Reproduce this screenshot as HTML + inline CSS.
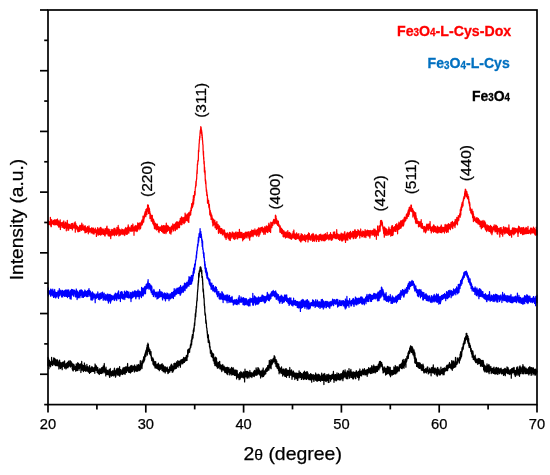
<!DOCTYPE html>
<html><head><meta charset="utf-8"><title>XRD patterns</title>
<style>html,body{margin:0;padding:0;background:#fff;width:550px;height:475px;overflow:hidden}svg{display:block}</style>
</head><body>
<svg width="550" height="475" viewBox="0 0 550 475">
<rect width="550" height="475" fill="#fff"/>
<g><polyline fill="none" stroke="#000000" stroke-width="1.25" stroke-linejoin="round" points="48.0,366.1 48.1,357.3 48.2,362.9 48.3,361.2 48.4,361.5 48.5,361.9 48.6,358.7 48.7,362.1 48.8,361.0 48.9,368.8 49.0,363.0 49.1,361.7 49.2,361.9 49.3,361.1 49.4,360.4 49.5,361.7 49.6,363.5 49.7,362.2 49.8,364.6 49.9,362.5 50.0,363.0 50.1,366.0 50.2,364.3 50.3,362.4 50.4,362.9 50.5,364.3 50.6,366.8 50.7,362.5 50.8,362.8 50.9,365.1 51.0,361.5 51.1,362.6 51.2,364.8 51.3,364.3 51.4,363.3 51.5,364.2 51.6,357.3 51.7,364.6 51.8,361.2 51.9,359.7 52.0,363.5 52.1,364.5 52.2,362.3 52.3,360.9 52.4,363.1 52.5,363.0 52.6,365.5 52.7,364.2 52.8,363.2 52.9,365.0 53.0,362.4 53.1,361.4 53.2,364.2 53.3,364.3 53.4,362.8 53.5,361.5 53.6,363.3 53.7,357.9 53.8,363.8 53.9,363.4 54.0,359.3 54.1,362.5 54.2,360.4 54.3,363.7 54.4,358.5 54.5,360.7 54.6,363.8 54.7,364.8 54.8,358.3 54.9,361.4 55.0,362.8 55.1,360.9 55.2,365.2 55.3,359.7 55.4,363.0 55.5,360.3 55.6,365.4 55.7,362.8 55.8,362.0 55.9,359.6 56.0,365.8 56.1,364.1 56.2,364.2 56.3,365.0 56.4,363.4 56.5,361.5 56.6,361.2 56.7,361.5 56.8,365.4 56.9,360.2 57.0,361.9 57.1,362.3 57.2,363.3 57.3,364.0 57.4,360.7 57.5,359.9 57.6,363.3 57.7,365.8 57.8,365.1 57.9,364.1 58.0,363.2 58.1,364.3 58.2,363.3 58.3,365.2 58.4,362.1 58.5,363.9 58.6,363.6 58.7,365.0 58.8,364.5 58.9,369.0 59.0,367.1 59.1,367.3 59.2,360.7 59.3,364.1 59.4,363.4 59.5,365.7 59.6,360.1 59.7,366.6 59.8,366.4 59.9,361.8 60.0,362.6 60.1,362.9 60.2,364.3 60.3,365.7 60.4,368.6 60.5,364.2 60.6,366.2 60.7,364.9 60.8,368.0 60.9,365.9 61.0,367.2 61.1,362.6 61.2,364.4 61.3,363.4 61.4,367.7 61.5,366.0 61.6,364.2 61.7,364.0 61.8,365.7 61.9,363.6 62.0,363.1 62.1,365.9 62.2,369.7 62.3,364.6 62.4,364.1 62.5,362.9 62.6,362.4 62.7,365.9 62.8,366.4 62.9,364.8 63.0,365.2 63.1,364.9 63.2,364.9 63.3,361.9 63.4,363.9 63.5,365.0 63.6,363.4 63.7,364.0 63.8,363.2 63.9,364.3 64.0,366.4 64.1,364.0 64.2,364.5 64.3,366.4 64.4,365.8 64.5,368.1 64.6,360.9 64.7,366.4 64.8,363.8 64.9,365.2 65.0,366.4 65.1,366.8 65.2,366.6 65.3,364.9 65.4,367.7 65.5,364.2 65.6,364.4 65.7,366.3 65.8,363.8 65.9,368.9 66.0,366.6 66.1,368.8 66.2,364.8 66.3,364.0 66.4,364.9 66.5,365.8 66.6,363.5 66.7,365.2 66.8,364.4 66.9,367.8 67.0,363.5 67.1,366.7 67.2,363.4 67.3,362.6 67.4,363.3 67.5,362.4 67.6,364.9 67.7,366.7 67.8,365.1 67.9,365.8 68.0,367.7 68.1,365.2 68.2,365.0 68.3,363.9 68.4,361.6 68.5,365.8 68.6,361.1 68.7,365.6 68.8,364.3 68.9,366.3 69.0,364.1 69.1,362.8 69.2,365.2 69.3,363.4 69.4,364.2 69.5,364.7 69.6,364.3 69.7,364.1 69.8,362.9 69.9,364.2 70.0,360.6 70.1,364.2 70.2,362.1 70.3,366.6 70.4,367.0 70.5,361.1 70.6,364.9 70.7,364.5 70.8,363.0 70.9,365.8 71.0,364.2 71.1,361.5 71.2,364.3 71.3,364.9 71.4,365.3 71.5,362.7 71.6,366.3 71.7,366.3 71.8,362.8 71.9,363.9 72.0,365.2 72.1,364.4 72.2,368.9 72.3,366.2 72.4,363.6 72.5,364.2 72.6,365.6 72.7,370.3 72.8,365.9 72.9,366.7 73.0,367.5 73.1,366.5 73.2,370.9 73.3,365.5 73.4,367.9 73.5,366.9 73.6,367.8 73.7,364.2 73.8,369.7 73.9,366.3 74.0,366.8 74.1,364.9 74.2,365.3 74.3,368.0 74.4,368.8 74.5,368.5 74.6,369.3 74.7,368.2 74.8,366.8 74.9,368.5 75.0,367.9 75.1,367.0 75.2,368.6 75.3,369.5 75.4,367.5 75.5,366.5 75.6,368.6 75.7,371.2 75.8,367.1 75.9,367.3 76.0,367.2 76.1,369.8 76.2,363.9 76.3,367.9 76.4,369.7 76.5,366.0 76.6,370.5 76.7,368.3 76.8,366.1 76.9,367.4 77.0,364.1 77.1,366.0 77.2,370.6 77.3,365.4 77.4,370.5 77.5,366.8 77.6,368.6 77.7,367.0 77.8,362.7 77.9,365.6 78.0,366.9 78.1,364.5 78.2,364.2 78.3,367.4 78.4,365.6 78.5,363.7 78.6,365.8 78.7,369.0 78.8,366.5 78.9,369.2 79.0,370.3 79.1,367.1 79.2,364.8 79.3,364.5 79.4,366.9 79.5,368.5 79.6,367.4 79.7,367.7 79.8,366.0 79.9,367.4 80.0,365.9 80.1,366.1 80.2,364.3 80.3,363.8 80.4,365.8 80.5,364.5 80.6,364.7 80.7,368.1 80.8,366.8 80.9,372.5 81.0,368.8 81.1,365.7 81.2,368.4 81.3,367.7 81.4,365.9 81.5,369.0 81.6,365.7 81.7,361.4 81.8,368.7 81.9,366.0 82.0,370.0 82.1,366.0 82.2,365.0 82.3,370.1 82.4,364.9 82.5,367.4 82.6,369.9 82.7,367.5 82.8,367.1 82.9,367.5 83.0,368.6 83.1,365.8 83.2,368.5 83.3,368.3 83.4,371.6 83.5,366.7 83.6,365.7 83.7,368.9 83.8,366.7 83.9,368.0 84.0,367.7 84.1,369.6 84.2,366.3 84.3,367.6 84.4,363.0 84.5,366.0 84.6,370.6 84.7,366.4 84.8,366.2 84.9,365.3 85.0,368.5 85.1,367.9 85.2,365.4 85.3,368.8 85.4,368.1 85.5,369.4 85.6,366.8 85.7,371.3 85.8,368.8 85.9,367.8 86.0,367.1 86.1,367.8 86.2,369.8 86.3,367.8 86.4,370.5 86.5,369.5 86.6,370.8 86.7,369.7 86.8,368.0 86.9,364.4 87.0,369.0 87.1,370.0 87.2,369.0 87.3,370.0 87.4,368.2 87.5,368.2 87.6,367.0 87.7,371.3 87.8,369.2 87.9,367.9 88.0,366.6 88.1,368.8 88.2,371.7 88.3,369.8 88.4,367.6 88.5,372.0 88.6,372.0 88.7,371.2 88.8,370.8 88.9,371.6 89.0,370.6 89.1,371.1 89.2,368.2 89.3,372.5 89.4,370.1 89.5,373.4 89.6,365.6 89.7,370.9 89.8,371.5 89.9,369.0 90.0,370.5 90.1,371.1 90.2,370.8 90.3,368.8 90.4,369.6 90.5,371.7 90.6,372.3 90.7,370.1 90.8,370.1 90.9,370.3 91.0,371.8 91.1,367.9 91.2,367.4 91.3,370.2 91.4,367.6 91.5,368.8 91.6,370.2 91.7,371.1 91.8,368.0 91.9,371.5 92.0,366.5 92.1,370.9 92.2,366.8 92.3,367.3 92.4,370.7 92.5,368.7 92.6,367.9 92.7,368.5 92.8,370.3 92.9,369.3 93.0,369.4 93.1,371.4 93.2,368.0 93.3,368.3 93.4,368.1 93.5,371.1 93.6,370.9 93.7,371.5 93.8,369.0 93.9,368.9 94.0,370.8 94.1,368.2 94.2,370.4 94.3,370.1 94.4,367.3 94.5,368.5 94.6,368.3 94.7,371.8 94.8,373.3 94.9,368.4 95.0,368.5 95.1,364.0 95.2,368.7 95.3,368.0 95.4,366.3 95.5,369.7 95.6,365.2 95.7,367.7 95.8,368.5 95.9,365.9 96.0,369.9 96.1,370.5 96.2,366.0 96.3,365.9 96.4,369.9 96.5,368.8 96.6,366.6 96.7,368.4 96.8,368.8 96.9,368.8 97.0,370.7 97.1,370.0 97.2,372.6 97.3,372.0 97.4,370.9 97.5,371.8 97.6,372.0 97.7,371.0 97.8,367.5 97.9,371.3 98.0,369.9 98.1,373.0 98.2,370.2 98.3,371.3 98.4,371.0 98.5,373.6 98.6,370.8 98.7,370.1 98.8,371.5 98.9,369.9 99.0,371.2 99.1,370.8 99.2,371.4 99.3,374.5 99.4,370.1 99.5,371.3 99.6,370.9 99.7,372.5 99.8,368.7 99.9,369.6 100.0,371.0 100.1,372.0 100.2,370.8 100.3,370.0 100.4,369.4 100.5,371.7 100.6,373.4 100.7,371.2 100.8,371.2 100.9,371.6 101.0,368.8 101.1,369.9 101.2,369.9 101.3,371.0 101.4,370.2 101.5,367.9 101.6,372.6 101.7,373.5 101.8,369.8 101.9,371.1 102.0,370.8 102.1,371.7 102.2,367.4 102.3,372.9 102.4,368.8 102.5,372.1 102.6,369.7 102.7,368.7 102.8,369.1 102.9,371.0 103.0,367.5 103.1,368.4 103.2,368.1 103.3,366.0 103.4,371.7 103.5,370.3 103.6,369.1 103.7,371.6 103.8,367.9 103.9,369.6 104.0,372.9 104.1,371.4 104.2,365.4 104.3,363.5 104.4,367.9 104.5,372.1 104.6,369.4 104.7,369.8 104.8,371.3 104.9,368.5 105.0,370.6 105.1,371.7 105.2,371.2 105.3,371.3 105.4,369.4 105.5,371.7 105.6,370.0 105.7,373.5 105.8,375.9 105.9,369.8 106.0,367.1 106.1,370.4 106.2,372.0 106.3,373.4 106.4,373.6 106.5,370.2 106.6,370.5 106.7,374.5 106.8,370.1 106.9,374.1 107.0,371.8 107.1,373.8 107.2,373.7 107.3,373.8 107.4,373.9 107.5,370.4 107.6,372.9 107.7,372.2 107.8,372.8 107.9,374.7 108.0,371.8 108.1,371.2 108.2,371.1 108.3,372.1 108.4,374.0 108.5,371.0 108.6,374.7 108.7,373.2 108.8,372.1 108.9,370.1 109.0,373.3 109.1,374.1 109.2,369.6 109.3,375.2 109.4,376.1 109.5,373.6 109.6,374.1 109.7,377.4 109.8,375.0 109.9,370.9 110.0,372.7 110.1,372.6 110.2,372.6 110.3,368.5 110.4,374.5 110.5,371.8 110.6,373.3 110.7,372.9 110.8,374.8 110.9,372.8 111.0,371.7 111.1,374.3 111.2,376.0 111.3,372.8 111.4,375.8 111.5,373.7 111.6,372.1 111.7,376.0 111.8,371.6 111.9,375.2 112.0,372.4 112.1,374.2 112.2,371.1 112.3,371.8 112.4,375.4 112.5,373.8 112.6,373.5 112.7,372.7 112.8,374.4 112.9,370.7 113.0,371.1 113.1,373.1 113.2,371.8 113.3,371.9 113.4,373.0 113.5,372.9 113.6,372.4 113.7,375.9 113.8,374.7 113.9,375.0 114.0,372.5 114.1,371.5 114.2,369.5 114.3,371.5 114.4,368.2 114.5,371.1 114.6,373.6 114.7,375.1 114.8,374.0 114.9,370.5 115.0,373.0 115.1,370.6 115.2,373.9 115.3,372.1 115.4,373.9 115.5,377.2 115.6,374.2 115.7,376.8 115.8,372.6 115.9,371.5 116.0,374.5 116.1,375.2 116.2,370.6 116.3,371.7 116.4,368.8 116.5,371.1 116.6,373.1 116.7,371.4 116.8,370.4 116.9,368.9 117.0,372.4 117.1,373.1 117.2,372.5 117.3,371.9 117.4,369.1 117.5,374.9 117.6,371.6 117.7,371.9 117.8,373.6 117.9,368.1 118.0,372.1 118.1,372.0 118.2,373.1 118.3,375.1 118.4,373.1 118.5,368.7 118.6,371.3 118.7,372.3 118.8,372.2 118.9,369.6 119.0,369.2 119.1,373.2 119.2,372.6 119.3,372.1 119.4,369.1 119.5,375.7 119.6,366.7 119.7,371.5 119.8,376.3 119.9,372.1 120.0,372.8 120.1,370.2 120.2,375.1 120.3,370.0 120.4,373.1 120.5,372.7 120.6,370.5 120.7,373.9 120.8,369.7 120.9,371.1 121.0,372.2 121.1,371.3 121.2,373.1 121.3,374.1 121.4,371.8 121.5,371.3 121.6,371.2 121.7,371.2 121.8,373.2 121.9,371.2 122.0,372.5 122.1,371.5 122.2,370.1 122.3,373.2 122.4,369.6 122.5,371.6 122.6,374.5 122.7,369.5 122.8,371.2 122.9,368.2 123.0,370.0 123.1,368.2 123.2,370.4 123.3,369.8 123.4,371.0 123.5,373.7 123.6,371.2 123.7,372.1 123.8,370.9 123.9,370.4 124.0,369.3 124.1,367.4 124.2,371.0 124.3,373.8 124.4,371.4 124.5,369.6 124.6,373.5 124.7,369.6 124.8,369.1 124.9,367.9 125.0,368.4 125.1,369.8 125.2,374.2 125.3,369.7 125.4,368.0 125.5,368.6 125.6,369.4 125.7,366.8 125.8,370.5 125.9,371.6 126.0,370.9 126.1,371.3 126.2,367.6 126.3,366.9 126.4,372.5 126.5,372.1 126.6,367.1 126.7,370.6 126.8,370.4 126.9,371.2 127.0,370.7 127.1,369.1 127.2,370.1 127.3,369.9 127.4,369.4 127.5,365.8 127.6,363.5 127.7,367.7 127.8,366.0 127.9,369.5 128.0,370.5 128.1,369.7 128.2,368.7 128.3,369.6 128.4,371.8 128.5,368.1 128.6,371.3 128.7,370.9 128.8,370.1 128.9,372.4 129.0,368.3 129.1,371.3 129.2,367.5 129.3,367.9 129.4,367.3 129.5,370.2 129.6,367.5 129.7,369.2 129.8,366.9 129.9,371.0 130.0,372.4 130.1,369.2 130.2,371.9 130.3,369.8 130.4,373.0 130.5,369.1 130.6,366.0 130.7,371.8 130.8,368.6 130.9,367.1 131.0,367.8 131.1,366.0 131.2,368.9 131.3,367.0 131.4,371.9 131.5,370.4 131.6,366.0 131.7,366.2 131.8,368.0 131.9,365.3 132.0,368.5 132.1,368.6 132.2,367.0 132.3,367.4 132.4,369.3 132.5,371.2 132.6,371.3 132.7,368.5 132.8,370.0 132.9,367.0 133.0,369.2 133.1,366.6 133.2,369.9 133.3,366.3 133.4,367.0 133.5,368.8 133.6,369.9 133.7,366.2 133.8,367.9 133.9,369.2 134.0,369.4 134.1,367.7 134.2,369.5 134.3,368.9 134.4,372.0 134.5,370.3 134.6,366.7 134.7,365.0 134.8,369.3 134.9,371.2 135.0,369.2 135.1,370.6 135.2,367.9 135.3,366.5 135.4,370.5 135.5,369.4 135.6,370.6 135.7,366.6 135.8,369.5 135.9,367.9 136.0,370.7 136.1,367.9 136.2,367.9 136.3,367.8 136.4,371.0 136.5,368.5 136.6,367.1 136.7,366.7 136.8,366.6 136.9,371.3 137.0,364.9 137.1,366.6 137.2,369.4 137.3,370.2 137.4,367.6 137.5,369.5 137.6,369.5 137.7,369.7 137.8,367.7 137.9,371.0 138.0,368.2 138.1,370.4 138.2,365.3 138.3,369.1 138.4,364.8 138.5,364.5 138.6,368.0 138.7,365.4 138.8,367.7 138.9,364.9 139.0,370.1 139.1,367.1 139.2,365.1 139.3,367.6 139.4,369.0 139.5,365.8 139.6,368.0 139.7,370.6 139.8,368.5 139.9,366.8 140.0,365.7 140.1,367.9 140.2,363.7 140.3,360.7 140.4,365.3 140.5,364.3 140.6,369.5 140.7,366.0 140.8,364.0 140.9,363.4 141.0,366.6 141.1,364.1 141.2,364.4 141.3,365.1 141.4,365.4 141.5,365.1 141.6,364.8 141.7,367.1 141.8,367.7 141.9,361.1 142.0,368.6 142.1,364.0 142.2,366.0 142.3,361.7 142.4,363.5 142.5,362.9 142.6,362.6 142.7,363.8 142.8,363.4 142.9,360.0 143.0,361.3 143.1,362.6 143.2,362.1 143.3,359.7 143.4,359.5 143.5,359.3 143.6,357.3 143.7,357.0 143.8,362.0 143.9,357.8 144.0,358.3 144.1,356.6 144.2,360.2 144.3,360.8 144.4,356.8 144.5,357.9 144.6,355.2 144.7,359.8 144.8,357.5 144.9,353.8 145.0,357.4 145.1,355.4 145.2,355.0 145.3,354.8 145.4,352.5 145.5,352.5 145.6,354.4 145.7,352.8 145.8,350.9 145.9,356.3 146.0,351.7 146.1,350.6 146.2,350.0 146.3,352.4 146.4,352.7 146.5,351.3 146.6,352.4 146.7,347.6 146.8,349.5 146.9,349.0 147.0,349.6 147.1,350.2 147.2,345.1 147.3,355.1 147.4,347.2 147.5,349.6 147.6,350.7 147.7,350.3 147.8,349.1 147.9,343.2 148.0,346.8 148.1,350.2 148.2,346.9 148.3,346.7 148.4,344.4 148.5,351.3 148.6,350.1 148.7,347.5 148.8,349.4 148.9,349.5 149.0,347.8 149.1,349.6 149.2,351.0 149.3,351.9 149.4,353.4 149.5,351.1 149.6,350.5 149.7,352.2 149.8,350.5 149.9,349.6 150.0,354.5 150.1,352.0 150.2,353.4 150.3,354.6 150.4,351.6 150.5,355.1 150.6,355.0 150.7,354.4 150.8,355.7 150.9,353.9 151.0,351.5 151.1,355.6 151.2,354.8 151.3,358.3 151.4,357.5 151.5,356.3 151.6,357.5 151.7,360.5 151.8,360.6 151.9,359.4 152.0,359.6 152.1,358.5 152.2,359.2 152.3,360.9 152.4,359.8 152.5,360.9 152.6,358.4 152.7,357.8 152.8,357.9 152.9,360.6 153.0,364.2 153.1,364.2 153.2,360.1 153.3,358.9 153.4,363.6 153.5,363.2 153.6,359.9 153.7,364.8 153.8,363.4 153.9,365.6 154.0,364.2 154.1,365.5 154.2,364.4 154.3,362.3 154.4,363.8 154.5,363.2 154.6,366.0 154.7,362.7 154.8,361.6 154.9,365.9 155.0,367.2 155.1,368.0 155.2,367.5 155.3,362.6 155.4,364.3 155.5,364.6 155.6,365.7 155.7,361.7 155.8,365.6 155.9,366.1 156.0,363.8 156.1,366.1 156.2,368.2 156.3,366.1 156.4,367.9 156.5,367.9 156.6,366.9 156.7,366.8 156.8,365.3 156.9,368.3 157.0,365.2 157.1,364.6 157.2,367.7 157.3,365.1 157.4,367.2 157.5,368.5 157.6,366.9 157.7,367.2 157.8,368.7 157.9,368.4 158.0,363.7 158.1,364.1 158.2,369.4 158.3,367.7 158.4,363.2 158.5,364.6 158.6,367.1 158.7,365.1 158.8,368.2 158.9,367.4 159.0,368.1 159.1,364.9 159.2,368.2 159.3,370.7 159.4,365.2 159.5,369.4 159.6,368.9 159.7,368.2 159.8,366.8 159.9,364.8 160.0,365.3 160.1,368.4 160.2,368.8 160.3,369.3 160.4,368.9 160.5,369.0 160.6,366.5 160.7,365.0 160.8,367.8 160.9,368.4 161.0,367.6 161.1,364.6 161.2,366.4 161.3,364.8 161.4,368.1 161.5,365.8 161.6,367.4 161.7,368.2 161.8,367.8 161.9,370.3 162.0,365.7 162.1,363.7 162.2,369.5 162.3,370.2 162.4,370.3 162.5,368.1 162.6,368.9 162.7,368.4 162.8,365.5 162.9,366.9 163.0,369.0 163.1,367.1 163.2,371.7 163.3,365.2 163.4,367.6 163.5,370.4 163.6,367.2 163.7,366.4 163.8,366.3 163.9,367.4 164.0,371.8 164.1,369.5 164.2,369.8 164.3,368.1 164.4,370.9 164.5,369.1 164.6,367.2 164.7,368.2 164.8,369.5 164.9,371.2 165.0,368.9 165.1,370.1 165.2,373.0 165.3,367.6 165.4,366.8 165.5,370.9 165.6,369.9 165.7,368.9 165.8,370.0 165.9,368.7 166.0,370.5 166.1,369.0 166.2,371.3 166.3,367.8 166.4,368.5 166.5,370.1 166.6,368.9 166.7,371.0 166.8,369.8 166.9,369.0 167.0,370.5 167.1,369.1 167.2,367.1 167.3,368.1 167.4,368.6 167.5,369.3 167.6,370.3 167.7,371.9 167.8,371.2 167.9,373.5 168.0,372.7 168.1,370.1 168.2,373.5 168.3,372.6 168.4,369.3 168.5,370.9 168.6,372.3 168.7,370.5 168.8,372.2 168.9,371.2 169.0,371.8 169.1,369.6 169.2,371.0 169.3,369.4 169.4,371.4 169.5,366.8 169.6,370.7 169.7,372.2 169.8,370.4 169.9,369.3 170.0,370.3 170.1,367.6 170.2,367.4 170.3,368.1 170.4,368.4 170.5,370.6 170.6,366.8 170.7,370.5 170.8,365.4 170.9,366.8 171.0,368.3 171.1,370.3 171.2,367.0 171.3,364.2 171.4,369.1 171.5,368.1 171.6,366.2 171.7,366.2 171.8,366.9 171.9,368.5 172.0,369.4 172.1,365.1 172.2,372.2 172.3,367.8 172.4,367.1 172.5,369.0 172.6,367.8 172.7,372.1 172.8,369.7 172.9,366.7 173.0,366.6 173.1,366.6 173.2,366.9 173.3,368.9 173.4,366.2 173.5,370.8 173.6,367.3 173.7,367.2 173.8,369.4 173.9,363.6 174.0,365.5 174.1,368.2 174.2,367.2 174.3,367.2 174.4,367.8 174.5,365.9 174.6,366.8 174.7,364.3 174.8,363.1 174.9,368.9 175.0,364.4 175.1,364.9 175.2,368.7 175.3,367.7 175.4,364.8 175.5,365.0 175.6,365.5 175.7,363.7 175.8,366.3 175.9,365.3 176.0,365.4 176.1,366.6 176.2,366.7 176.3,368.4 176.4,367.9 176.5,361.8 176.6,366.7 176.7,362.9 176.8,362.2 176.9,366.3 177.0,363.4 177.1,364.0 177.2,366.5 177.3,363.2 177.4,362.4 177.5,364.5 177.6,366.4 177.7,364.9 177.8,360.7 177.9,362.6 178.0,363.5 178.1,367.2 178.2,365.1 178.3,364.9 178.4,365.4 178.5,362.5 178.6,363.9 178.7,364.0 178.8,361.3 178.9,363.3 179.0,364.6 179.1,361.3 179.2,364.9 179.3,364.6 179.4,364.9 179.5,361.2 179.6,362.9 179.7,365.5 179.8,364.4 179.9,361.3 180.0,363.1 180.1,365.2 180.2,362.2 180.3,363.0 180.4,367.2 180.5,362.2 180.6,362.2 180.7,360.3 180.8,360.7 180.9,364.6 181.0,361.6 181.1,359.7 181.2,360.2 181.3,361.8 181.4,363.2 181.5,360.4 181.6,363.1 181.7,360.9 181.8,362.7 181.9,362.8 182.0,362.7 182.1,361.0 182.2,361.4 182.3,362.5 182.4,359.2 182.5,362.2 182.6,362.7 182.7,363.8 182.8,361.5 182.9,361.2 183.0,361.7 183.1,360.1 183.2,361.0 183.3,362.4 183.4,362.1 183.5,359.5 183.6,360.8 183.7,357.3 183.8,362.6 183.9,360.1 184.0,361.5 184.1,359.0 184.2,360.9 184.3,361.7 184.4,362.4 184.5,357.8 184.6,361.8 184.7,359.8 184.8,358.7 184.9,361.0 185.0,359.3 185.1,359.0 185.2,358.0 185.3,359.7 185.4,359.5 185.5,359.1 185.6,357.3 185.7,357.8 185.8,359.1 185.9,360.8 186.0,358.2 186.1,360.6 186.2,357.6 186.3,355.6 186.4,358.7 186.5,355.4 186.6,357.6 186.7,358.5 186.8,355.7 186.9,355.7 187.0,360.4 187.1,356.1 187.2,356.0 187.3,356.9 187.4,355.0 187.5,354.8 187.6,355.5 187.7,349.9 187.8,356.8 187.9,351.9 188.0,351.6 188.1,354.3 188.2,353.1 188.3,350.4 188.4,353.0 188.5,350.2 188.6,350.8 188.7,349.1 188.8,350.0 188.9,352.1 189.0,351.4 189.1,351.5 189.2,352.3 189.3,350.2 189.4,348.7 189.5,348.9 189.6,352.2 189.7,348.9 189.8,349.4 189.9,348.2 190.0,348.6 190.1,348.9 190.2,347.7 190.3,347.0 190.4,345.3 190.5,344.7 190.6,346.9 190.7,347.3 190.8,347.4 190.9,345.3 191.0,343.2 191.1,345.3 191.2,344.8 191.3,340.2 191.4,344.1 191.5,343.3 191.6,345.0 191.7,339.2 191.8,338.6 191.9,342.1 192.0,336.7 192.1,338.2 192.2,337.1 192.3,336.9 192.4,334.6 192.5,337.4 192.6,339.0 192.7,337.5 192.8,337.0 192.9,334.8 193.0,337.7 193.1,335.4 193.2,335.7 193.3,330.3 193.4,333.1 193.5,329.6 193.6,332.0 193.7,331.2 193.8,328.0 193.9,329.7 194.0,331.1 194.1,328.8 194.2,328.3 194.3,324.7 194.4,324.4 194.5,322.8 194.6,324.2 194.7,325.4 194.8,323.0 194.9,321.3 195.0,318.3 195.1,320.3 195.2,318.1 195.3,314.2 195.4,313.5 195.5,315.1 195.6,312.9 195.7,316.8 195.8,312.7 195.9,309.6 196.0,309.6 196.1,312.3 196.2,306.5 196.3,308.5 196.4,306.9 196.5,307.5 196.6,304.6 196.7,301.6 196.8,302.1 196.9,300.3 197.0,300.9 197.1,297.7 197.2,300.4 197.3,295.2 197.4,295.0 197.5,291.8 197.6,291.9 197.7,290.3 197.8,289.2 197.9,289.3 198.0,285.3 198.1,283.5 198.2,285.9 198.3,282.1 198.4,280.3 198.5,282.5 198.6,280.7 198.7,273.1 198.8,276.4 198.9,277.5 199.0,276.6 199.1,273.3 199.2,276.3 199.3,270.9 199.4,271.3 199.5,271.3 199.6,270.7 199.7,271.6 199.8,271.6 199.9,269.2 200.0,271.3 200.1,267.1 200.2,267.7 200.3,271.2 200.4,268.1 200.5,269.7 200.6,266.9 200.7,267.3 200.8,267.9 200.9,268.5 201.0,267.6 201.1,268.6 201.2,270.3 201.3,271.8 201.4,270.4 201.5,272.1 201.6,273.5 201.7,270.5 201.8,270.4 201.9,277.2 202.0,277.5 202.1,276.1 202.2,277.6 202.3,276.3 202.4,276.6 202.5,280.9 202.6,278.8 202.7,284.4 202.8,282.5 202.9,285.8 203.0,290.2 203.1,291.4 203.2,288.6 203.3,292.2 203.4,289.5 203.5,291.6 203.6,294.3 203.7,297.6 203.8,294.9 203.9,298.2 204.0,298.9 204.1,297.9 204.2,301.2 204.3,305.5 204.4,303.6 204.5,306.3 204.6,308.1 204.7,306.4 204.8,311.1 204.9,312.8 205.0,314.4 205.1,315.1 205.2,312.9 205.3,313.7 205.4,314.2 205.5,315.0 205.6,316.2 205.7,320.8 205.8,322.7 205.9,319.7 206.0,323.4 206.1,320.6 206.2,323.6 206.3,323.3 206.4,322.8 206.5,326.7 206.6,327.6 206.7,327.6 206.8,328.5 206.9,328.2 207.0,330.7 207.1,330.5 207.2,332.9 207.3,331.1 207.4,334.4 207.5,335.7 207.6,337.8 207.7,337.9 207.8,337.0 207.9,336.1 208.0,334.3 208.1,338.1 208.2,341.4 208.3,342.4 208.4,335.2 208.5,339.0 208.6,340.5 208.7,339.4 208.8,342.3 208.9,342.5 209.0,341.6 209.1,342.9 209.2,340.5 209.3,342.0 209.4,342.9 209.5,346.8 209.6,342.4 209.7,345.5 209.8,348.0 209.9,347.0 210.0,349.0 210.1,346.5 210.2,348.9 210.3,350.1 210.4,353.2 210.5,350.8 210.6,352.2 210.7,349.8 210.8,350.2 210.9,353.4 211.0,351.7 211.1,353.7 211.2,352.7 211.3,355.8 211.4,356.6 211.5,350.8 211.6,356.3 211.7,353.9 211.8,354.5 211.9,353.6 212.0,355.6 212.1,352.6 212.2,353.8 212.3,353.9 212.4,356.0 212.5,357.5 212.6,357.2 212.7,357.0 212.8,355.6 212.9,353.6 213.0,358.3 213.1,358.2 213.2,358.6 213.3,360.8 213.4,357.8 213.5,357.8 213.6,354.0 213.7,359.8 213.8,358.9 213.9,357.8 214.0,360.2 214.1,357.7 214.2,358.7 214.3,363.5 214.4,361.3 214.5,362.1 214.6,362.4 214.7,362.2 214.8,361.5 214.9,365.6 215.0,361.1 215.1,362.6 215.2,361.0 215.3,360.9 215.4,357.1 215.5,358.4 215.6,365.0 215.7,365.1 215.8,361.6 215.9,362.6 216.0,363.9 216.1,360.6 216.2,365.9 216.3,360.8 216.4,361.7 216.5,357.9 216.6,366.2 216.7,363.4 216.8,366.4 216.9,361.4 217.0,363.8 217.1,363.3 217.2,363.8 217.3,367.5 217.4,368.1 217.5,366.5 217.6,363.4 217.7,366.0 217.8,366.8 217.9,365.2 218.0,365.3 218.1,365.1 218.2,362.7 218.3,365.1 218.4,367.8 218.5,362.9 218.6,364.9 218.7,366.7 218.8,362.6 218.9,364.9 219.0,362.2 219.1,364.4 219.2,362.8 219.3,363.8 219.4,364.7 219.5,365.0 219.6,365.3 219.7,361.3 219.8,368.8 219.9,365.2 220.0,364.0 220.1,365.0 220.2,367.0 220.3,364.6 220.4,365.7 220.5,365.8 220.6,367.8 220.7,365.5 220.8,367.9 220.9,368.0 221.0,367.2 221.1,369.8 221.2,367.4 221.3,365.1 221.4,367.8 221.5,367.5 221.6,367.1 221.7,367.5 221.8,371.6 221.9,367.6 222.0,368.1 222.1,367.0 222.2,370.1 222.3,367.5 222.4,366.2 222.5,365.2 222.6,368.5 222.7,368.9 222.8,364.5 222.9,366.6 223.0,369.1 223.1,369.9 223.2,365.8 223.3,367.6 223.4,370.0 223.5,367.4 223.6,367.7 223.7,367.6 223.8,366.3 223.9,369.0 224.0,369.4 224.1,366.1 224.2,369.0 224.3,370.9 224.4,369.3 224.5,370.8 224.6,368.0 224.7,371.7 224.8,367.5 224.9,372.5 225.0,367.9 225.1,367.6 225.2,367.5 225.3,368.8 225.4,368.9 225.5,368.6 225.6,369.5 225.7,371.4 225.8,371.8 225.9,369.6 226.0,372.7 226.1,368.6 226.2,368.2 226.3,368.1 226.4,371.5 226.5,367.5 226.6,368.0 226.7,372.9 226.8,373.8 226.9,372.9 227.0,367.7 227.1,370.6 227.2,372.0 227.3,370.8 227.4,367.3 227.5,370.0 227.6,367.4 227.7,368.2 227.8,374.7 227.9,371.9 228.0,367.9 228.1,368.0 228.2,371.7 228.3,369.9 228.4,372.3 228.5,369.9 228.6,370.9 228.7,371.7 228.8,369.3 228.9,367.7 229.0,369.2 229.1,370.2 229.2,371.2 229.3,371.4 229.4,371.2 229.5,372.4 229.6,369.4 229.7,373.8 229.8,374.9 229.9,371.8 230.0,371.5 230.1,373.5 230.2,372.4 230.3,371.5 230.4,370.9 230.5,369.7 230.6,368.9 230.7,372.5 230.8,373.6 230.9,369.3 231.0,371.2 231.1,371.7 231.2,370.4 231.3,369.8 231.4,370.7 231.5,367.4 231.6,371.2 231.7,370.7 231.8,375.1 231.9,372.8 232.0,370.5 232.1,371.3 232.2,374.6 232.3,374.3 232.4,371.7 232.5,371.0 232.6,368.4 232.7,370.6 232.8,370.7 232.9,369.7 233.0,374.4 233.1,367.6 233.2,371.1 233.3,372.2 233.4,372.3 233.5,374.7 233.6,368.9 233.7,370.3 233.8,372.2 233.9,372.4 234.0,371.3 234.1,370.6 234.2,374.1 234.3,370.0 234.4,370.9 234.5,374.9 234.6,375.4 234.7,373.9 234.8,370.8 234.9,371.0 235.0,371.0 235.1,370.5 235.2,372.0 235.3,375.1 235.4,373.4 235.5,371.7 235.6,371.6 235.7,371.0 235.8,375.6 235.9,369.8 236.0,374.1 236.1,370.8 236.2,371.4 236.3,370.7 236.4,375.2 236.5,373.4 236.6,378.9 236.7,371.9 236.8,372.1 236.9,375.5 237.0,375.4 237.1,373.9 237.2,370.5 237.3,377.2 237.4,375.6 237.5,375.3 237.6,373.6 237.7,376.0 237.8,373.8 237.9,374.8 238.0,374.4 238.1,377.4 238.2,374.4 238.3,374.6 238.4,377.5 238.5,376.0 238.6,375.8 238.7,375.2 238.8,377.4 238.9,374.5 239.0,376.6 239.1,379.7 239.2,376.5 239.3,374.3 239.4,373.5 239.5,375.9 239.6,373.3 239.7,372.7 239.8,374.4 239.9,373.6 240.0,377.6 240.1,373.1 240.2,378.9 240.3,374.3 240.4,375.9 240.5,376.9 240.6,376.0 240.7,377.0 240.8,373.7 240.9,371.5 241.0,375.3 241.1,372.6 241.2,374.6 241.3,377.3 241.4,375.1 241.5,374.3 241.6,373.3 241.7,375.0 241.8,375.1 241.9,372.6 242.0,376.1 242.1,373.2 242.2,375.5 242.3,374.3 242.4,377.0 242.5,376.5 242.6,374.8 242.7,374.7 242.8,375.8 242.9,377.4 243.0,376.6 243.1,375.1 243.2,375.5 243.3,377.9 243.4,371.9 243.5,375.9 243.6,373.1 243.7,377.2 243.8,373.6 243.9,374.2 244.0,372.2 244.1,374.3 244.2,376.0 244.3,377.5 244.4,371.9 244.5,373.5 244.6,381.9 244.7,376.2 244.8,374.4 244.9,375.2 245.0,369.2 245.1,377.2 245.2,374.5 245.3,371.5 245.4,376.4 245.5,373.0 245.6,372.2 245.7,374.9 245.8,374.9 245.9,373.1 246.0,373.8 246.1,371.5 246.2,371.3 246.3,375.9 246.4,376.7 246.5,375.3 246.6,375.2 246.7,373.8 246.8,374.2 246.9,372.6 247.0,378.1 247.1,373.4 247.2,375.0 247.3,374.2 247.4,371.3 247.5,378.1 247.6,373.7 247.7,372.9 247.8,374.6 247.9,372.8 248.0,374.5 248.1,372.6 248.2,375.4 248.3,374.6 248.4,372.0 248.5,376.7 248.6,375.2 248.7,372.5 248.8,375.0 248.9,375.2 249.0,377.9 249.1,372.8 249.2,376.1 249.3,374.4 249.4,375.8 249.5,374.1 249.6,374.5 249.7,375.5 249.8,372.1 249.9,370.5 250.0,374.6 250.1,373.9 250.2,374.9 250.3,375.9 250.4,374.2 250.5,376.6 250.6,374.1 250.7,374.3 250.8,375.6 250.9,375.1 251.0,373.6 251.1,374.1 251.2,372.5 251.3,372.7 251.4,374.1 251.5,375.4 251.6,373.0 251.7,375.3 251.8,377.3 251.9,377.6 252.0,373.6 252.1,375.6 252.2,374.9 252.3,375.1 252.4,375.2 252.5,374.5 252.6,375.0 252.7,373.7 252.8,372.9 252.9,373.9 253.0,374.5 253.1,375.9 253.2,374.3 253.3,375.0 253.4,376.2 253.5,371.8 253.6,373.0 253.7,374.6 253.8,373.5 253.9,371.5 254.0,375.1 254.1,372.9 254.2,371.1 254.3,376.6 254.4,370.4 254.5,372.7 254.6,371.6 254.7,372.9 254.8,373.8 254.9,371.3 255.0,372.5 255.1,372.4 255.2,370.8 255.3,375.0 255.4,373.1 255.5,372.2 255.6,371.4 255.7,372.3 255.8,373.1 255.9,371.8 256.0,375.3 256.1,367.9 256.2,368.6 256.3,372.4 256.4,369.5 256.5,372.7 256.6,371.5 256.7,373.8 256.8,373.4 256.9,375.2 257.0,374.1 257.1,374.7 257.2,373.2 257.3,374.4 257.4,373.1 257.5,371.0 257.6,369.7 257.7,369.8 257.8,373.1 257.9,367.7 258.0,372.5 258.1,370.9 258.2,373.9 258.3,372.8 258.4,371.0 258.5,372.5 258.6,368.2 258.7,373.1 258.8,373.2 258.9,368.8 259.0,374.1 259.1,372.2 259.2,372.8 259.3,369.8 259.4,373.7 259.5,373.7 259.6,372.7 259.7,370.5 259.8,374.1 259.9,375.1 260.0,373.5 260.1,374.6 260.2,371.5 260.3,372.8 260.4,373.1 260.5,372.8 260.6,378.0 260.7,373.6 260.8,371.8 260.9,374.6 261.0,371.1 261.1,373.8 261.2,374.7 261.3,372.1 261.4,372.6 261.5,371.5 261.6,373.4 261.7,371.8 261.8,376.1 261.9,374.1 262.0,372.6 262.1,370.2 262.2,376.8 262.3,375.4 262.4,373.8 262.5,373.2 262.6,373.1 262.7,371.9 262.8,376.7 262.9,373.6 263.0,370.4 263.1,371.8 263.2,368.0 263.3,374.0 263.4,374.0 263.5,375.7 263.6,376.3 263.7,371.2 263.8,373.3 263.9,374.3 264.0,373.8 264.1,371.4 264.2,373.9 264.3,373.4 264.4,375.0 264.5,372.3 264.6,371.8 264.7,371.2 264.8,371.4 264.9,370.5 265.0,371.2 265.1,372.8 265.2,372.7 265.3,374.2 265.4,373.6 265.5,372.5 265.6,369.2 265.7,372.3 265.8,373.7 265.9,368.9 266.0,369.0 266.1,369.0 266.2,368.8 266.3,370.1 266.4,368.8 266.5,371.2 266.6,368.1 266.7,370.1 266.8,369.0 266.9,367.6 267.0,371.4 267.1,369.4 267.2,370.3 267.3,368.8 267.4,370.9 267.5,370.6 267.6,369.0 267.7,365.7 267.8,370.5 267.9,369.9 268.0,368.8 268.1,368.6 268.2,368.2 268.3,368.0 268.4,365.3 268.5,366.9 268.6,367.5 268.7,365.7 268.8,364.8 268.9,370.1 269.0,367.3 269.1,365.3 269.2,364.7 269.3,360.4 269.4,362.4 269.5,364.4 269.6,367.2 269.7,361.0 269.8,363.2 269.9,367.9 270.0,365.4 270.1,364.8 270.2,366.0 270.3,363.4 270.4,363.2 270.5,364.8 270.6,364.9 270.7,361.1 270.8,365.9 270.9,359.7 271.0,361.6 271.1,368.7 271.2,361.8 271.3,363.7 271.4,360.1 271.5,361.1 271.6,360.2 271.7,360.5 271.8,362.6 271.9,364.6 272.0,362.8 272.1,364.0 272.2,359.9 272.3,363.5 272.4,361.9 272.5,363.3 272.6,359.7 272.7,359.8 272.8,362.6 272.9,361.0 273.0,360.1 273.1,358.7 273.2,359.8 273.3,361.0 273.4,361.4 273.5,359.0 273.6,359.3 273.7,360.6 273.8,357.9 273.9,361.8 274.0,360.3 274.1,360.1 274.2,355.7 274.3,357.3 274.4,358.3 274.5,359.1 274.6,358.1 274.7,360.9 274.8,360.8 274.9,360.1 275.0,356.8 275.1,363.7 275.2,360.4 275.3,362.4 275.4,360.2 275.5,361.6 275.6,363.1 275.7,362.6 275.8,364.0 275.9,362.0 276.0,366.4 276.1,359.5 276.2,362.3 276.3,365.4 276.4,363.3 276.5,363.2 276.6,360.9 276.7,366.9 276.8,361.2 276.9,366.2 277.0,365.7 277.1,367.2 277.2,368.2 277.3,364.3 277.4,364.5 277.5,365.8 277.6,363.6 277.7,368.6 277.8,366.3 277.9,367.3 278.0,365.2 278.1,367.7 278.2,366.7 278.3,368.0 278.4,366.3 278.5,370.6 278.6,367.6 278.7,364.0 278.8,370.0 278.9,368.4 279.0,367.4 279.1,373.8 279.2,369.0 279.3,366.7 279.4,368.4 279.5,370.4 279.6,369.3 279.7,372.3 279.8,372.0 279.9,368.8 280.0,370.4 280.1,371.5 280.2,369.4 280.3,369.6 280.4,372.2 280.5,371.4 280.6,368.1 280.7,369.7 280.8,370.1 280.9,370.6 281.0,369.7 281.1,373.6 281.2,369.5 281.3,369.5 281.4,371.7 281.5,366.9 281.6,368.9 281.7,372.2 281.8,368.6 281.9,369.8 282.0,373.2 282.1,371.9 282.2,371.4 282.3,371.7 282.4,369.9 282.5,371.7 282.6,370.9 282.7,376.1 282.8,372.8 282.9,371.1 283.0,371.5 283.1,371.8 283.2,369.1 283.3,370.2 283.4,374.7 283.5,369.2 283.6,370.9 283.7,373.7 283.8,374.7 283.9,369.7 284.0,374.5 284.1,371.1 284.2,375.1 284.3,372.9 284.4,371.4 284.5,373.6 284.6,373.1 284.7,370.7 284.8,376.3 284.9,371.5 285.0,374.5 285.1,371.3 285.2,368.9 285.3,370.3 285.4,372.4 285.5,374.0 285.6,376.3 285.7,373.1 285.8,372.5 285.9,370.5 286.0,372.8 286.1,373.6 286.2,368.7 286.3,375.5 286.4,375.1 286.5,377.3 286.6,371.1 286.7,373.0 286.8,372.9 286.9,370.3 287.0,371.2 287.1,371.0 287.2,373.8 287.3,373.6 287.4,375.3 287.5,372.0 287.6,370.2 287.7,373.8 287.8,373.7 287.9,374.3 288.0,375.3 288.1,371.8 288.2,374.5 288.3,371.2 288.4,373.4 288.5,374.3 288.6,372.8 288.7,373.4 288.8,370.4 288.9,371.6 289.0,373.0 289.1,370.5 289.2,371.2 289.3,377.5 289.4,373.5 289.5,371.3 289.6,370.7 289.7,375.4 289.8,367.5 289.9,372.1 290.0,373.9 290.1,371.6 290.2,373.7 290.3,370.7 290.4,372.9 290.5,373.1 290.6,373.0 290.7,373.3 290.8,372.8 290.9,375.1 291.0,372.6 291.1,372.0 291.2,372.9 291.3,372.8 291.4,370.4 291.5,369.8 291.6,370.8 291.7,374.0 291.8,372.1 291.9,372.7 292.0,379.3 292.1,376.1 292.2,373.3 292.3,372.4 292.4,376.3 292.5,372.2 292.6,376.1 292.7,375.0 292.8,376.7 292.9,373.0 293.0,376.4 293.1,371.2 293.2,374.1 293.3,376.6 293.4,375.6 293.5,371.1 293.6,376.3 293.7,375.7 293.8,374.5 293.9,373.4 294.0,374.1 294.1,373.5 294.2,376.5 294.3,375.9 294.4,377.0 294.5,376.1 294.6,372.8 294.7,375.5 294.8,379.5 294.9,373.2 295.0,376.1 295.1,374.0 295.2,373.9 295.3,376.3 295.4,377.9 295.5,377.7 295.6,377.0 295.7,378.0 295.8,373.2 295.9,377.7 296.0,376.7 296.1,375.5 296.2,375.9 296.3,374.5 296.4,378.3 296.5,374.4 296.6,373.2 296.7,376.0 296.8,374.9 296.9,375.7 297.0,378.6 297.1,375.5 297.2,376.1 297.3,380.1 297.4,373.3 297.5,376.5 297.6,378.0 297.7,378.8 297.8,380.4 297.9,374.9 298.0,377.5 298.1,376.4 298.2,375.7 298.3,375.1 298.4,373.7 298.5,377.2 298.6,377.7 298.7,374.2 298.8,377.6 298.9,375.1 299.0,374.0 299.1,370.8 299.2,377.9 299.3,377.0 299.4,374.8 299.5,374.6 299.6,372.9 299.7,376.3 299.8,375.3 299.9,376.6 300.0,375.8 300.1,372.9 300.2,372.6 300.3,376.3 300.4,372.4 300.5,376.2 300.6,377.4 300.7,373.1 300.8,376.9 300.9,375.8 301.0,376.8 301.1,374.6 301.2,375.9 301.3,376.8 301.4,379.4 301.5,377.4 301.6,376.9 301.7,373.6 301.8,376.6 301.9,374.5 302.0,375.8 302.1,376.3 302.2,377.4 302.3,376.5 302.4,375.6 302.5,375.1 302.6,378.1 302.7,373.8 302.8,375.6 302.9,378.3 303.0,375.3 303.1,377.2 303.2,377.4 303.3,379.5 303.4,377.8 303.5,372.5 303.6,375.5 303.7,376.1 303.8,377.0 303.9,376.1 304.0,379.1 304.1,377.5 304.2,373.4 304.3,374.3 304.4,371.2 304.5,378.6 304.6,374.9 304.7,375.1 304.8,372.2 304.9,374.4 305.0,376.0 305.1,374.4 305.2,374.4 305.3,373.8 305.4,378.9 305.5,374.1 305.6,372.3 305.7,373.9 305.8,374.3 305.9,375.0 306.0,374.6 306.1,373.0 306.2,375.0 306.3,376.2 306.4,372.8 306.5,379.4 306.6,378.6 306.7,371.8 306.8,374.7 306.9,377.3 307.0,377.9 307.1,378.8 307.2,371.6 307.3,373.1 307.4,374.4 307.5,376.4 307.6,373.5 307.7,376.5 307.8,376.3 307.9,376.9 308.0,373.1 308.1,376.1 308.2,375.7 308.3,375.1 308.4,378.8 308.5,375.9 308.6,379.2 308.7,375.1 308.8,379.6 308.9,379.5 309.0,374.8 309.1,377.1 309.2,377.1 309.3,374.6 309.4,378.0 309.5,377.6 309.6,374.9 309.7,376.8 309.8,378.3 309.9,376.3 310.0,375.3 310.1,379.9 310.2,374.9 310.3,377.4 310.4,378.9 310.5,378.3 310.6,373.6 310.7,376.7 310.8,377.0 310.9,376.9 311.0,378.8 311.1,378.9 311.2,378.2 311.3,378.5 311.4,379.9 311.5,380.5 311.6,374.3 311.7,382.2 311.8,376.9 311.9,379.4 312.0,374.7 312.1,376.6 312.2,375.1 312.3,379.5 312.4,379.0 312.5,377.4 312.6,377.0 312.7,378.0 312.8,375.4 312.9,376.1 313.0,375.6 313.1,378.5 313.2,377.0 313.3,374.6 313.4,377.9 313.5,378.2 313.6,379.9 313.7,376.3 313.8,378.2 313.9,381.4 314.0,376.7 314.1,376.5 314.2,378.0 314.3,376.2 314.4,377.3 314.5,376.4 314.6,375.5 314.7,378.8 314.8,376.3 314.9,375.1 315.0,376.2 315.1,376.6 315.2,377.3 315.3,378.4 315.4,380.2 315.5,374.2 315.6,376.0 315.7,373.0 315.8,377.1 315.9,377.7 316.0,375.7 316.1,375.5 316.2,375.5 316.3,374.6 316.4,378.7 316.5,380.9 316.6,375.4 316.7,380.9 316.8,377.4 316.9,375.1 317.0,379.1 317.1,379.7 317.2,378.8 317.3,377.7 317.4,381.2 317.5,377.6 317.6,379.3 317.7,379.3 317.8,376.2 317.9,374.4 318.0,374.6 318.1,377.1 318.2,378.6 318.3,374.4 318.4,376.4 318.5,380.6 318.6,374.3 318.7,378.6 318.8,378.5 318.9,379.3 319.0,374.9 319.1,378.5 319.2,375.3 319.3,380.4 319.4,376.0 319.5,378.6 319.6,376.2 319.7,378.0 319.8,374.9 319.9,378.4 320.0,378.9 320.1,377.7 320.2,380.8 320.3,378.3 320.4,379.3 320.5,378.8 320.6,381.3 320.7,376.3 320.8,377.2 320.9,377.1 321.0,378.6 321.1,377.9 321.2,378.9 321.3,377.8 321.4,376.3 321.5,377.2 321.6,378.3 321.7,373.1 321.8,380.3 321.9,376.4 322.0,376.8 322.1,378.1 322.2,377.2 322.3,375.1 322.4,377.3 322.5,380.3 322.6,379.7 322.7,380.1 322.8,376.6 322.9,377.1 323.0,379.7 323.1,380.4 323.2,377.6 323.3,375.8 323.4,374.1 323.5,380.5 323.6,375.1 323.7,378.9 323.8,379.9 323.9,384.5 324.0,378.2 324.1,377.6 324.2,378.6 324.3,378.8 324.4,380.0 324.5,378.8 324.6,376.1 324.7,373.5 324.8,378.1 324.9,376.2 325.0,380.3 325.1,375.1 325.2,378.3 325.3,376.5 325.4,376.1 325.5,381.1 325.6,378.0 325.7,377.3 325.8,379.0 325.9,376.2 326.0,376.9 326.1,376.5 326.2,381.6 326.3,378.2 326.4,378.8 326.5,380.0 326.6,377.5 326.7,377.5 326.8,374.7 326.9,378.9 327.0,378.5 327.1,377.2 327.2,380.3 327.3,374.6 327.4,378.8 327.5,375.3 327.6,375.6 327.7,377.4 327.8,380.3 327.9,375.4 328.0,376.0 328.1,375.6 328.2,382.3 328.3,379.2 328.4,379.2 328.5,382.5 328.6,378.8 328.7,374.2 328.8,377.4 328.9,375.9 329.0,382.4 329.1,375.6 329.2,378.8 329.3,377.2 329.4,377.3 329.5,378.1 329.6,377.8 329.7,376.8 329.8,375.5 329.9,376.4 330.0,375.7 330.1,375.9 330.2,377.8 330.3,377.3 330.4,378.6 330.5,377.0 330.6,381.2 330.7,376.0 330.8,375.4 330.9,379.5 331.0,375.9 331.1,377.4 331.2,379.3 331.3,377.0 331.4,376.6 331.5,379.3 331.6,378.1 331.7,376.4 331.8,375.2 331.9,376.8 332.0,374.4 332.1,375.8 332.2,375.1 332.3,377.8 332.4,378.6 332.5,375.7 332.6,376.3 332.7,374.9 332.8,374.2 332.9,376.3 333.0,378.0 333.1,377.7 333.2,378.0 333.3,376.2 333.4,371.4 333.5,378.7 333.6,379.5 333.7,378.4 333.8,378.6 333.9,379.1 334.0,382.3 334.1,377.6 334.2,380.2 334.3,378.6 334.4,378.4 334.5,376.8 334.6,376.4 334.7,374.8 334.8,378.0 334.9,376.2 335.0,374.5 335.1,375.5 335.2,374.7 335.3,380.2 335.4,376.4 335.5,377.2 335.6,374.6 335.7,374.9 335.8,378.8 335.9,376.3 336.0,377.0 336.1,380.3 336.2,380.8 336.3,378.0 336.4,377.8 336.5,377.2 336.6,375.9 336.7,380.5 336.8,374.2 336.9,376.5 337.0,372.9 337.1,374.2 337.2,377.3 337.3,377.3 337.4,376.9 337.5,375.5 337.6,374.8 337.7,375.3 337.8,375.5 337.9,378.7 338.0,379.3 338.1,377.4 338.2,375.3 338.3,374.6 338.4,377.2 338.5,376.4 338.6,373.3 338.7,379.7 338.8,376.9 338.9,376.2 339.0,375.1 339.1,375.1 339.2,378.3 339.3,374.7 339.4,376.8 339.5,377.7 339.6,380.0 339.7,377.7 339.8,376.4 339.9,375.6 340.0,378.2 340.1,378.5 340.2,375.8 340.3,378.0 340.4,376.5 340.5,373.8 340.6,375.2 340.7,378.9 340.8,379.9 340.9,378.5 341.0,376.7 341.1,375.4 341.2,378.0 341.3,377.6 341.4,373.7 341.5,378.3 341.6,375.7 341.7,378.3 341.8,377.8 341.9,378.0 342.0,378.6 342.1,377.8 342.2,374.4 342.3,374.4 342.4,378.5 342.5,377.2 342.6,373.0 342.7,372.0 342.8,377.9 342.9,380.7 343.0,377.7 343.1,375.5 343.2,376.6 343.3,370.4 343.4,373.6 343.5,377.7 343.6,377.2 343.7,371.2 343.8,377.8 343.9,376.5 344.0,377.2 344.1,374.8 344.2,375.1 344.3,372.8 344.4,375.6 344.5,376.3 344.6,372.7 344.7,375.2 344.8,373.5 344.9,376.5 345.0,376.3 345.1,369.8 345.2,375.2 345.3,376.5 345.4,373.5 345.5,374.1 345.6,374.1 345.7,372.2 345.8,374.6 345.9,378.0 346.0,376.0 346.1,377.9 346.2,376.8 346.3,377.0 346.4,374.9 346.5,376.1 346.6,378.6 346.7,377.5 346.8,375.2 346.9,373.2 347.0,372.7 347.1,375.1 347.2,375.4 347.3,370.9 347.4,375.1 347.5,375.3 347.6,375.2 347.7,373.3 347.8,378.8 347.9,375.9 348.0,371.5 348.1,372.8 348.2,375.7 348.3,375.0 348.4,374.3 348.5,374.2 348.6,373.9 348.7,373.2 348.8,372.1 348.9,375.2 349.0,368.7 349.1,372.7 349.2,376.6 349.3,372.6 349.4,371.9 349.5,378.2 349.6,376.5 349.7,374.2 349.8,373.2 349.9,373.8 350.0,373.6 350.1,373.9 350.2,372.9 350.3,375.7 350.4,373.3 350.5,370.7 350.6,371.7 350.7,374.3 350.8,372.3 350.9,369.4 351.0,377.4 351.1,375.4 351.2,373.7 351.3,373.8 351.4,375.8 351.5,377.5 351.6,373.7 351.7,375.9 351.8,374.1 351.9,376.0 352.0,373.2 352.1,372.0 352.2,375.9 352.3,375.6 352.4,377.1 352.5,374.3 352.6,378.3 352.7,376.0 352.8,378.8 352.9,375.1 353.0,378.8 353.1,375.6 353.2,376.0 353.3,377.4 353.4,372.0 353.5,373.2 353.6,378.8 353.7,372.1 353.8,373.9 353.9,375.9 354.0,377.6 354.1,373.7 354.2,375.0 354.3,372.3 354.4,373.8 354.5,376.7 354.6,375.3 354.7,374.7 354.8,375.7 354.9,375.2 355.0,375.1 355.1,373.9 355.2,372.5 355.3,375.7 355.4,372.3 355.5,376.4 355.6,378.6 355.7,377.2 355.8,378.5 355.9,372.0 356.0,374.6 356.1,372.4 356.2,372.5 356.3,370.7 356.4,371.6 356.5,375.7 356.6,375.3 356.7,376.2 356.8,376.1 356.9,375.3 357.0,372.0 357.1,373.5 357.2,375.1 357.3,376.2 357.4,373.1 357.5,372.9 357.6,373.1 357.7,377.4 357.8,375.6 357.9,374.0 358.0,373.2 358.1,375.6 358.2,371.4 358.3,374.2 358.4,373.5 358.5,373.5 358.6,374.9 358.7,375.1 358.8,380.1 358.9,374.2 359.0,375.4 359.1,372.7 359.2,371.2 359.3,376.4 359.4,377.8 359.5,372.0 359.6,373.8 359.7,376.0 359.8,373.9 359.9,369.0 360.0,375.6 360.1,373.2 360.2,374.7 360.3,371.5 360.4,375.2 360.5,375.4 360.6,372.0 360.7,374.4 360.8,372.0 360.9,372.2 361.0,371.5 361.1,372.4 361.2,371.8 361.3,375.5 361.4,372.7 361.5,371.1 361.6,375.9 361.7,373.9 361.8,374.6 361.9,372.4 362.0,373.9 362.1,372.3 362.2,370.6 362.3,372.7 362.4,372.9 362.5,372.6 362.6,374.1 362.7,369.2 362.8,373.1 362.9,370.9 363.0,371.8 363.1,373.2 363.2,372.3 363.3,371.2 363.4,373.9 363.5,372.2 363.6,374.1 363.7,374.7 363.8,371.5 363.9,369.9 364.0,372.2 364.1,373.6 364.2,372.8 364.3,369.8 364.4,368.6 364.5,369.9 364.6,369.7 364.7,372.5 364.8,371.5 364.9,373.3 365.0,371.4 365.1,374.9 365.2,371.8 365.3,372.9 365.4,371.0 365.5,372.5 365.6,373.6 365.7,373.1 365.8,374.0 365.9,370.2 366.0,372.2 366.1,374.7 366.2,371.8 366.3,371.0 366.4,370.9 366.5,370.4 366.6,371.7 366.7,374.1 366.8,372.3 366.9,371.5 367.0,370.1 367.1,369.4 367.2,376.3 367.3,370.5 367.4,371.5 367.5,370.2 367.6,371.5 367.7,370.1 367.8,371.4 367.9,373.9 368.0,369.4 368.1,372.0 368.2,370.6 368.3,372.0 368.4,369.1 368.5,371.4 368.6,368.9 368.7,367.6 368.8,368.3 368.9,368.8 369.0,368.6 369.1,370.1 369.2,372.9 369.3,368.7 369.4,371.7 369.5,370.9 369.6,369.4 369.7,368.9 369.8,371.8 369.9,372.0 370.0,370.6 370.1,370.6 370.2,370.7 370.3,368.1 370.4,370.7 370.5,370.9 370.6,373.6 370.7,367.9 370.8,368.6 370.9,370.4 371.0,369.0 371.1,369.2 371.2,369.9 371.3,369.3 371.4,370.0 371.5,370.8 371.6,366.7 371.7,371.1 371.8,365.7 371.9,373.4 372.0,371.8 372.1,368.7 372.2,372.0 372.3,369.8 372.4,371.1 372.5,371.8 372.6,370.9 372.7,370.2 372.8,371.5 372.9,370.1 373.0,369.5 373.1,368.3 373.2,366.5 373.3,372.7 373.4,371.1 373.5,367.0 373.6,370.1 373.7,369.7 373.8,365.0 373.9,367.5 374.0,368.6 374.1,372.2 374.2,371.3 374.3,371.6 374.4,370.1 374.5,371.2 374.6,367.1 374.7,370.5 374.8,370.7 374.9,366.7 375.0,369.7 375.1,372.1 375.2,372.9 375.3,372.1 375.4,367.9 375.5,369.3 375.6,368.6 375.7,372.0 375.8,367.9 375.9,367.4 376.0,366.4 376.1,369.8 376.2,370.3 376.3,368.2 376.4,367.7 376.5,368.7 376.6,371.6 376.7,366.3 376.8,368.8 376.9,369.1 377.0,369.4 377.1,371.1 377.2,370.2 377.3,369.1 377.4,371.3 377.5,370.5 377.6,369.1 377.7,368.9 377.8,366.0 377.9,368.5 378.0,366.7 378.1,365.8 378.2,367.3 378.3,364.4 378.4,365.8 378.5,366.5 378.6,367.8 378.7,366.2 378.8,367.4 378.9,369.9 379.0,368.2 379.1,364.1 379.2,362.8 379.3,364.1 379.4,363.8 379.5,361.5 379.6,361.9 379.7,361.9 379.8,363.8 379.9,367.5 380.0,367.9 380.1,362.7 380.2,363.6 380.3,361.7 380.4,361.3 380.5,364.2 380.6,364.1 380.7,362.8 380.8,365.3 380.9,363.5 381.0,366.1 381.1,363.1 381.2,365.8 381.3,363.9 381.4,364.9 381.5,366.0 381.6,362.4 381.7,363.8 381.8,365.4 381.9,365.2 382.0,366.5 382.1,364.9 382.2,364.2 382.3,366.8 382.4,367.7 382.5,365.9 382.6,369.9 382.7,369.3 382.8,369.8 382.9,369.8 383.0,366.8 383.1,372.9 383.2,367.6 383.3,370.1 383.4,370.9 383.5,370.2 383.6,370.0 383.7,368.2 383.8,369.1 383.9,370.1 384.0,372.4 384.1,368.5 384.2,371.2 384.3,370.8 384.4,370.1 384.5,368.9 384.6,369.9 384.7,367.0 384.8,370.5 384.9,371.1 385.0,369.5 385.1,371.6 385.2,371.1 385.3,369.1 385.4,372.1 385.5,369.5 385.6,375.1 385.7,368.5 385.8,368.8 385.9,369.1 386.0,370.8 386.1,372.7 386.2,370.6 386.3,369.8 386.4,374.3 386.5,372.8 386.6,370.5 386.7,370.7 386.8,367.9 386.9,370.8 387.0,373.9 387.1,368.5 387.2,368.2 387.3,370.9 387.4,366.3 387.5,373.5 387.6,368.1 387.7,369.5 387.8,370.6 387.9,373.2 388.0,371.8 388.1,367.5 388.2,367.9 388.3,371.5 388.4,367.1 388.5,370.7 388.6,369.7 388.7,372.8 388.8,373.6 388.9,366.9 389.0,372.7 389.1,372.9 389.2,370.3 389.3,370.7 389.4,369.6 389.5,371.4 389.6,373.0 389.7,374.8 389.8,375.2 389.9,372.0 390.0,371.1 390.1,374.5 390.2,367.3 390.3,369.8 390.4,373.6 390.5,376.7 390.6,370.7 390.7,372.5 390.8,370.4 390.9,372.6 391.0,372.7 391.1,371.1 391.2,373.3 391.3,372.3 391.4,373.6 391.5,372.2 391.6,370.3 391.7,372.9 391.8,374.4 391.9,371.2 392.0,375.3 392.1,373.4 392.2,371.7 392.3,372.3 392.4,371.3 392.5,370.3 392.6,373.7 392.7,373.6 392.8,370.9 392.9,371.2 393.0,371.2 393.1,372.9 393.2,374.4 393.3,370.3 393.4,371.9 393.5,371.3 393.6,372.5 393.7,374.1 393.8,369.4 393.9,367.0 394.0,370.4 394.1,367.6 394.2,373.8 394.3,369.2 394.4,370.0 394.5,370.8 394.6,370.8 394.7,369.6 394.8,370.1 394.9,371.7 395.0,369.5 395.1,373.7 395.2,370.7 395.3,365.5 395.4,371.5 395.5,366.4 395.6,370.3 395.7,373.9 395.8,371.5 395.9,367.5 396.0,368.2 396.1,369.9 396.2,372.5 396.3,368.5 396.4,372.0 396.5,370.5 396.6,369.6 396.7,369.3 396.8,372.9 396.9,366.6 397.0,367.2 397.1,371.0 397.2,371.2 397.3,366.8 397.4,367.5 397.5,366.9 397.6,369.9 397.7,367.4 397.8,371.6 397.9,370.5 398.0,369.5 398.1,369.3 398.2,369.9 398.3,370.3 398.4,368.6 398.5,369.1 398.6,370.0 398.7,368.2 398.8,370.2 398.9,367.9 399.0,366.6 399.1,368.4 399.2,371.1 399.3,370.8 399.4,364.9 399.5,368.5 399.6,366.8 399.7,367.0 399.8,366.7 399.9,366.5 400.0,365.8 400.1,366.3 400.2,367.3 400.3,364.5 400.4,364.4 400.5,364.7 400.6,364.5 400.7,367.7 400.8,364.3 400.9,366.4 401.0,366.5 401.1,367.6 401.2,366.3 401.3,368.3 401.4,366.2 401.5,366.6 401.6,367.5 401.7,363.2 401.8,366.3 401.9,368.2 402.0,365.3 402.1,364.8 402.2,368.7 402.3,365.4 402.4,367.5 402.5,360.7 402.6,365.4 402.7,364.3 402.8,365.9 402.9,367.5 403.0,364.8 403.1,364.4 403.2,359.3 403.3,366.2 403.4,367.2 403.5,364.8 403.6,363.5 403.7,365.1 403.8,366.5 403.9,365.8 404.0,368.3 404.1,363.1 404.2,361.3 404.3,364.7 404.4,366.0 404.5,362.5 404.6,363.5 404.7,362.4 404.8,361.1 404.9,362.0 405.0,359.3 405.1,363.6 405.2,363.6 405.3,364.1 405.4,360.7 405.5,360.9 405.6,358.8 405.7,359.3 405.8,363.7 405.9,367.2 406.0,359.6 406.1,360.2 406.2,362.6 406.3,359.2 406.4,361.4 406.5,359.3 406.6,359.2 406.7,361.2 406.8,358.9 406.9,356.4 407.0,359.9 407.1,358.3 407.2,357.0 407.3,356.1 407.4,358.3 407.5,355.7 407.6,356.9 407.7,358.1 407.8,355.9 407.9,357.9 408.0,353.0 408.1,356.4 408.2,356.2 408.3,358.4 408.4,354.7 408.5,356.1 408.6,353.6 408.7,351.4 408.8,351.2 408.9,351.0 409.0,353.8 409.1,350.9 409.2,351.9 409.3,353.2 409.4,353.6 409.5,352.9 409.6,353.5 409.7,348.1 409.8,349.2 409.9,350.6 410.0,351.9 410.1,350.8 410.2,348.2 410.3,349.3 410.4,346.3 410.5,350.9 410.6,345.8 410.7,349.4 410.8,350.9 410.9,350.8 411.0,346.0 411.1,349.5 411.2,348.6 411.3,348.8 411.4,352.5 411.5,349.9 411.6,346.9 411.7,347.6 411.8,351.0 411.9,350.4 412.0,347.6 412.1,346.7 412.2,348.8 412.3,349.1 412.4,351.6 412.5,348.9 412.6,351.7 412.7,353.2 412.8,348.2 412.9,350.4 413.0,354.8 413.1,351.1 413.2,352.3 413.3,354.6 413.4,351.5 413.5,352.5 413.6,350.5 413.7,355.2 413.8,353.4 413.9,353.8 414.0,349.8 414.1,357.0 414.2,356.9 414.3,354.2 414.4,358.5 414.5,351.8 414.6,356.6 414.7,354.0 414.8,362.8 414.9,352.9 415.0,355.9 415.1,357.0 415.2,360.1 415.3,360.3 415.4,359.6 415.5,358.6 415.6,363.3 415.7,358.1 415.8,360.4 415.9,363.3 416.0,358.0 416.1,359.2 416.2,363.1 416.3,362.4 416.4,359.4 416.5,362.5 416.6,366.4 416.7,362.4 416.8,364.6 416.9,363.5 417.0,362.0 417.1,366.3 417.2,365.4 417.3,366.0 417.4,363.7 417.5,364.2 417.6,364.5 417.7,364.9 417.8,363.7 417.9,363.5 418.0,367.3 418.1,362.7 418.2,364.2 418.3,364.4 418.4,364.3 418.5,362.9 418.6,363.7 418.7,366.5 418.8,364.2 418.9,363.6 419.0,368.3 419.1,362.7 419.2,367.3 419.3,366.0 419.4,362.9 419.5,364.9 419.6,365.0 419.7,368.4 419.8,367.8 419.9,365.5 420.0,364.0 420.1,363.1 420.2,366.2 420.3,363.6 420.4,366.0 420.5,366.0 420.6,367.0 420.7,368.1 420.8,366.4 420.9,367.1 421.0,366.0 421.1,368.6 421.2,368.3 421.3,370.0 421.4,369.7 421.5,365.7 421.6,364.7 421.7,368.6 421.8,369.7 421.9,366.4 422.0,370.6 422.1,368.0 422.2,367.7 422.3,368.7 422.4,365.5 422.5,365.2 422.6,367.9 422.7,366.6 422.8,368.9 422.9,368.9 423.0,364.1 423.1,367.7 423.2,370.4 423.3,365.3 423.4,369.3 423.5,367.5 423.6,366.3 423.7,372.2 423.8,372.1 423.9,369.4 424.0,369.2 424.1,373.0 424.2,372.9 424.3,370.5 424.4,371.9 424.5,370.5 424.6,369.7 424.7,371.5 424.8,369.6 424.9,371.8 425.0,370.1 425.1,369.8 425.2,369.5 425.3,371.4 425.4,372.1 425.5,371.2 425.6,368.7 425.7,372.0 425.8,368.9 425.9,368.5 426.0,370.3 426.1,372.2 426.2,371.8 426.3,371.5 426.4,372.9 426.5,371.9 426.6,369.7 426.7,371.8 426.8,370.0 426.9,371.3 427.0,371.5 427.1,370.0 427.2,367.2 427.3,369.8 427.4,369.3 427.5,369.8 427.6,369.2 427.7,367.9 427.8,367.0 427.9,371.2 428.0,371.8 428.1,370.8 428.2,370.0 428.3,373.9 428.4,371.7 428.5,370.6 428.6,372.0 428.7,370.5 428.8,371.9 428.9,371.1 429.0,371.6 429.1,370.4 429.2,369.6 429.3,371.4 429.4,372.8 429.5,368.8 429.6,369.5 429.7,368.2 429.8,372.2 429.9,370.1 430.0,372.4 430.1,369.3 430.2,372.3 430.3,369.7 430.4,370.0 430.5,372.0 430.6,370.2 430.7,369.7 430.8,372.4 430.9,370.7 431.0,373.3 431.1,375.8 431.2,370.0 431.3,370.1 431.4,367.9 431.5,368.5 431.6,371.9 431.7,371.2 431.8,371.1 431.9,371.6 432.0,369.0 432.1,367.4 432.2,372.4 432.3,370.9 432.4,372.4 432.5,370.0 432.6,371.6 432.7,369.1 432.8,370.2 432.9,369.9 433.0,371.0 433.1,373.1 433.2,371.5 433.3,364.8 433.4,369.9 433.5,370.3 433.6,372.0 433.7,370.6 433.8,368.9 433.9,368.8 434.0,369.5 434.1,368.7 434.2,372.7 434.3,371.4 434.4,370.4 434.5,372.0 434.6,374.2 434.7,369.8 434.8,370.1 434.9,369.7 435.0,367.9 435.1,368.9 435.2,368.4 435.3,371.4 435.4,371.4 435.5,372.3 435.6,369.2 435.7,372.7 435.8,369.0 435.9,370.5 436.0,373.3 436.1,373.2 436.2,372.9 436.3,374.9 436.4,373.0 436.5,370.5 436.6,370.5 436.7,369.5 436.8,371.5 436.9,369.7 437.0,370.0 437.1,369.2 437.2,368.1 437.3,376.2 437.4,373.2 437.5,367.7 437.6,372.2 437.7,370.5 437.8,367.5 437.9,371.0 438.0,371.9 438.1,372.7 438.2,373.8 438.3,369.9 438.4,371.4 438.5,372.9 438.6,372.7 438.7,372.5 438.8,372.0 438.9,374.1 439.0,369.6 439.1,369.2 439.2,375.1 439.3,372.5 439.4,373.9 439.5,372.3 439.6,371.2 439.7,371.1 439.8,372.2 439.9,371.0 440.0,371.7 440.1,371.6 440.2,373.5 440.3,373.2 440.4,374.8 440.5,370.6 440.6,372.0 440.7,373.8 440.8,372.3 440.9,367.1 441.0,372.2 441.1,371.7 441.2,370.7 441.3,370.7 441.4,370.2 441.5,373.5 441.6,372.6 441.7,371.9 441.8,373.5 441.9,373.3 442.0,369.9 442.1,369.3 442.2,369.3 442.3,372.6 442.4,371.2 442.5,373.4 442.6,371.9 442.7,370.6 442.8,368.5 442.9,370.3 443.0,374.8 443.1,369.3 443.2,369.2 443.3,370.3 443.4,373.0 443.5,370.2 443.6,368.3 443.7,368.9 443.8,369.6 443.9,370.0 444.0,371.7 444.1,374.7 444.2,372.5 444.3,371.3 444.4,369.6 444.5,367.9 444.6,370.4 444.7,371.7 444.8,370.9 444.9,369.0 445.0,370.6 445.1,368.9 445.2,369.0 445.3,368.6 445.4,369.0 445.5,368.9 445.6,370.9 445.7,368.6 445.8,368.2 445.9,370.2 446.0,369.5 446.1,370.3 446.2,366.7 446.3,370.6 446.4,367.9 446.5,366.0 446.6,367.7 446.7,365.6 446.8,365.9 446.9,367.1 447.0,369.6 447.1,365.2 447.2,368.2 447.3,367.2 447.4,370.7 447.5,368.1 447.6,368.8 447.7,370.3 447.8,365.8 447.9,367.3 448.0,365.1 448.1,365.9 448.2,367.8 448.3,366.8 448.4,368.1 448.5,366.8 448.6,366.1 448.7,367.0 448.8,365.6 448.9,365.1 449.0,364.0 449.1,366.5 449.2,367.6 449.3,364.7 449.4,366.0 449.5,362.5 449.6,364.4 449.7,366.9 449.8,364.4 449.9,367.4 450.0,365.9 450.1,367.4 450.2,365.6 450.3,364.0 450.4,366.3 450.5,367.7 450.6,365.5 450.7,367.3 450.8,365.2 450.9,365.7 451.0,368.7 451.1,366.6 451.2,364.8 451.3,367.4 451.4,366.5 451.5,365.2 451.6,367.6 451.7,360.7 451.8,367.0 451.9,369.3 452.0,366.3 452.1,362.1 452.2,368.2 452.3,370.3 452.4,366.5 452.5,363.5 452.6,364.0 452.7,365.0 452.8,365.8 452.9,367.4 453.0,366.3 453.1,361.0 453.2,364.3 453.3,364.6 453.4,368.1 453.5,363.6 453.6,362.0 453.7,363.8 453.8,365.0 453.9,361.2 454.0,366.4 454.1,364.1 454.2,365.9 454.3,365.6 454.4,365.5 454.5,367.1 454.6,367.4 454.7,363.4 454.8,364.0 454.9,366.0 455.0,364.4 455.1,362.7 455.2,364.0 455.3,362.4 455.4,362.7 455.5,357.3 455.6,363.6 455.7,366.8 455.8,364.8 455.9,364.7 456.0,363.7 456.1,362.1 456.2,364.2 456.3,363.1 456.4,362.7 456.5,363.2 456.6,361.8 456.7,362.9 456.8,363.7 456.9,364.5 457.0,362.7 457.1,363.8 457.2,362.5 457.3,357.8 457.4,358.4 457.5,361.5 457.6,359.9 457.7,362.9 457.8,359.2 457.9,360.5 458.0,360.1 458.1,359.4 458.2,359.6 458.3,360.3 458.4,360.4 458.5,359.1 458.6,360.2 458.7,360.8 458.8,359.4 458.9,358.3 459.0,357.9 459.1,358.1 459.2,357.7 459.3,358.4 459.4,363.1 459.5,359.9 459.6,357.6 459.7,358.4 459.8,358.1 459.9,358.9 460.0,358.9 460.1,354.1 460.2,360.1 460.3,354.2 460.4,355.8 460.5,354.0 460.6,351.9 460.7,351.7 460.8,358.3 460.9,357.0 461.0,352.3 461.1,351.8 461.2,356.4 461.3,351.6 461.4,354.2 461.5,356.7 461.6,354.0 461.7,355.2 461.8,352.5 461.9,348.8 462.0,350.0 462.1,347.7 462.2,351.2 462.3,348.0 462.4,350.2 462.5,348.7 462.6,347.9 462.7,349.7 462.8,347.3 462.9,346.3 463.0,349.4 463.1,347.0 463.2,343.9 463.3,348.5 463.4,343.3 463.5,345.9 463.6,346.1 463.7,344.1 463.8,342.7 463.9,343.4 464.0,343.1 464.1,341.1 464.2,344.1 464.3,340.9 464.4,340.4 464.5,343.9 464.6,339.8 464.7,338.0 464.8,340.2 464.9,340.0 465.0,339.6 465.1,343.2 465.2,337.9 465.3,341.0 465.4,339.5 465.5,340.5 465.6,337.2 465.7,336.4 465.8,336.6 465.9,337.5 466.0,338.5 466.1,339.7 466.2,333.3 466.3,338.5 466.4,337.2 466.5,336.6 466.6,334.6 466.7,337.2 466.8,333.3 466.9,339.2 467.0,335.2 467.1,336.8 467.2,337.0 467.3,338.6 467.4,335.3 467.5,339.6 467.6,339.2 467.7,341.9 467.8,339.9 467.9,339.2 468.0,336.0 468.1,339.3 468.2,343.4 468.3,340.1 468.4,340.4 468.5,341.2 468.6,343.2 468.7,338.7 468.8,345.8 468.9,343.9 469.0,344.4 469.1,343.3 469.2,347.4 469.3,343.4 469.4,346.3 469.5,345.2 469.6,343.2 469.7,345.6 469.8,347.5 469.9,345.9 470.0,346.1 470.1,347.1 470.2,345.6 470.3,345.5 470.4,348.1 470.5,346.6 470.6,349.6 470.7,350.2 470.8,351.5 470.9,351.1 471.0,349.3 471.1,351.1 471.2,348.6 471.3,351.6 471.4,350.1 471.5,353.9 471.6,350.3 471.7,352.1 471.8,350.5 471.9,353.6 472.0,353.9 472.1,351.2 472.2,357.2 472.3,354.6 472.4,351.2 472.5,352.4 472.6,351.0 472.7,350.9 472.8,354.7 472.9,351.3 473.0,356.2 473.1,352.8 473.2,355.4 473.3,359.6 473.4,356.0 473.5,356.7 473.6,359.2 473.7,356.6 473.8,358.3 473.9,356.0 474.0,357.0 474.1,358.3 474.2,358.3 474.3,357.0 474.4,359.1 474.5,359.8 474.6,360.1 474.7,359.2 474.8,357.6 474.9,360.7 475.0,361.1 475.1,357.6 475.2,355.2 475.3,359.5 475.4,361.7 475.5,361.6 475.6,357.8 475.7,362.6 475.8,358.4 475.9,361.8 476.0,359.4 476.1,362.0 476.2,361.3 476.3,360.0 476.4,361.8 476.5,359.6 476.6,360.3 476.7,360.3 476.8,359.3 476.9,362.7 477.0,362.9 477.1,361.2 477.2,359.7 477.3,362.5 477.4,362.1 477.5,363.0 477.6,361.7 477.7,361.2 477.8,364.4 477.9,360.7 478.0,361.5 478.1,358.5 478.2,361.3 478.3,361.3 478.4,361.6 478.5,363.4 478.6,361.2 478.7,363.0 478.8,361.7 478.9,361.4 479.0,358.5 479.1,362.9 479.2,363.3 479.3,360.2 479.4,361.1 479.5,358.8 479.6,361.3 479.7,360.2 479.8,363.1 479.9,362.3 480.0,363.7 480.1,361.0 480.2,359.4 480.3,362.6 480.4,361.7 480.5,366.2 480.6,363.4 480.7,365.7 480.8,364.0 480.9,362.5 481.0,360.3 481.1,362.9 481.2,364.6 481.3,363.5 481.4,364.0 481.5,364.0 481.6,360.9 481.7,364.1 481.8,362.3 481.9,363.7 482.0,366.5 482.1,360.4 482.2,363.9 482.3,364.9 482.4,366.4 482.5,364.6 482.6,363.2 482.7,366.2 482.8,365.9 482.9,361.7 483.0,365.5 483.1,362.3 483.2,360.5 483.3,363.7 483.4,364.0 483.5,361.9 483.6,369.6 483.7,363.7 483.8,367.0 483.9,367.8 484.0,370.8 484.1,366.2 484.2,370.1 484.3,364.8 484.4,367.1 484.5,366.5 484.6,365.5 484.7,368.2 484.8,371.2 484.9,371.8 485.0,369.2 485.1,365.8 485.2,366.1 485.3,368.9 485.4,368.9 485.5,368.9 485.6,367.6 485.7,366.6 485.8,369.1 485.9,368.3 486.0,371.1 486.1,367.1 486.2,370.0 486.3,371.1 486.4,372.1 486.5,371.9 486.6,366.1 486.7,366.0 486.8,368.6 486.9,366.7 487.0,363.9 487.1,371.2 487.2,369.6 487.3,370.5 487.4,368.9 487.5,370.8 487.6,369.0 487.7,368.8 487.8,372.0 487.9,366.2 488.0,369.3 488.1,365.3 488.2,371.1 488.3,368.0 488.4,366.1 488.5,364.9 488.6,368.0 488.7,372.2 488.8,369.5 488.9,365.6 489.0,364.5 489.1,373.7 489.2,367.3 489.3,365.6 489.4,368.7 489.5,369.7 489.6,371.6 489.7,368.2 489.8,367.2 489.9,370.1 490.0,367.3 490.1,369.4 490.2,369.1 490.3,370.3 490.4,367.2 490.5,367.4 490.6,369.5 490.7,370.0 490.8,366.3 490.9,367.6 491.0,369.5 491.1,368.6 491.2,373.6 491.3,370.6 491.4,371.7 491.5,369.2 491.6,369.6 491.7,369.8 491.8,371.8 491.9,368.9 492.0,372.6 492.1,368.3 492.2,371.7 492.3,370.3 492.4,369.2 492.5,372.8 492.6,371.8 492.7,369.3 492.8,368.3 492.9,371.4 493.0,368.4 493.1,371.0 493.2,368.2 493.3,370.2 493.4,368.3 493.5,369.8 493.6,373.4 493.7,373.4 493.8,369.2 493.9,369.6 494.0,367.1 494.1,370.9 494.2,372.4 494.3,368.9 494.4,368.9 494.5,371.6 494.6,369.8 494.7,371.2 494.8,373.7 494.9,371.6 495.0,372.0 495.1,374.1 495.2,371.1 495.3,372.1 495.4,370.9 495.5,369.3 495.6,373.8 495.7,368.0 495.8,370.7 495.9,368.6 496.0,369.3 496.1,368.4 496.2,370.5 496.3,371.8 496.4,373.4 496.5,367.3 496.6,371.0 496.7,369.9 496.8,369.5 496.9,370.3 497.0,370.8 497.1,370.1 497.2,370.6 497.3,374.5 497.4,370.5 497.5,370.8 497.6,368.1 497.7,372.5 497.8,369.4 497.9,370.2 498.0,368.7 498.1,370.3 498.2,368.8 498.3,368.2 498.4,367.9 498.5,369.8 498.6,370.4 498.7,371.8 498.8,373.6 498.9,374.0 499.0,369.3 499.1,369.3 499.2,372.1 499.3,369.1 499.4,372.8 499.5,372.6 499.6,368.8 499.7,372.1 499.8,373.4 499.9,371.5 500.0,370.0 500.1,370.2 500.2,371.5 500.3,369.0 500.4,371.0 500.5,370.1 500.6,369.3 500.7,368.9 500.8,372.0 500.9,369.5 501.0,371.7 501.1,368.1 501.2,371.1 501.3,372.1 501.4,372.7 501.5,373.8 501.6,373.1 501.7,373.3 501.8,371.7 501.9,370.1 502.0,369.9 502.1,370.3 502.2,372.2 502.3,373.6 502.4,372.4 502.5,372.0 502.6,373.1 502.7,371.0 502.8,372.1 502.9,371.5 503.0,372.1 503.1,371.3 503.2,369.3 503.3,371.0 503.4,370.2 503.5,375.3 503.6,374.7 503.7,370.7 503.8,370.4 503.9,372.1 504.0,369.3 504.1,374.4 504.2,371.8 504.3,371.3 504.4,374.3 504.5,374.7 504.6,372.4 504.7,373.9 504.8,368.5 504.9,370.2 505.0,370.0 505.1,368.4 505.2,373.0 505.3,375.7 505.4,368.8 505.5,370.1 505.6,373.2 505.7,370.5 505.8,371.0 505.9,369.6 506.0,371.7 506.1,369.5 506.2,372.7 506.3,372.0 506.4,371.6 506.5,369.4 506.6,370.6 506.7,372.3 506.8,369.4 506.9,369.4 507.0,366.9 507.1,370.3 507.2,371.1 507.3,373.1 507.4,369.2 507.5,368.6 507.6,373.6 507.7,373.4 507.8,369.0 507.9,370.2 508.0,367.7 508.1,371.0 508.2,373.6 508.3,372.5 508.4,368.9 508.5,371.5 508.6,369.6 508.7,371.7 508.8,370.2 508.9,372.6 509.0,373.9 509.1,372.4 509.2,372.6 509.3,372.6 509.4,373.6 509.5,371.3 509.6,371.6 509.7,371.6 509.8,374.5 509.9,372.5 510.0,373.5 510.1,371.7 510.2,369.7 510.3,371.8 510.4,373.3 510.5,371.7 510.6,371.1 510.7,371.2 510.8,373.0 510.9,372.6 511.0,371.8 511.1,369.7 511.2,370.0 511.3,378.2 511.4,371.0 511.5,372.3 511.6,371.6 511.7,368.6 511.8,373.6 511.9,371.3 512.0,369.4 512.1,372.5 512.2,370.0 512.3,371.7 512.4,368.7 512.5,370.9 512.6,372.7 512.7,370.6 512.8,368.9 512.9,369.7 513.0,372.5 513.1,368.0 513.2,368.2 513.3,372.5 513.4,371.2 513.5,371.0 513.6,370.3 513.7,371.9 513.8,372.4 513.9,371.5 514.0,367.3 514.1,371.6 514.2,367.8 514.3,374.2 514.4,370.4 514.5,372.6 514.6,372.1 514.7,370.4 514.8,373.8 514.9,371.9 515.0,375.5 515.1,372.9 515.2,372.4 515.3,376.5 515.4,374.4 515.5,371.9 515.6,370.4 515.7,375.6 515.8,374.3 515.9,374.3 516.0,371.4 516.1,370.8 516.2,370.4 516.3,374.2 516.4,371.9 516.5,373.4 516.6,368.0 516.7,374.1 516.8,370.8 516.9,367.3 517.0,369.9 517.1,373.1 517.2,375.1 517.3,366.8 517.4,369.3 517.5,372.1 517.6,369.0 517.7,371.1 517.8,370.2 517.9,372.3 518.0,369.3 518.1,371.5 518.2,370.2 518.3,372.0 518.4,371.7 518.5,373.6 518.6,372.2 518.7,375.1 518.8,369.0 518.9,371.7 519.0,373.4 519.1,372.3 519.2,367.0 519.3,372.4 519.4,370.7 519.5,376.3 519.6,371.4 519.7,372.7 519.8,369.5 519.9,372.4 520.0,365.8 520.1,369.1 520.2,370.0 520.3,367.8 520.4,372.5 520.5,370.5 520.6,373.6 520.7,367.4 520.8,368.5 520.9,371.3 521.0,368.9 521.1,371.5 521.2,371.4 521.3,368.7 521.4,370.4 521.5,371.0 521.6,370.3 521.7,369.5 521.8,369.0 521.9,369.5 522.0,371.7 522.1,373.6 522.2,367.0 522.3,367.7 522.4,369.4 522.5,372.4 522.6,367.8 522.7,373.7 522.8,373.5 522.9,364.6 523.0,370.6 523.1,370.3 523.2,368.5 523.3,365.9 523.4,370.1 523.5,369.0 523.6,371.9 523.7,370.8 523.8,368.2 523.9,373.9 524.0,373.6 524.1,373.2 524.2,370.6 524.3,372.3 524.4,370.7 524.5,369.6 524.6,367.1 524.7,371.3 524.8,366.9 524.9,371.8 525.0,368.2 525.1,371.4 525.2,370.3 525.3,368.7 525.4,368.9 525.5,369.7 525.6,373.7 525.7,371.4 525.8,370.3 525.9,372.4 526.0,368.6 526.1,368.1 526.2,369.3 526.3,373.3 526.4,370.6 526.5,371.6 526.6,371.5 526.7,370.5 526.8,373.6 526.9,372.8 527.0,369.8 527.1,369.5 527.2,371.2 527.3,369.2 527.4,371.0 527.5,372.3 527.6,371.2 527.7,371.5 527.8,370.2 527.9,369.6 528.0,369.2 528.1,373.7 528.2,369.5 528.3,371.0 528.4,371.1 528.5,371.7 528.6,370.1 528.7,367.7 528.8,374.9 528.9,368.8 529.0,371.6 529.1,368.3 529.2,371.5 529.3,368.2 529.4,373.6 529.5,371.4 529.6,367.4 529.7,373.7 529.8,366.6 529.9,369.7 530.0,372.5 530.1,369.7 530.2,372.9 530.3,370.2 530.4,369.2 530.5,372.6 530.6,370.3 530.7,369.4 530.8,372.2 530.9,369.8 531.0,367.6 531.1,368.9 531.2,375.4 531.3,375.1 531.4,367.7 531.5,372.4 531.6,373.3 531.7,370.3 531.8,372.0 531.9,368.6 532.0,370.0 532.1,372.4 532.2,370.3 532.3,370.5 532.4,370.3 532.5,368.2 532.6,368.8 532.7,369.8 532.8,370.5 532.9,369.3 533.0,374.8 533.1,367.6 533.2,369.2 533.3,370.2 533.4,372.4 533.5,368.4 533.6,371.8 533.7,369.8 533.8,370.2 533.9,372.4 534.0,373.1 534.1,373.5 534.2,369.3 534.3,373.8 534.4,373.6 534.5,372.3 534.6,372.7 534.7,371.9 534.8,371.4 534.9,373.6 535.0,375.2 535.1,371.3 535.2,372.5 535.3,373.7 535.4,369.1 535.5,374.9 535.6,372.3 535.7,374.5 535.8,371.2 535.9,370.1 536.0,371.6 536.1,372.7 536.2,370.3 536.3,373.7 536.4,372.4 536.5,369.8 536.6,372.9 536.7,371.7 536.8,372.1 536.9,371.2 537.0,370.6"/><polyline fill="none" stroke="#0000ff" stroke-width="1.25" stroke-linejoin="round" points="48.0,292.8 48.1,291.3 48.2,291.6 48.3,287.8 48.4,295.9 48.5,294.7 48.6,291.9 48.7,293.9 48.8,292.9 48.9,291.3 49.0,294.2 49.1,291.7 49.2,291.7 49.3,291.0 49.4,293.4 49.5,292.2 49.6,293.3 49.7,291.1 49.8,292.6 49.9,290.6 50.0,293.9 50.1,292.4 50.2,292.7 50.3,292.8 50.4,290.2 50.5,293.6 50.6,296.1 50.7,289.0 50.8,289.0 50.9,289.3 51.0,293.6 51.1,292.6 51.2,294.4 51.3,293.8 51.4,293.0 51.5,292.9 51.6,291.8 51.7,293.7 51.8,290.1 51.9,291.6 52.0,292.9 52.1,295.9 52.2,291.0 52.3,290.5 52.4,291.4 52.5,294.3 52.6,292.2 52.7,295.2 52.8,289.2 52.9,294.9 53.0,294.6 53.1,290.2 53.2,293.1 53.3,294.9 53.4,292.7 53.5,294.6 53.6,297.4 53.7,293.5 53.8,292.6 53.9,291.9 54.0,294.6 54.1,293.2 54.2,293.4 54.3,293.5 54.4,295.1 54.5,291.8 54.6,291.0 54.7,289.5 54.8,296.4 54.9,294.3 55.0,297.2 55.1,294.0 55.2,293.0 55.3,295.4 55.4,294.2 55.5,292.1 55.6,292.8 55.7,297.9 55.8,295.2 55.9,295.1 56.0,293.6 56.1,292.9 56.2,296.0 56.3,293.9 56.4,292.7 56.5,294.0 56.6,292.5 56.7,294.4 56.8,296.1 56.9,292.6 57.0,296.9 57.1,292.8 57.2,294.4 57.3,292.6 57.4,293.9 57.5,294.4 57.6,293.4 57.7,292.8 57.8,292.7 57.9,292.3 58.0,290.8 58.1,293.2 58.2,294.5 58.3,295.4 58.4,294.8 58.5,298.3 58.6,293.9 58.7,292.3 58.8,296.6 58.9,290.9 59.0,294.6 59.1,290.9 59.2,293.3 59.3,288.7 59.4,294.2 59.5,292.1 59.6,290.7 59.7,295.6 59.8,293.7 59.9,292.5 60.0,291.2 60.1,292.4 60.2,292.0 60.3,293.8 60.4,293.9 60.5,291.2 60.6,291.3 60.7,291.5 60.8,290.1 60.9,291.3 61.0,292.4 61.1,294.1 61.2,295.2 61.3,291.2 61.4,293.8 61.5,292.0 61.6,296.9 61.7,292.8 61.8,293.8 61.9,291.1 62.0,291.3 62.1,293.3 62.2,292.2 62.3,293.8 62.4,290.3 62.5,294.6 62.6,291.8 62.7,296.9 62.8,293.1 62.9,295.8 63.0,291.1 63.1,294.5 63.2,292.1 63.3,292.8 63.4,293.9 63.5,293.3 63.6,294.4 63.7,295.3 63.8,295.3 63.9,294.1 64.0,291.6 64.1,292.6 64.2,294.0 64.3,290.5 64.4,296.0 64.5,294.1 64.6,294.1 64.7,296.4 64.8,295.7 64.9,295.0 65.0,292.5 65.1,295.1 65.2,295.0 65.3,292.6 65.4,296.1 65.5,294.8 65.6,290.0 65.7,294.1 65.8,291.4 65.9,296.0 66.0,295.5 66.1,291.8 66.2,292.1 66.3,293.8 66.4,293.2 66.5,296.4 66.6,295.0 66.7,293.0 66.8,294.7 66.9,289.8 67.0,294.4 67.1,295.6 67.2,293.8 67.3,292.7 67.4,295.0 67.5,297.6 67.6,294.1 67.7,291.7 67.8,296.6 67.9,290.2 68.0,294.8 68.1,293.1 68.2,295.7 68.3,292.2 68.4,296.4 68.5,294.3 68.6,290.3 68.7,289.9 68.8,293.2 68.9,296.3 69.0,294.2 69.1,293.8 69.2,293.6 69.3,295.5 69.4,295.0 69.5,294.8 69.6,292.5 69.7,296.7 69.8,296.9 69.9,291.9 70.0,298.7 70.1,295.7 70.2,293.4 70.3,290.9 70.4,295.5 70.5,295.3 70.6,293.0 70.7,290.4 70.8,296.1 70.9,293.0 71.0,293.1 71.1,299.2 71.2,297.6 71.3,295.4 71.4,292.8 71.5,294.9 71.6,289.4 71.7,293.8 71.8,292.0 71.9,291.1 72.0,290.5 72.1,294.3 72.2,293.5 72.3,293.7 72.4,295.0 72.5,291.6 72.6,290.9 72.7,289.7 72.8,292.2 72.9,294.2 73.0,292.5 73.1,294.3 73.2,290.6 73.3,291.9 73.4,291.3 73.5,290.4 73.6,296.2 73.7,294.4 73.8,291.2 73.9,291.2 74.0,292.8 74.1,290.1 74.2,293.9 74.3,290.4 74.4,292.2 74.5,291.2 74.6,292.4 74.7,291.1 74.8,290.5 74.9,291.5 75.0,292.3 75.1,293.0 75.2,293.7 75.3,296.6 75.4,295.2 75.5,293.4 75.6,295.2 75.7,292.8 75.8,297.0 75.9,295.2 76.0,291.6 76.1,295.7 76.2,295.8 76.3,289.0 76.4,292.6 76.5,293.3 76.6,290.7 76.7,292.6 76.8,292.9 76.9,295.7 77.0,295.2 77.1,299.6 77.2,293.9 77.3,296.9 77.4,294.8 77.5,295.4 77.6,292.7 77.7,291.2 77.8,293.6 77.9,296.5 78.0,297.8 78.1,295.9 78.2,295.4 78.3,293.1 78.4,297.6 78.5,297.0 78.6,293.4 78.7,294.4 78.8,292.6 78.9,297.0 79.0,294.8 79.1,293.9 79.2,294.8 79.3,294.8 79.4,293.1 79.5,291.4 79.6,291.4 79.7,290.5 79.8,294.5 79.9,297.8 80.0,290.3 80.1,293.4 80.2,294.2 80.3,291.5 80.4,293.9 80.5,291.5 80.6,295.7 80.7,292.3 80.8,293.4 80.9,294.5 81.0,292.3 81.1,289.6 81.2,292.1 81.3,294.5 81.4,293.1 81.5,293.7 81.6,291.4 81.7,293.7 81.8,294.6 81.9,293.5 82.0,297.3 82.1,293.3 82.2,291.8 82.3,290.5 82.4,296.0 82.5,293.9 82.6,295.9 82.7,294.7 82.8,297.0 82.9,296.4 83.0,293.3 83.1,294.6 83.2,296.1 83.3,291.9 83.4,297.4 83.5,296.8 83.6,296.4 83.7,294.0 83.8,295.0 83.9,292.4 84.0,294.3 84.1,293.4 84.2,294.3 84.3,293.2 84.4,294.6 84.5,296.3 84.6,291.5 84.7,295.7 84.8,290.5 84.9,290.0 85.0,293.8 85.1,294.0 85.2,294.8 85.3,290.9 85.4,293.8 85.5,293.9 85.6,295.9 85.7,293.3 85.8,294.5 85.9,291.5 86.0,292.8 86.1,292.3 86.2,294.5 86.3,291.4 86.4,291.6 86.5,294.2 86.6,296.5 86.7,293.9 86.8,293.8 86.9,292.7 87.0,295.5 87.1,294.4 87.2,296.7 87.3,293.8 87.4,291.3 87.5,292.0 87.6,291.1 87.7,290.5 87.8,295.4 87.9,294.4 88.0,290.8 88.1,296.4 88.2,293.7 88.3,291.4 88.4,293.9 88.5,293.0 88.6,291.6 88.7,289.7 88.8,293.2 88.9,293.9 89.0,288.6 89.1,294.4 89.2,294.6 89.3,292.4 89.4,293.3 89.5,292.7 89.6,291.7 89.7,292.8 89.8,296.1 89.9,290.7 90.0,294.1 90.1,294.1 90.2,292.6 90.3,293.1 90.4,291.3 90.5,292.3 90.6,294.0 90.7,294.7 90.8,292.5 90.9,299.8 91.0,292.8 91.1,294.1 91.2,293.5 91.3,293.2 91.4,296.6 91.5,293.4 91.6,297.1 91.7,297.0 91.8,292.8 91.9,296.7 92.0,293.7 92.1,300.3 92.2,294.4 92.3,293.5 92.4,291.8 92.5,293.2 92.6,294.7 92.7,293.7 92.8,293.4 92.9,294.6 93.0,295.5 93.1,299.1 93.2,293.0 93.3,295.5 93.4,294.8 93.5,293.9 93.6,294.3 93.7,294.8 93.8,297.7 93.9,296.0 94.0,295.3 94.1,297.4 94.2,296.8 94.3,296.0 94.4,297.1 94.5,294.9 94.6,297.6 94.7,297.3 94.8,295.5 94.9,293.9 95.0,299.5 95.1,297.0 95.2,302.7 95.3,295.8 95.4,298.6 95.5,296.0 95.6,297.1 95.7,298.2 95.8,295.1 95.9,296.5 96.0,296.8 96.1,296.7 96.2,297.6 96.3,298.3 96.4,297.9 96.5,296.7 96.6,295.5 96.7,294.0 96.8,294.7 96.9,295.0 97.0,297.5 97.1,295.5 97.2,293.9 97.3,297.4 97.4,294.8 97.5,294.8 97.6,295.9 97.7,297.4 97.8,291.9 97.9,294.4 98.0,297.0 98.1,296.0 98.2,295.0 98.3,295.4 98.4,299.3 98.5,295.9 98.6,298.1 98.7,298.2 98.8,295.8 98.9,297.6 99.0,295.6 99.1,295.0 99.2,294.0 99.3,297.6 99.4,295.1 99.5,295.1 99.6,294.2 99.7,299.8 99.8,297.8 99.9,295.9 100.0,295.1 100.1,293.5 100.2,297.0 100.3,296.9 100.4,293.7 100.5,298.6 100.6,298.0 100.7,294.7 100.8,295.6 100.9,295.7 101.0,296.5 101.1,295.6 101.2,292.7 101.3,298.4 101.4,296.3 101.5,298.1 101.6,298.1 101.7,295.2 101.8,296.4 101.9,297.2 102.0,297.3 102.1,295.5 102.2,294.6 102.3,296.0 102.4,294.3 102.5,294.8 102.6,292.1 102.7,296.1 102.8,294.2 102.9,295.3 103.0,296.5 103.1,297.3 103.2,300.3 103.3,297.2 103.4,294.2 103.5,296.9 103.6,295.4 103.7,297.2 103.8,295.2 103.9,295.4 104.0,295.7 104.1,295.4 104.2,293.2 104.3,295.5 104.4,296.8 104.5,299.1 104.6,296.2 104.7,296.1 104.8,297.8 104.9,297.8 105.0,299.9 105.1,298.4 105.2,297.3 105.3,300.1 105.4,300.3 105.5,296.4 105.6,297.8 105.7,294.5 105.8,296.9 105.9,295.9 106.0,297.1 106.1,296.7 106.2,297.4 106.3,297.5 106.4,298.5 106.5,298.1 106.6,296.8 106.7,295.4 106.8,300.0 106.9,300.2 107.0,296.6 107.1,298.3 107.2,294.3 107.3,294.2 107.4,296.6 107.5,300.2 107.6,295.5 107.7,296.1 107.8,300.8 107.9,294.2 108.0,299.0 108.1,298.7 108.2,297.5 108.3,298.4 108.4,303.1 108.5,296.1 108.6,297.5 108.7,297.6 108.8,296.7 108.9,295.5 109.0,301.2 109.1,298.3 109.2,294.5 109.3,296.4 109.4,298.4 109.5,298.5 109.6,294.9 109.7,297.6 109.8,298.4 109.9,298.6 110.0,298.7 110.1,294.4 110.2,301.2 110.3,298.1 110.4,301.3 110.5,303.1 110.6,297.2 110.7,295.1 110.8,299.1 110.9,297.2 111.0,296.6 111.1,295.6 111.2,300.9 111.3,297.0 111.4,295.3 111.5,296.9 111.6,295.7 111.7,298.2 111.8,297.0 111.9,295.8 112.0,298.9 112.1,296.4 112.2,298.8 112.3,299.7 112.4,296.5 112.5,295.9 112.6,297.5 112.7,298.8 112.8,297.3 112.9,297.7 113.0,297.4 113.1,298.3 113.2,299.0 113.3,296.4 113.4,296.8 113.5,297.8 113.6,296.3 113.7,297.7 113.8,298.6 113.9,297.4 114.0,295.9 114.1,295.5 114.2,300.3 114.3,298.7 114.4,294.7 114.5,295.3 114.6,300.5 114.7,300.0 114.8,297.2 114.9,299.1 115.0,294.1 115.1,296.9 115.2,298.2 115.3,293.2 115.4,295.0 115.5,297.9 115.6,298.2 115.7,294.8 115.8,296.4 115.9,298.9 116.0,295.3 116.1,293.5 116.2,295.9 116.3,295.2 116.4,298.4 116.5,296.2 116.6,294.4 116.7,300.6 116.8,295.0 116.9,296.8 117.0,297.1 117.1,297.2 117.2,295.9 117.3,296.8 117.4,295.6 117.5,293.2 117.6,295.4 117.7,295.4 117.8,295.3 117.9,296.0 118.0,294.7 118.1,298.5 118.2,298.9 118.3,291.7 118.4,296.0 118.5,294.5 118.6,290.9 118.7,296.5 118.8,294.8 118.9,295.4 119.0,294.9 119.1,298.1 119.2,298.4 119.3,296.5 119.4,297.4 119.5,296.0 119.6,296.7 119.7,294.9 119.8,296.4 119.9,295.1 120.0,297.1 120.1,297.8 120.2,296.9 120.3,298.5 120.4,301.5 120.5,292.2 120.6,296.4 120.7,295.2 120.8,295.4 120.9,293.6 121.0,296.2 121.1,295.5 121.2,294.7 121.3,295.6 121.4,295.0 121.5,291.7 121.6,298.1 121.7,295.5 121.8,294.3 121.9,296.6 122.0,294.7 122.1,291.8 122.2,297.5 122.3,292.6 122.4,295.5 122.5,296.2 122.6,298.5 122.7,298.2 122.8,296.1 122.9,294.2 123.0,294.8 123.1,297.8 123.2,299.3 123.3,296.9 123.4,294.6 123.5,297.6 123.6,294.9 123.7,294.7 123.8,295.0 123.9,296.8 124.0,296.1 124.1,297.6 124.2,298.0 124.3,296.6 124.4,291.2 124.5,292.5 124.6,295.8 124.7,295.3 124.8,299.6 124.9,295.3 125.0,295.1 125.1,297.2 125.2,297.4 125.3,294.8 125.4,296.0 125.5,292.7 125.6,293.1 125.7,297.1 125.8,292.1 125.9,296.6 126.0,296.3 126.1,296.6 126.2,296.9 126.3,296.1 126.4,291.0 126.5,293.2 126.6,293.8 126.7,296.6 126.8,292.9 126.9,293.7 127.0,294.4 127.1,297.4 127.2,292.0 127.3,292.5 127.4,296.3 127.5,291.3 127.6,295.9 127.7,294.5 127.8,292.4 127.9,294.4 128.0,293.4 128.1,295.4 128.2,295.9 128.3,298.0 128.4,294.9 128.5,295.3 128.6,294.3 128.7,295.5 128.8,297.5 128.9,291.9 129.0,297.0 129.1,294.7 129.2,296.0 129.3,296.4 129.4,297.6 129.5,296.6 129.6,295.7 129.7,297.1 129.8,296.4 129.9,295.9 130.0,296.7 130.1,298.0 130.2,296.6 130.3,296.8 130.4,293.8 130.5,295.7 130.6,292.5 130.7,297.5 130.8,294.4 130.9,298.5 131.0,301.6 131.1,295.4 131.2,298.4 131.3,296.5 131.4,294.6 131.5,293.9 131.6,296.6 131.7,298.3 131.8,296.0 131.9,292.4 132.0,293.2 132.1,294.9 132.2,297.8 132.3,295.8 132.4,295.9 132.5,297.6 132.6,294.7 132.7,294.8 132.8,294.5 132.9,291.4 133.0,295.5 133.1,295.4 133.2,296.5 133.3,292.2 133.4,292.8 133.5,296.1 133.6,294.9 133.7,297.0 133.8,292.8 133.9,295.0 134.0,293.1 134.1,294.8 134.2,293.3 134.3,295.1 134.4,296.3 134.5,295.7 134.6,290.9 134.7,296.0 134.8,294.9 134.9,292.1 135.0,292.3 135.1,293.8 135.2,295.2 135.3,293.3 135.4,291.0 135.5,294.6 135.6,294.2 135.7,298.4 135.8,291.5 135.9,298.8 136.0,297.4 136.1,294.7 136.2,297.3 136.3,294.3 136.4,296.1 136.5,292.8 136.6,294.5 136.7,292.6 136.8,291.5 136.9,293.9 137.0,293.2 137.1,295.4 137.2,296.7 137.3,294.1 137.4,294.2 137.5,294.4 137.6,290.8 137.7,294.4 137.8,293.7 137.9,293.3 138.0,291.5 138.1,289.9 138.2,293.2 138.3,294.3 138.4,296.3 138.5,295.9 138.6,296.5 138.7,294.5 138.8,295.9 138.9,293.4 139.0,295.0 139.1,295.7 139.2,298.9 139.3,294.1 139.4,291.1 139.5,296.1 139.6,292.2 139.7,293.5 139.8,293.1 139.9,292.1 140.0,296.3 140.1,294.7 140.2,292.4 140.3,294.0 140.4,292.8 140.5,294.7 140.6,292.6 140.7,291.7 140.8,292.0 140.9,292.2 141.0,293.5 141.1,291.3 141.2,292.8 141.3,293.9 141.4,297.6 141.5,294.6 141.6,287.4 141.7,291.9 141.8,292.2 141.9,293.6 142.0,295.8 142.1,294.0 142.2,288.2 142.3,293.0 142.4,292.4 142.5,292.6 142.6,294.4 142.7,289.5 142.8,293.7 142.9,288.3 143.0,291.6 143.1,292.1 143.2,295.9 143.3,290.1 143.4,288.3 143.5,292.8 143.6,290.1 143.7,294.4 143.8,289.9 143.9,289.5 144.0,293.3 144.1,291.2 144.2,292.8 144.3,287.5 144.4,293.3 144.5,288.8 144.6,291.2 144.7,287.7 144.8,286.5 144.9,288.9 145.0,289.4 145.1,291.8 145.2,289.4 145.3,289.7 145.4,289.3 145.5,293.7 145.6,286.2 145.7,290.0 145.8,287.1 145.9,287.8 146.0,286.0 146.1,289.2 146.2,284.5 146.3,284.2 146.4,286.0 146.5,284.3 146.6,287.5 146.7,287.8 146.8,284.4 146.9,287.4 147.0,284.2 147.1,285.3 147.2,285.1 147.3,288.5 147.4,284.9 147.5,283.1 147.6,283.3 147.7,287.1 147.8,281.6 147.9,283.8 148.0,283.9 148.1,279.7 148.2,283.4 148.3,286.3 148.4,284.9 148.5,283.0 148.6,286.0 148.7,285.8 148.8,289.0 148.9,283.8 149.0,284.7 149.1,285.8 149.2,285.6 149.3,286.4 149.4,286.3 149.5,285.2 149.6,283.6 149.7,285.8 149.8,284.4 149.9,285.0 150.0,286.3 150.1,288.6 150.2,289.5 150.3,286.0 150.4,288.9 150.5,290.0 150.6,288.6 150.7,286.0 150.8,285.2 150.9,290.9 151.0,291.2 151.1,290.2 151.2,287.7 151.3,292.7 151.4,292.3 151.5,289.9 151.6,289.5 151.7,286.1 151.8,291.5 151.9,287.2 152.0,291.8 152.1,292.4 152.2,291.4 152.3,294.5 152.4,291.1 152.5,292.8 152.6,293.3 152.7,292.3 152.8,291.1 152.9,294.3 153.0,292.9 153.1,291.7 153.2,291.8 153.3,292.3 153.4,296.5 153.5,292.7 153.6,291.9 153.7,290.4 153.8,290.2 153.9,289.3 154.0,293.3 154.1,292.9 154.2,291.0 154.3,290.5 154.4,292.9 154.5,292.7 154.6,291.2 154.7,294.4 154.8,294.1 154.9,293.9 155.0,295.7 155.1,293.1 155.2,297.0 155.3,292.7 155.4,295.7 155.5,296.1 155.6,294.6 155.7,295.9 155.8,292.9 155.9,292.4 156.0,295.0 156.1,293.8 156.2,296.4 156.3,295.2 156.4,296.3 156.5,295.9 156.6,295.7 156.7,295.5 156.8,294.4 156.9,294.3 157.0,299.0 157.1,291.9 157.2,295.1 157.3,297.5 157.4,296.6 157.5,298.4 157.6,296.9 157.7,293.4 157.8,295.2 157.9,293.1 158.0,297.5 158.1,298.3 158.2,294.6 158.3,296.4 158.4,294.7 158.5,292.4 158.6,294.2 158.7,291.8 158.8,293.9 158.9,295.6 159.0,296.4 159.1,297.5 159.2,294.6 159.3,295.6 159.4,296.0 159.5,296.2 159.6,289.6 159.7,293.4 159.8,296.2 159.9,292.7 160.0,295.3 160.1,296.5 160.2,291.2 160.3,294.5 160.4,295.5 160.5,294.9 160.6,292.3 160.7,296.0 160.8,294.2 160.9,296.8 161.0,296.3 161.1,294.5 161.2,295.8 161.3,293.8 161.4,293.5 161.5,291.8 161.6,294.4 161.7,296.3 161.8,294.9 161.9,294.7 162.0,293.9 162.1,294.0 162.2,296.4 162.3,292.3 162.4,298.9 162.5,295.4 162.6,299.9 162.7,298.3 162.8,295.1 162.9,297.4 163.0,296.7 163.1,297.1 163.2,297.7 163.3,295.2 163.4,295.0 163.5,295.5 163.6,293.9 163.7,296.2 163.8,297.2 163.9,297.2 164.0,297.1 164.1,296.0 164.2,298.3 164.3,292.8 164.4,295.9 164.5,296.3 164.6,298.5 164.7,298.2 164.8,298.6 164.9,297.1 165.0,299.0 165.1,295.2 165.2,297.3 165.3,293.4 165.4,300.7 165.5,300.9 165.6,296.7 165.7,296.4 165.8,294.2 165.9,295.3 166.0,298.5 166.1,297.9 166.2,295.2 166.3,296.8 166.4,296.3 166.5,298.3 166.6,298.6 166.7,296.7 166.8,297.4 166.9,297.0 167.0,293.0 167.1,297.2 167.2,296.7 167.3,298.1 167.4,293.3 167.5,298.2 167.6,295.5 167.7,297.0 167.8,298.6 167.9,293.4 168.0,293.8 168.1,298.1 168.2,294.1 168.3,294.6 168.4,297.6 168.5,296.0 168.6,297.9 168.7,296.9 168.8,296.3 168.9,298.5 169.0,300.7 169.1,296.3 169.2,299.3 169.3,298.7 169.4,296.8 169.5,297.3 169.6,294.7 169.7,295.2 169.8,296.9 169.9,296.1 170.0,298.4 170.1,293.6 170.2,295.7 170.3,295.1 170.4,296.1 170.5,298.8 170.6,294.1 170.7,298.1 170.8,295.2 170.9,295.6 171.0,298.2 171.1,295.9 171.2,297.6 171.3,296.5 171.4,295.9 171.5,295.5 171.6,292.5 171.7,294.5 171.8,296.3 171.9,296.3 172.0,292.9 172.1,297.7 172.2,296.9 172.3,293.5 172.4,293.9 172.5,296.6 172.6,292.3 172.7,294.0 172.8,295.3 172.9,295.0 173.0,294.9 173.1,295.8 173.2,293.2 173.3,293.6 173.4,298.5 173.5,291.7 173.6,293.4 173.7,294.2 173.8,292.8 173.9,296.2 174.0,294.0 174.1,295.4 174.2,288.7 174.3,295.8 174.4,295.7 174.5,291.8 174.6,295.7 174.7,293.5 174.8,294.7 174.9,296.2 175.0,292.8 175.1,290.5 175.2,292.5 175.3,290.1 175.4,291.0 175.5,290.8 175.6,291.0 175.7,294.7 175.8,293.9 175.9,290.5 176.0,294.5 176.1,289.0 176.2,290.9 176.3,291.7 176.4,294.0 176.5,293.2 176.6,292.4 176.7,294.0 176.8,292.7 176.9,293.8 177.0,289.9 177.1,288.2 177.2,290.8 177.3,293.1 177.4,291.9 177.5,293.1 177.6,292.6 177.7,292.4 177.8,292.7 177.9,289.8 178.0,293.1 178.1,288.8 178.2,290.7 178.3,288.1 178.4,291.8 178.5,287.8 178.6,293.5 178.7,288.5 178.8,291.5 178.9,290.8 179.0,289.4 179.1,293.2 179.2,290.0 179.3,293.6 179.4,288.8 179.5,289.4 179.6,287.2 179.7,291.8 179.8,292.6 179.9,291.2 180.0,290.6 180.1,289.0 180.2,295.3 180.3,292.0 180.4,287.1 180.5,289.9 180.6,285.5 180.7,293.6 180.8,294.1 180.9,293.0 181.0,290.0 181.1,288.8 181.2,287.1 181.3,290.6 181.4,287.8 181.5,288.4 181.6,287.9 181.7,288.6 181.8,291.0 181.9,292.5 182.0,289.6 182.1,289.5 182.2,287.3 182.3,287.2 182.4,287.4 182.5,291.1 182.6,289.7 182.7,290.9 182.8,289.7 182.9,287.8 183.0,286.1 183.1,287.9 183.2,285.9 183.3,292.3 183.4,288.7 183.5,287.3 183.6,291.6 183.7,287.0 183.8,288.8 183.9,287.5 184.0,288.4 184.1,287.0 184.2,288.5 184.3,290.2 184.4,285.0 184.5,283.1 184.6,290.0 184.7,287.7 184.8,289.2 184.9,286.8 185.0,290.2 185.1,290.6 185.2,284.7 185.3,288.3 185.4,286.0 185.5,284.1 185.6,286.3 185.7,287.5 185.8,283.5 185.9,283.6 186.0,288.2 186.1,285.7 186.2,286.2 186.3,283.1 186.4,283.9 186.5,285.4 186.6,285.4 186.7,285.1 186.8,288.0 186.9,285.5 187.0,282.1 187.1,283.1 187.2,284.3 187.3,286.8 187.4,283.0 187.5,283.5 187.6,284.1 187.7,282.8 187.8,282.4 187.9,283.4 188.0,285.5 188.1,284.4 188.2,282.7 188.3,283.8 188.4,280.4 188.5,284.7 188.6,284.1 188.7,283.1 188.8,279.4 188.9,286.3 189.0,276.7 189.1,280.4 189.2,280.5 189.3,283.4 189.4,279.0 189.5,282.3 189.6,281.4 189.7,281.2 189.8,283.4 189.9,284.3 190.0,282.5 190.1,281.2 190.2,277.2 190.3,284.2 190.4,280.8 190.5,277.5 190.6,281.3 190.7,283.7 190.8,280.4 190.9,278.1 191.0,284.4 191.1,281.1 191.2,280.4 191.3,281.6 191.4,275.3 191.5,279.2 191.6,278.9 191.7,283.3 191.8,277.7 191.9,277.6 192.0,275.7 192.1,276.5 192.2,277.6 192.3,278.3 192.4,277.1 192.5,281.0 192.6,277.7 192.7,277.6 192.8,278.7 192.9,276.7 193.0,274.0 193.1,271.6 193.2,274.8 193.3,272.2 193.4,275.8 193.5,271.3 193.6,268.1 193.7,272.0 193.8,273.4 193.9,270.4 194.0,270.7 194.1,270.0 194.2,272.7 194.3,269.6 194.4,268.3 194.5,266.7 194.6,264.2 194.7,269.6 194.8,268.6 194.9,264.0 195.0,266.7 195.1,265.8 195.2,263.8 195.3,263.2 195.4,264.7 195.5,260.2 195.6,260.9 195.7,261.1 195.8,260.5 195.9,259.4 196.0,259.4 196.1,259.2 196.2,255.6 196.3,256.5 196.4,254.7 196.5,257.8 196.6,251.7 196.7,253.1 196.8,254.0 196.9,251.5 197.0,250.6 197.1,249.7 197.2,250.5 197.3,246.8 197.4,248.2 197.5,247.3 197.6,244.1 197.7,246.6 197.8,244.4 197.9,245.3 198.0,245.6 198.1,243.9 198.2,240.0 198.3,242.2 198.4,237.5 198.5,238.3 198.6,242.2 198.7,238.4 198.8,240.7 198.9,236.5 199.0,236.4 199.1,233.6 199.2,237.2 199.3,234.4 199.4,235.4 199.5,234.5 199.6,234.3 199.7,233.5 199.8,232.7 199.9,232.6 200.0,231.3 200.1,228.6 200.2,233.7 200.3,237.0 200.4,235.0 200.5,237.5 200.6,233.8 200.7,231.3 200.8,231.5 200.9,235.5 201.0,235.0 201.1,234.3 201.2,236.5 201.3,234.1 201.4,237.4 201.5,236.3 201.6,237.8 201.7,240.6 201.8,238.7 201.9,242.3 202.0,242.8 202.1,239.6 202.2,246.4 202.3,240.4 202.4,243.8 202.5,246.2 202.6,241.2 202.7,248.3 202.8,249.4 202.9,247.9 203.0,249.3 203.1,250.0 203.2,250.0 203.3,253.4 203.4,251.5 203.5,253.0 203.6,254.5 203.7,256.3 203.8,257.5 203.9,253.4 204.0,252.9 204.1,257.4 204.2,258.5 204.3,257.2 204.4,260.7 204.5,262.1 204.6,262.6 204.7,265.8 204.8,261.4 204.9,264.1 205.0,268.4 205.1,266.8 205.2,264.1 205.3,267.2 205.4,269.7 205.5,272.0 205.6,269.8 205.7,271.3 205.8,267.6 205.9,269.7 206.0,272.9 206.1,269.3 206.2,271.4 206.3,268.4 206.4,275.2 206.5,272.6 206.6,274.4 206.7,270.9 206.8,271.7 206.9,278.1 207.0,274.4 207.1,274.5 207.2,277.0 207.3,277.3 207.4,272.7 207.5,275.1 207.6,277.4 207.7,277.6 207.8,278.6 207.9,277.4 208.0,278.1 208.1,279.4 208.2,277.7 208.3,278.0 208.4,278.8 208.5,280.1 208.6,280.0 208.7,279.6 208.8,280.2 208.9,280.7 209.0,281.7 209.1,282.0 209.2,279.0 209.3,283.8 209.4,279.2 209.5,283.5 209.6,281.3 209.7,284.0 209.8,285.0 209.9,279.6 210.0,284.5 210.1,284.0 210.2,282.9 210.3,284.7 210.4,283.3 210.5,284.8 210.6,282.8 210.7,286.6 210.8,286.2 210.9,286.7 211.0,284.2 211.1,289.1 211.2,289.4 211.3,285.7 211.4,285.3 211.5,285.5 211.6,287.9 211.7,288.7 211.8,285.5 211.9,283.2 212.0,288.1 212.1,287.3 212.2,287.8 212.3,288.5 212.4,285.5 212.5,288.0 212.6,287.4 212.7,288.9 212.8,290.8 212.9,288.5 213.0,286.8 213.1,291.0 213.2,290.2 213.3,288.4 213.4,285.3 213.5,287.2 213.6,289.4 213.7,290.2 213.8,288.4 213.9,290.4 214.0,288.4 214.1,288.9 214.2,290.9 214.3,289.3 214.4,289.9 214.5,291.4 214.6,291.9 214.7,288.6 214.8,289.5 214.9,287.6 215.0,287.6 215.1,290.7 215.2,289.1 215.3,286.7 215.4,291.4 215.5,289.0 215.6,290.0 215.7,291.6 215.8,291.4 215.9,290.5 216.0,287.1 216.1,292.1 216.2,290.1 216.3,288.6 216.4,287.4 216.5,294.1 216.6,292.0 216.7,292.0 216.8,293.1 216.9,291.9 217.0,289.3 217.1,293.7 217.2,294.3 217.3,293.5 217.4,295.6 217.5,296.7 217.6,291.6 217.7,292.5 217.8,295.1 217.9,293.7 218.0,294.0 218.1,295.6 218.2,295.3 218.3,293.4 218.4,294.8 218.5,293.3 218.6,294.4 218.7,292.9 218.8,291.3 218.9,294.2 219.0,294.0 219.1,297.0 219.2,298.7 219.3,295.7 219.4,296.6 219.5,294.5 219.6,294.1 219.7,295.6 219.8,296.0 219.9,297.1 220.0,296.6 220.1,299.5 220.2,296.0 220.3,293.3 220.4,296.5 220.5,294.9 220.6,296.6 220.7,298.4 220.8,295.1 220.9,296.1 221.0,297.5 221.1,294.6 221.2,297.0 221.3,297.7 221.4,298.0 221.5,298.6 221.6,297.4 221.7,297.1 221.8,293.6 221.9,291.6 222.0,295.1 222.1,299.4 222.2,297.0 222.3,292.3 222.4,295.6 222.5,297.3 222.6,293.1 222.7,297.8 222.8,294.4 222.9,298.6 223.0,296.7 223.1,302.6 223.2,294.0 223.3,297.4 223.4,294.1 223.5,299.2 223.6,297.3 223.7,298.9 223.8,297.4 223.9,295.3 224.0,296.3 224.1,295.2 224.2,295.6 224.3,297.8 224.4,299.8 224.5,299.5 224.6,299.0 224.7,296.9 224.8,299.0 224.9,296.3 225.0,298.2 225.1,299.6 225.2,297.6 225.3,297.0 225.4,297.2 225.5,299.0 225.6,297.4 225.7,295.4 225.8,297.3 225.9,296.0 226.0,300.6 226.1,297.7 226.2,294.9 226.3,298.4 226.4,299.5 226.5,298.7 226.6,297.3 226.7,298.2 226.8,298.6 226.9,300.2 227.0,299.2 227.1,302.8 227.2,298.0 227.3,301.3 227.4,298.5 227.5,295.2 227.6,296.2 227.7,294.8 227.8,295.1 227.9,300.5 228.0,297.0 228.1,299.3 228.2,296.6 228.3,298.4 228.4,296.4 228.5,300.0 228.6,297.7 228.7,297.5 228.8,298.0 228.9,302.6 229.0,299.3 229.1,299.9 229.2,296.2 229.3,297.4 229.4,299.3 229.5,295.3 229.6,301.3 229.7,299.2 229.8,298.8 229.9,298.5 230.0,298.6 230.1,298.3 230.2,301.9 230.3,300.7 230.4,301.6 230.5,298.8 230.6,297.8 230.7,302.2 230.8,297.6 230.9,298.7 231.0,301.3 231.1,302.1 231.2,297.7 231.3,299.7 231.4,300.3 231.5,300.1 231.6,298.7 231.7,301.6 231.8,299.3 231.9,300.0 232.0,296.4 232.1,300.6 232.2,297.0 232.3,302.2 232.4,302.0 232.5,300.2 232.6,301.7 232.7,301.6 232.8,301.4 232.9,302.4 233.0,301.6 233.1,301.0 233.2,300.4 233.3,305.1 233.4,302.1 233.5,302.0 233.6,303.4 233.7,301.3 233.8,301.3 233.9,303.4 234.0,304.3 234.1,303.9 234.2,299.9 234.3,302.7 234.4,302.6 234.5,303.3 234.6,300.8 234.7,300.4 234.8,301.8 234.9,300.3 235.0,300.0 235.1,301.8 235.2,303.5 235.3,301.8 235.4,303.8 235.5,299.9 235.6,303.3 235.7,302.0 235.8,300.2 235.9,301.1 236.0,300.4 236.1,301.8 236.2,300.8 236.3,304.4 236.4,301.3 236.5,299.4 236.6,301.7 236.7,302.7 236.8,301.3 236.9,303.6 237.0,300.2 237.1,300.3 237.2,304.7 237.3,301.6 237.4,302.5 237.5,302.2 237.6,302.4 237.7,301.4 237.8,301.1 237.9,303.3 238.0,300.2 238.1,301.1 238.2,302.1 238.3,300.1 238.4,298.0 238.5,301.8 238.6,302.8 238.7,301.1 238.8,297.6 238.9,301.7 239.0,304.2 239.1,297.7 239.2,295.7 239.3,300.4 239.4,300.9 239.5,302.2 239.6,302.2 239.7,300.7 239.8,301.5 239.9,301.0 240.0,300.4 240.1,299.8 240.2,299.7 240.3,301.4 240.4,300.9 240.5,299.2 240.6,302.2 240.7,299.0 240.8,299.8 240.9,300.6 241.0,296.8 241.1,299.7 241.2,302.3 241.3,302.3 241.4,298.9 241.5,299.7 241.6,299.4 241.7,300.9 241.8,301.0 241.9,298.2 242.0,301.7 242.1,301.5 242.2,301.2 242.3,300.2 242.4,301.1 242.5,298.1 242.6,301.8 242.7,302.0 242.8,301.7 242.9,300.0 243.0,304.6 243.1,304.6 243.2,298.9 243.3,303.2 243.4,302.8 243.5,297.6 243.6,303.3 243.7,303.8 243.8,304.1 243.9,303.1 244.0,301.5 244.1,301.8 244.2,303.9 244.3,305.1 244.4,301.9 244.5,302.3 244.6,304.0 244.7,298.7 244.8,303.4 244.9,302.0 245.0,298.4 245.1,303.8 245.2,300.5 245.3,303.5 245.4,304.6 245.5,299.7 245.6,299.8 245.7,302.1 245.8,299.1 245.9,303.7 246.0,302.9 246.1,304.1 246.2,298.7 246.3,302.4 246.4,302.9 246.5,298.9 246.6,304.0 246.7,299.7 246.8,302.5 246.9,299.6 247.0,303.4 247.1,304.9 247.2,301.8 247.3,301.7 247.4,303.9 247.5,300.8 247.6,301.8 247.7,303.2 247.8,302.3 247.9,304.5 248.0,304.0 248.1,305.2 248.2,301.3 248.3,303.5 248.4,300.0 248.5,303.2 248.6,304.9 248.7,306.0 248.8,299.5 248.9,301.3 249.0,302.9 249.1,299.8 249.2,302.2 249.3,302.3 249.4,300.1 249.5,300.1 249.6,299.1 249.7,301.4 249.8,303.0 249.9,301.3 250.0,305.8 250.1,298.0 250.2,299.8 250.3,302.2 250.4,298.8 250.5,301.4 250.6,302.1 250.7,301.0 250.8,300.2 250.9,302.1 251.0,301.3 251.1,301.9 251.2,301.6 251.3,299.3 251.4,298.7 251.5,299.8 251.6,300.8 251.7,300.0 251.8,302.0 251.9,300.6 252.0,301.8 252.1,300.4 252.2,298.7 252.3,301.8 252.4,301.0 252.5,298.3 252.6,299.0 252.7,305.0 252.8,293.3 252.9,301.8 253.0,300.1 253.1,300.0 253.2,299.8 253.3,299.6 253.4,305.2 253.5,299.8 253.6,300.2 253.7,302.2 253.8,301.3 253.9,300.2 254.0,300.1 254.1,298.1 254.2,302.5 254.3,298.5 254.4,295.9 254.5,302.7 254.6,302.1 254.7,301.3 254.8,299.7 254.9,303.1 255.0,298.6 255.1,296.6 255.2,301.0 255.3,302.2 255.4,301.7 255.5,304.9 255.6,302.6 255.7,300.6 255.8,300.6 255.9,302.5 256.0,300.7 256.1,300.4 256.2,297.5 256.3,300.2 256.4,298.4 256.5,301.3 256.6,301.1 256.7,302.1 256.8,304.2 256.9,300.6 257.0,303.7 257.1,298.8 257.2,301.1 257.3,302.4 257.4,304.2 257.5,298.3 257.6,299.8 257.7,300.7 257.8,300.3 257.9,298.7 258.0,297.3 258.1,298.2 258.2,300.4 258.3,298.0 258.4,303.9 258.5,302.6 258.6,296.8 258.7,299.5 258.8,302.9 258.9,303.1 259.0,302.3 259.1,297.5 259.2,299.3 259.3,302.3 259.4,300.4 259.5,298.9 259.6,300.5 259.7,301.5 259.8,299.8 259.9,299.9 260.0,301.5 260.1,298.5 260.2,297.9 260.3,301.0 260.4,297.3 260.5,300.5 260.6,298.0 260.7,301.0 260.8,297.3 260.9,301.5 261.0,299.8 261.1,298.8 261.2,297.7 261.3,299.0 261.4,297.5 261.5,297.0 261.6,301.3 261.7,300.2 261.8,301.4 261.9,296.2 262.0,295.2 262.1,295.8 262.2,299.9 262.3,300.2 262.4,295.2 262.5,300.9 262.6,298.2 262.7,296.5 262.8,298.8 262.9,300.0 263.0,298.7 263.1,298.8 263.2,297.6 263.3,296.6 263.4,298.2 263.5,295.9 263.6,300.2 263.7,297.4 263.8,301.5 263.9,296.2 264.0,301.9 264.1,297.6 264.2,297.5 264.3,299.8 264.4,300.9 264.5,299.1 264.6,298.5 264.7,302.9 264.8,299.9 264.9,296.7 265.0,298.3 265.1,301.9 265.2,299.4 265.3,300.1 265.4,302.6 265.5,297.7 265.6,299.5 265.7,297.4 265.8,298.8 265.9,300.0 266.0,296.3 266.1,299.0 266.2,299.2 266.3,301.0 266.4,297.6 266.5,296.1 266.6,299.3 266.7,296.4 266.8,298.6 266.9,299.3 267.0,296.4 267.1,297.8 267.2,295.8 267.3,292.3 267.4,295.1 267.5,293.8 267.6,297.8 267.7,295.8 267.8,297.4 267.9,297.6 268.0,299.7 268.1,296.8 268.2,296.6 268.3,298.3 268.4,300.4 268.5,297.1 268.6,297.8 268.7,296.7 268.8,295.7 268.9,294.1 269.0,297.1 269.1,296.6 269.2,296.5 269.3,300.8 269.4,296.0 269.5,297.0 269.6,295.8 269.7,298.5 269.8,295.7 269.9,299.5 270.0,295.4 270.1,297.3 270.2,297.6 270.3,295.0 270.4,297.1 270.5,295.5 270.6,293.9 270.7,294.0 270.8,296.0 270.9,298.5 271.0,294.4 271.1,296.0 271.2,293.5 271.3,295.2 271.4,292.0 271.5,292.9 271.6,294.1 271.7,292.7 271.8,293.6 271.9,296.0 272.0,293.7 272.1,292.5 272.2,291.6 272.3,292.8 272.4,296.0 272.5,293.4 272.6,293.2 272.7,294.9 272.8,295.2 272.9,295.4 273.0,292.6 273.1,291.6 273.2,290.4 273.3,292.3 273.4,293.1 273.5,295.2 273.6,294.5 273.7,293.1 273.8,295.8 273.9,291.7 274.0,292.1 274.1,292.0 274.2,292.2 274.3,293.9 274.4,292.7 274.5,292.9 274.6,296.8 274.7,291.7 274.8,292.5 274.9,294.2 275.0,295.4 275.1,295.7 275.2,294.3 275.3,294.3 275.4,294.6 275.5,296.7 275.6,293.7 275.7,290.9 275.8,295.8 275.9,293.4 276.0,295.6 276.1,298.4 276.2,295.9 276.3,299.4 276.4,292.9 276.5,296.6 276.6,297.1 276.7,298.1 276.8,295.2 276.9,297.0 277.0,297.1 277.1,297.2 277.2,294.5 277.3,293.8 277.4,298.1 277.5,297.9 277.6,297.3 277.7,298.3 277.8,299.2 277.9,295.0 278.0,298.7 278.1,300.1 278.2,299.4 278.3,298.4 278.4,298.7 278.5,294.7 278.6,296.5 278.7,299.4 278.8,300.3 278.9,298.6 279.0,296.6 279.1,297.7 279.2,299.9 279.3,302.1 279.4,299.8 279.5,297.3 279.6,299.8 279.7,299.5 279.8,303.3 279.9,299.9 280.0,298.9 280.1,298.7 280.2,296.5 280.3,296.6 280.4,297.8 280.5,297.2 280.6,299.1 280.7,299.0 280.8,300.5 280.9,301.5 281.0,299.2 281.1,298.4 281.2,295.1 281.3,299.4 281.4,299.8 281.5,297.0 281.6,297.6 281.7,297.1 281.8,300.4 281.9,299.5 282.0,300.8 282.1,296.0 282.2,303.4 282.3,296.9 282.4,296.7 282.5,299.0 282.6,297.8 282.7,302.4 282.8,297.9 282.9,297.3 283.0,300.7 283.1,301.0 283.2,297.1 283.3,297.9 283.4,298.2 283.5,298.7 283.6,302.2 283.7,301.2 283.8,300.7 283.9,301.0 284.0,298.4 284.1,299.9 284.2,298.3 284.3,297.2 284.4,301.8 284.5,295.1 284.6,298.6 284.7,297.2 284.8,295.2 284.9,297.7 285.0,298.4 285.1,299.1 285.2,296.8 285.3,299.8 285.4,299.1 285.5,300.3 285.6,295.2 285.7,298.3 285.8,298.1 285.9,300.3 286.0,298.0 286.1,298.9 286.2,297.8 286.3,297.6 286.4,298.2 286.5,301.6 286.6,297.5 286.7,294.9 286.8,300.2 286.9,298.8 287.0,300.8 287.1,300.8 287.2,299.0 287.3,298.8 287.4,298.6 287.5,299.7 287.6,298.2 287.7,300.4 287.8,302.8 287.9,299.1 288.0,299.2 288.1,299.2 288.2,301.5 288.3,301.8 288.4,303.3 288.5,302.2 288.6,301.1 288.7,302.0 288.8,298.7 288.9,302.4 289.0,301.6 289.1,305.4 289.2,304.3 289.3,300.4 289.4,300.8 289.5,303.4 289.6,297.8 289.7,300.0 289.8,302.7 289.9,303.5 290.0,302.4 290.1,304.0 290.2,301.3 290.3,302.1 290.4,301.8 290.5,300.3 290.6,302.5 290.7,301.7 290.8,303.1 290.9,297.9 291.0,303.0 291.1,301.6 291.2,301.6 291.3,303.0 291.4,302.1 291.5,304.6 291.6,305.2 291.7,304.6 291.8,304.7 291.9,303.4 292.0,303.1 292.1,300.7 292.2,302.5 292.3,305.2 292.4,304.5 292.5,302.0 292.6,303.2 292.7,305.0 292.8,302.7 292.9,306.0 293.0,301.4 293.1,304.3 293.2,303.8 293.3,302.7 293.4,302.9 293.5,303.5 293.6,298.2 293.7,303.4 293.8,304.6 293.9,303.2 294.0,304.7 294.1,300.4 294.2,302.4 294.3,303.2 294.4,302.0 294.5,304.6 294.6,303.6 294.7,301.5 294.8,303.8 294.9,303.9 295.0,301.6 295.1,303.8 295.2,303.2 295.3,303.4 295.4,300.3 295.5,305.3 295.6,304.1 295.7,302.7 295.8,303.7 295.9,303.7 296.0,302.3 296.1,302.0 296.2,303.2 296.3,302.1 296.4,302.3 296.5,301.4 296.6,303.0 296.7,305.4 296.8,304.0 296.9,303.7 297.0,303.4 297.1,303.4 297.2,301.5 297.3,307.5 297.4,303.2 297.5,301.6 297.6,305.4 297.7,305.1 297.8,303.5 297.9,301.8 298.0,302.0 298.1,307.5 298.2,304.4 298.3,303.3 298.4,307.9 298.5,303.5 298.6,302.7 298.7,305.5 298.8,305.4 298.9,307.7 299.0,301.8 299.1,305.3 299.2,301.6 299.3,305.6 299.4,303.6 299.5,303.8 299.6,303.5 299.7,306.5 299.8,307.8 299.9,304.4 300.0,304.3 300.1,303.5 300.2,305.6 300.3,302.5 300.4,311.4 300.5,304.0 300.6,307.5 300.7,304.4 300.8,301.3 300.9,301.0 301.0,302.9 301.1,302.3 301.2,303.1 301.3,301.4 301.4,308.1 301.5,307.7 301.6,300.2 301.7,304.6 301.8,306.0 301.9,303.1 302.0,303.1 302.1,305.8 302.2,304.8 302.3,301.6 302.4,306.3 302.5,303.1 302.6,307.4 302.7,301.9 302.8,299.3 302.9,304.0 303.0,306.1 303.1,304.7 303.2,304.0 303.3,301.9 303.4,305.3 303.5,300.0 303.6,305.0 303.7,301.1 303.8,302.3 303.9,301.1 304.0,301.9 304.1,306.5 304.2,301.3 304.3,303.9 304.4,301.8 304.5,305.4 304.6,301.1 304.7,303.8 304.8,305.7 304.9,308.3 305.0,301.8 305.1,302.5 305.2,304.0 305.3,306.8 305.4,302.0 305.5,305.6 305.6,302.9 305.7,302.0 305.8,300.9 305.9,304.1 306.0,306.0 306.1,304.0 306.2,300.1 306.3,303.3 306.4,306.1 306.5,306.0 306.6,305.1 306.7,307.3 306.8,302.1 306.9,302.2 307.0,309.1 307.1,306.1 307.2,304.2 307.3,303.8 307.4,299.7 307.5,306.5 307.6,300.7 307.7,300.9 307.8,304.7 307.9,307.6 308.0,303.8 308.1,305.3 308.2,304.0 308.3,305.8 308.4,301.7 308.5,309.1 308.6,303.2 308.7,306.2 308.8,301.2 308.9,308.5 309.0,305.9 309.1,308.8 309.2,303.8 309.3,307.3 309.4,304.9 309.5,304.8 309.6,307.4 309.7,303.1 309.8,306.2 309.9,308.7 310.0,308.0 310.1,306.7 310.2,305.4 310.3,302.9 310.4,307.4 310.5,303.2 310.6,306.8 310.7,304.1 310.8,304.6 310.9,304.5 311.0,305.5 311.1,303.4 311.2,304.5 311.3,302.9 311.4,304.9 311.5,304.3 311.6,304.8 311.7,302.5 311.8,304.6 311.9,304.4 312.0,305.4 312.1,304.2 312.2,302.3 312.3,305.5 312.4,302.9 312.5,304.6 312.6,299.8 312.7,304.9 312.8,305.1 312.9,302.2 313.0,304.9 313.1,303.0 313.2,306.2 313.3,304.7 313.4,301.1 313.5,303.4 313.6,300.3 313.7,303.2 313.8,305.0 313.9,305.3 314.0,303.6 314.1,303.4 314.2,303.9 314.3,302.1 314.4,303.7 314.5,305.5 314.6,303.7 314.7,305.0 314.8,301.9 314.9,302.4 315.0,304.2 315.1,307.5 315.2,305.7 315.3,307.1 315.4,304.1 315.5,306.4 315.6,300.7 315.7,304.6 315.8,299.6 315.9,306.0 316.0,304.6 316.1,305.8 316.2,304.1 316.3,302.4 316.4,301.9 316.5,303.6 316.6,306.2 316.7,304.3 316.8,301.9 316.9,301.8 317.0,301.6 317.1,302.6 317.2,303.0 317.3,302.3 317.4,303.3 317.5,300.2 317.6,306.3 317.7,303.8 317.8,306.2 317.9,303.9 318.0,302.8 318.1,303.2 318.2,303.7 318.3,302.1 318.4,302.8 318.5,307.2 318.6,305.4 318.7,302.6 318.8,304.6 318.9,302.1 319.0,306.3 319.1,301.7 319.2,305.4 319.3,303.8 319.4,303.6 319.5,302.0 319.6,303.2 319.7,302.4 319.8,302.1 319.9,304.4 320.0,308.4 320.1,303.1 320.2,305.7 320.3,303.5 320.4,302.1 320.5,306.2 320.6,305.0 320.7,306.3 320.8,304.3 320.9,304.2 321.0,302.5 321.1,303.7 321.2,307.2 321.3,299.6 321.4,304.6 321.5,306.7 321.6,305.3 321.7,305.3 321.8,303.1 321.9,305.8 322.0,306.1 322.1,303.8 322.2,307.1 322.3,302.9 322.4,299.4 322.5,304.2 322.6,304.0 322.7,302.5 322.8,303.3 322.9,303.1 323.0,300.6 323.1,306.5 323.2,303.9 323.3,309.0 323.4,304.0 323.5,304.7 323.6,301.0 323.7,305.8 323.8,301.6 323.9,305.0 324.0,305.8 324.1,305.6 324.2,302.5 324.3,302.7 324.4,305.8 324.5,306.3 324.6,306.6 324.7,303.7 324.8,303.7 324.9,307.7 325.0,303.1 325.1,305.5 325.2,303.4 325.3,301.4 325.4,301.9 325.5,304.9 325.6,304.5 325.7,305.2 325.8,303.8 325.9,303.5 326.0,305.0 326.1,304.2 326.2,301.3 326.3,303.8 326.4,307.7 326.5,303.0 326.6,305.4 326.7,304.3 326.8,305.7 326.9,302.9 327.0,301.9 327.1,305.2 327.2,303.1 327.3,304.4 327.4,303.9 327.5,306.3 327.6,304.9 327.7,304.7 327.8,302.7 327.9,301.5 328.0,302.7 328.1,306.0 328.2,305.9 328.3,305.8 328.4,303.9 328.5,302.9 328.6,307.0 328.7,305.1 328.8,305.7 328.9,302.6 329.0,303.2 329.1,305.8 329.2,306.0 329.3,302.6 329.4,305.1 329.5,302.0 329.6,306.6 329.7,305.4 329.8,308.3 329.9,306.8 330.0,302.8 330.1,304.4 330.2,303.4 330.3,304.4 330.4,305.6 330.5,304.0 330.6,304.3 330.7,301.5 330.8,305.1 330.9,303.8 331.0,305.0 331.1,305.8 331.2,303.9 331.3,305.3 331.4,302.6 331.5,305.6 331.6,303.8 331.7,302.8 331.8,303.4 331.9,301.1 332.0,302.5 332.1,302.9 332.2,303.6 332.3,303.3 332.4,302.2 332.5,302.8 332.6,299.1 332.7,303.4 332.8,304.2 332.9,304.5 333.0,305.0 333.1,302.5 333.2,303.0 333.3,302.0 333.4,302.1 333.5,303.4 333.6,305.7 333.7,299.8 333.8,302.1 333.9,303.5 334.0,301.1 334.1,303.8 334.2,300.1 334.3,302.1 334.4,299.7 334.5,303.3 334.6,301.0 334.7,303.6 334.8,301.9 334.9,300.6 335.0,301.5 335.1,302.7 335.2,302.4 335.3,302.0 335.4,301.9 335.5,302.7 335.6,304.2 335.7,301.4 335.8,303.4 335.9,300.0 336.0,304.2 336.1,303.2 336.2,301.8 336.3,301.7 336.4,299.3 336.5,302.7 336.6,302.2 336.7,299.9 336.8,301.7 336.9,303.6 337.0,302.9 337.1,303.0 337.2,301.3 337.3,304.1 337.4,302.5 337.5,304.3 337.6,307.1 337.7,299.3 337.8,302.1 337.9,303.1 338.0,301.7 338.1,305.0 338.2,302.3 338.3,306.1 338.4,304.4 338.5,303.7 338.6,303.2 338.7,305.0 338.8,304.3 338.9,306.0 339.0,304.3 339.1,305.2 339.2,304.0 339.3,303.9 339.4,300.4 339.5,303.4 339.6,304.0 339.7,301.1 339.8,300.8 339.9,303.1 340.0,304.2 340.1,300.4 340.2,304.1 340.3,305.3 340.4,303.1 340.5,304.0 340.6,304.4 340.7,302.4 340.8,305.2 340.9,304.9 341.0,301.6 341.1,304.9 341.2,305.6 341.3,301.9 341.4,305.5 341.5,303.3 341.6,300.9 341.7,301.4 341.8,301.7 341.9,304.2 342.0,302.1 342.1,302.4 342.2,300.9 342.3,303.2 342.4,300.9 342.5,302.1 342.6,304.3 342.7,304.3 342.8,302.3 342.9,303.4 343.0,304.4 343.1,303.5 343.2,305.7 343.3,305.9 343.4,303.0 343.5,300.7 343.6,302.8 343.7,305.7 343.8,305.4 343.9,305.5 344.0,305.2 344.1,302.2 344.2,303.8 344.3,305.4 344.4,303.8 344.5,305.2 344.6,301.6 344.7,301.3 344.8,307.2 344.9,304.9 345.0,304.7 345.1,306.4 345.2,307.7 345.3,308.9 345.4,299.0 345.5,304.3 345.6,305.6 345.7,300.1 345.8,300.3 345.9,303.4 346.0,307.5 346.1,305.5 346.2,308.0 346.3,304.4 346.4,305.5 346.5,306.5 346.6,304.5 346.7,303.5 346.8,303.5 346.9,296.4 347.0,304.1 347.1,300.1 347.2,302.2 347.3,305.1 347.4,304.6 347.5,300.1 347.6,305.0 347.7,305.6 347.8,304.3 347.9,305.1 348.0,305.0 348.1,300.7 348.2,303.3 348.3,303.2 348.4,301.2 348.5,303.3 348.6,301.8 348.7,303.1 348.8,301.4 348.9,305.0 349.0,307.3 349.1,301.7 349.2,302.8 349.3,303.0 349.4,303.8 349.5,302.6 349.6,298.6 349.7,303.4 349.8,302.5 349.9,300.7 350.0,302.2 350.1,301.7 350.2,302.9 350.3,301.9 350.4,302.1 350.5,302.9 350.6,303.2 350.7,302.9 350.8,305.2 350.9,303.5 351.0,301.3 351.1,306.0 351.2,302.7 351.3,305.5 351.4,300.4 351.5,303.3 351.6,305.4 351.7,304.5 351.8,302.3 351.9,300.9 352.0,300.8 352.1,301.5 352.2,300.5 352.3,300.8 352.4,300.4 352.5,300.4 352.6,302.9 352.7,299.0 352.8,302.8 352.9,303.7 353.0,300.5 353.1,300.6 353.2,302.6 353.3,302.4 353.4,304.1 353.5,298.5 353.6,302.2 353.7,305.0 353.8,302.5 353.9,305.7 354.0,306.4 354.1,301.0 354.2,305.0 354.3,303.2 354.4,302.1 354.5,301.5 354.6,301.4 354.7,300.0 354.8,301.4 354.9,303.2 355.0,303.6 355.1,300.5 355.2,302.4 355.3,302.1 355.4,297.0 355.5,302.9 355.6,299.0 355.7,299.3 355.8,303.0 355.9,304.7 356.0,299.4 356.1,299.8 356.2,299.3 356.3,300.1 356.4,300.5 356.5,299.8 356.6,298.1 356.7,304.9 356.8,300.7 356.9,300.2 357.0,303.4 357.1,301.2 357.2,303.6 357.3,302.9 357.4,303.4 357.5,300.7 357.6,302.6 357.7,298.6 357.8,299.0 357.9,301.8 358.0,300.9 358.1,304.1 358.2,301.0 358.3,298.1 358.4,301.5 358.5,300.7 358.6,301.8 358.7,299.3 358.8,299.9 358.9,301.5 359.0,303.0 359.1,302.3 359.2,302.8 359.3,298.7 359.4,300.8 359.5,301.8 359.6,303.3 359.7,301.8 359.8,300.7 359.9,300.7 360.0,300.7 360.1,298.0 360.2,301.0 360.3,302.6 360.4,302.3 360.5,297.1 360.6,300.7 360.7,297.5 360.8,302.5 360.9,301.5 361.0,301.7 361.1,299.2 361.2,296.9 361.3,298.8 361.4,300.0 361.5,297.8 361.6,298.7 361.7,303.8 361.8,297.9 361.9,301.4 362.0,297.1 362.1,301.1 362.2,302.3 362.3,301.5 362.4,303.1 362.5,304.1 362.6,297.9 362.7,300.9 362.8,301.5 362.9,301.3 363.0,303.6 363.1,300.9 363.2,302.8 363.3,302.7 363.4,300.9 363.5,301.5 363.6,299.2 363.7,301.2 363.8,301.0 363.9,300.5 364.0,299.9 364.1,302.7 364.2,300.4 364.3,304.8 364.4,303.1 364.5,302.2 364.6,299.5 364.7,302.3 364.8,300.7 364.9,300.5 365.0,298.3 365.1,301.2 365.2,300.6 365.3,299.2 365.4,298.8 365.5,299.6 365.6,297.4 365.7,298.8 365.8,302.3 365.9,298.4 366.0,303.7 366.1,296.6 366.2,301.0 366.3,300.9 366.4,301.0 366.5,299.8 366.6,295.8 366.7,301.1 366.8,301.0 366.9,298.9 367.0,294.3 367.1,301.0 367.2,296.9 367.3,297.9 367.4,300.8 367.5,300.9 367.6,298.8 367.7,297.1 367.8,301.5 367.9,300.5 368.0,297.9 368.1,296.6 368.2,298.9 368.3,295.8 368.4,301.5 368.5,299.0 368.6,297.2 368.7,298.6 368.8,294.6 368.9,297.8 369.0,296.6 369.1,294.8 369.2,296.5 369.3,298.3 369.4,295.0 369.5,297.3 369.6,294.8 369.7,297.8 369.8,294.2 369.9,299.0 370.0,299.1 370.1,299.6 370.2,301.5 370.3,298.6 370.4,298.5 370.5,299.6 370.6,297.4 370.7,294.6 370.8,295.7 370.9,295.5 371.0,298.0 371.1,296.3 371.2,296.9 371.3,299.0 371.4,298.1 371.5,301.4 371.6,297.5 371.7,295.5 371.8,299.7 371.9,296.4 372.0,296.9 372.1,298.8 372.2,297.1 372.3,298.2 372.4,295.5 372.5,296.2 372.6,298.0 372.7,295.7 372.8,295.9 372.9,296.3 373.0,299.4 373.1,299.1 373.2,296.7 373.3,296.4 373.4,294.5 373.5,298.5 373.6,296.9 373.7,298.0 373.8,293.4 373.9,297.5 374.0,296.4 374.1,297.4 374.2,298.0 374.3,295.8 374.4,295.1 374.5,297.0 374.6,293.5 374.7,298.5 374.8,296.5 374.9,293.8 375.0,298.5 375.1,297.8 375.2,299.0 375.3,297.9 375.4,296.9 375.5,295.8 375.6,294.0 375.7,297.5 375.8,297.0 375.9,295.1 376.0,297.4 376.1,294.5 376.2,298.2 376.3,296.4 376.4,296.6 376.5,294.6 376.6,297.9 376.7,296.5 376.8,294.9 376.9,296.9 377.0,295.8 377.1,298.1 377.2,293.3 377.3,294.1 377.4,300.2 377.5,295.4 377.6,297.2 377.7,295.5 377.8,296.6 377.9,301.0 378.0,292.1 378.1,296.8 378.2,295.7 378.3,295.7 378.4,294.0 378.5,293.7 378.6,298.1 378.7,296.5 378.8,293.1 378.9,295.3 379.0,292.7 379.1,300.6 379.2,295.7 379.3,291.5 379.4,296.9 379.5,296.3 379.6,295.7 379.7,295.3 379.8,293.9 379.9,294.3 380.0,290.4 380.1,296.8 380.2,298.0 380.3,295.1 380.4,295.1 380.5,291.3 380.6,292.8 380.7,290.7 380.8,290.8 380.9,293.9 381.0,295.5 381.1,292.4 381.2,296.9 381.3,293.3 381.4,287.2 381.5,290.4 381.6,293.3 381.7,290.9 381.8,292.5 381.9,287.5 382.0,293.2 382.1,288.6 382.2,291.7 382.3,295.0 382.4,291.4 382.5,290.9 382.6,293.0 382.7,290.0 382.8,290.2 382.9,294.2 383.0,289.7 383.1,290.6 383.2,296.6 383.3,291.2 383.4,294.4 383.5,296.0 383.6,293.9 383.7,292.3 383.8,296.5 383.9,293.5 384.0,299.7 384.1,299.9 384.2,293.8 384.3,297.1 384.4,294.9 384.5,297.1 384.6,296.0 384.7,294.9 384.8,298.0 384.9,294.1 385.0,298.0 385.1,297.3 385.2,296.5 385.3,299.6 385.4,298.1 385.5,297.7 385.6,298.3 385.7,298.3 385.8,300.5 385.9,298.1 386.0,293.2 386.1,292.7 386.2,296.7 386.3,296.3 386.4,298.2 386.5,296.1 386.6,297.2 386.7,301.4 386.8,296.5 386.9,300.5 387.0,298.5 387.1,301.3 387.2,300.6 387.3,299.0 387.4,301.0 387.5,299.4 387.6,296.9 387.7,300.0 387.8,299.9 387.9,298.7 388.0,299.2 388.1,298.1 388.2,299.7 388.3,298.6 388.4,296.0 388.5,298.6 388.6,302.0 388.7,300.7 388.8,301.6 388.9,298.6 389.0,297.8 389.1,296.5 389.2,298.6 389.3,300.6 389.4,300.4 389.5,300.1 389.6,297.6 389.7,298.8 389.8,297.4 389.9,300.4 390.0,299.8 390.1,297.6 390.2,299.0 390.3,294.5 390.4,300.3 390.5,297.5 390.6,298.3 390.7,300.3 390.8,300.3 390.9,297.8 391.0,302.6 391.1,303.3 391.2,302.2 391.3,302.0 391.4,299.7 391.5,302.3 391.6,298.2 391.7,297.7 391.8,300.2 391.9,300.4 392.0,298.4 392.1,303.3 392.2,297.1 392.3,295.9 392.4,299.2 392.5,303.3 392.6,301.6 392.7,300.7 392.8,300.6 392.9,301.5 393.0,301.0 393.1,300.5 393.2,299.9 393.3,297.1 393.4,301.8 393.5,299.1 393.6,300.8 393.7,301.1 393.8,302.1 393.9,298.7 394.0,301.8 394.1,301.8 394.2,299.9 394.3,300.1 394.4,300.4 394.5,298.2 394.6,299.1 394.7,297.8 394.8,302.2 394.9,298.4 395.0,297.7 395.1,300.0 395.2,300.8 395.3,299.0 395.4,297.9 395.5,300.7 395.6,301.4 395.7,296.7 395.8,301.4 395.9,296.2 396.0,300.7 396.1,298.6 396.2,298.9 396.3,300.6 396.4,301.9 396.5,302.8 396.6,301.4 396.7,300.1 396.8,296.1 396.9,297.7 397.0,298.4 397.1,296.8 397.2,299.2 397.3,297.5 397.4,301.3 397.5,297.5 397.6,295.4 397.7,296.6 397.8,296.1 397.9,298.5 398.0,299.7 398.1,298.8 398.2,298.7 398.3,295.3 398.4,294.5 398.5,294.8 398.6,296.4 398.7,295.5 398.8,296.8 398.9,297.9 399.0,296.2 399.1,299.3 399.2,294.4 399.3,297.1 399.4,295.5 399.5,297.3 399.6,295.1 399.7,294.0 399.8,294.7 399.9,293.2 400.0,293.0 400.1,296.5 400.2,293.6 400.3,297.0 400.4,299.4 400.5,293.8 400.6,296.2 400.7,294.3 400.8,290.6 400.9,294.1 401.0,297.3 401.1,292.3 401.2,294.1 401.3,293.9 401.4,291.4 401.5,294.7 401.6,293.8 401.7,294.9 401.8,293.8 401.9,291.0 402.0,294.0 402.1,295.0 402.2,293.4 402.3,294.9 402.4,294.7 402.5,289.7 402.6,294.9 402.7,289.6 402.8,290.9 402.9,293.1 403.0,291.3 403.1,291.8 403.2,295.4 403.3,291.2 403.4,295.6 403.5,296.8 403.6,296.0 403.7,291.1 403.8,290.3 403.9,293.2 404.0,297.0 404.1,292.6 404.2,291.8 404.3,292.5 404.4,294.0 404.5,294.9 404.6,292.6 404.7,292.3 404.8,293.5 404.9,292.5 405.0,291.6 405.1,289.0 405.2,292.5 405.3,291.0 405.4,291.4 405.5,291.1 405.6,289.6 405.7,292.5 405.8,293.2 405.9,292.3 406.0,290.1 406.1,291.4 406.2,292.2 406.3,290.6 406.4,292.0 406.5,287.7 406.6,289.9 406.7,292.8 406.8,291.8 406.9,289.4 407.0,289.8 407.1,293.2 407.2,290.8 407.3,287.1 407.4,288.9 407.5,287.3 407.6,286.9 407.7,285.4 407.8,288.9 407.9,291.6 408.0,288.8 408.1,284.5 408.2,287.7 408.3,283.7 408.4,286.7 408.5,288.0 408.6,288.5 408.7,285.7 408.8,286.1 408.9,285.2 409.0,284.6 409.1,287.8 409.2,282.9 409.3,281.8 409.4,288.2 409.5,289.1 409.6,281.9 409.7,286.4 409.8,286.1 409.9,283.5 410.0,282.3 410.1,284.2 410.2,283.4 410.3,285.3 410.4,282.2 410.5,285.7 410.6,282.1 410.7,286.5 410.8,285.0 410.9,285.4 411.0,282.5 411.1,282.7 411.2,283.0 411.3,285.4 411.4,281.7 411.5,281.5 411.6,282.6 411.7,283.8 411.8,282.9 411.9,282.9 412.0,280.4 412.1,281.7 412.2,281.2 412.3,285.4 412.4,283.5 412.5,284.8 412.6,281.2 412.7,283.6 412.8,284.3 412.9,281.6 413.0,282.6 413.1,283.0 413.2,284.4 413.3,284.5 413.4,281.5 413.5,284.9 413.6,284.8 413.7,285.1 413.8,283.3 413.9,284.8 414.0,287.6 414.1,287.6 414.2,284.1 414.3,288.7 414.4,284.9 414.5,284.4 414.6,288.6 414.7,287.0 414.8,291.0 414.9,286.3 415.0,287.2 415.1,288.6 415.2,288.1 415.3,287.2 415.4,288.2 415.5,288.2 415.6,288.2 415.7,288.5 415.8,285.8 415.9,290.8 416.0,288.4 416.1,289.2 416.2,288.3 416.3,289.4 416.4,291.9 416.5,292.7 416.6,291.1 416.7,291.0 416.8,290.2 416.9,290.8 417.0,291.9 417.1,291.1 417.2,289.7 417.3,292.0 417.4,289.9 417.5,295.9 417.6,292.7 417.7,291.1 417.8,292.9 417.9,290.5 418.0,291.6 418.1,295.1 418.2,294.5 418.3,290.0 418.4,290.5 418.5,291.3 418.6,296.7 418.7,292.8 418.8,293.2 418.9,291.8 419.0,295.3 419.1,294.9 419.2,289.6 419.3,291.2 419.4,289.5 419.5,290.7 419.6,291.6 419.7,290.4 419.8,291.6 419.9,293.9 420.0,294.7 420.1,293.1 420.2,294.4 420.3,290.7 420.4,296.1 420.5,297.8 420.6,293.2 420.7,294.7 420.8,294.2 420.9,289.6 421.0,295.8 421.1,294.9 421.2,291.0 421.3,293.4 421.4,296.4 421.5,295.5 421.6,291.7 421.7,293.3 421.8,293.3 421.9,295.3 422.0,293.8 422.1,295.2 422.2,295.0 422.3,292.3 422.4,295.9 422.5,295.7 422.6,293.9 422.7,296.7 422.8,299.9 422.9,292.5 423.0,296.0 423.1,297.2 423.2,295.7 423.3,294.5 423.4,299.9 423.5,294.9 423.6,295.7 423.7,294.9 423.8,298.7 423.9,292.5 424.0,294.9 424.1,295.4 424.2,297.0 424.3,297.2 424.4,298.4 424.5,296.2 424.6,295.2 424.7,296.6 424.8,295.0 424.9,295.8 425.0,296.0 425.1,297.5 425.2,298.4 425.3,294.7 425.4,295.7 425.5,296.9 425.6,297.1 425.7,296.5 425.8,298.2 425.9,296.6 426.0,293.6 426.1,299.5 426.2,294.7 426.3,300.5 426.4,297.7 426.5,298.0 426.6,294.6 426.7,297.8 426.8,297.0 426.9,296.0 427.0,298.8 427.1,299.1 427.2,300.2 427.3,295.5 427.4,296.5 427.5,300.7 427.6,299.1 427.7,299.6 427.8,297.2 427.9,298.9 428.0,299.7 428.1,296.1 428.2,297.1 428.3,298.8 428.4,301.0 428.5,297.7 428.6,299.8 428.7,297.0 428.8,296.3 428.9,299.6 429.0,296.5 429.1,298.5 429.2,297.3 429.3,299.5 429.4,296.3 429.5,296.1 429.6,295.9 429.7,298.3 429.8,300.9 429.9,300.2 430.0,299.2 430.1,298.9 430.2,301.6 430.3,298.9 430.4,301.4 430.5,302.2 430.6,300.7 430.7,300.3 430.8,300.0 430.9,298.9 431.0,299.3 431.1,297.1 431.2,297.1 431.3,301.9 431.4,298.7 431.5,295.6 431.6,301.3 431.7,301.3 431.8,299.5 431.9,296.5 432.0,302.5 432.1,300.9 432.2,301.2 432.3,298.6 432.4,299.9 432.5,298.7 432.6,298.6 432.7,296.8 432.8,297.7 432.9,298.2 433.0,299.4 433.1,301.2 433.2,300.4 433.3,295.9 433.4,301.2 433.5,296.2 433.6,300.0 433.7,298.8 433.8,299.4 433.9,298.3 434.0,297.1 434.1,301.9 434.2,294.3 434.3,297.2 434.4,301.2 434.5,298.6 434.6,298.7 434.7,297.1 434.8,296.9 434.9,300.1 435.0,298.9 435.1,300.1 435.2,300.9 435.3,295.9 435.4,297.1 435.5,298.0 435.6,299.8 435.7,300.6 435.8,297.4 435.9,298.8 436.0,298.8 436.1,298.7 436.2,301.8 436.3,297.4 436.4,298.9 436.5,293.9 436.6,298.1 436.7,298.7 436.8,299.6 436.9,297.2 437.0,296.7 437.1,295.6 437.2,297.1 437.3,302.5 437.4,294.9 437.5,295.2 437.6,298.6 437.7,296.7 437.8,300.6 437.9,295.4 438.0,301.3 438.1,297.3 438.2,295.1 438.3,294.2 438.4,296.7 438.5,297.1 438.6,299.2 438.7,296.1 438.8,304.2 438.9,300.2 439.0,298.2 439.1,297.2 439.2,303.4 439.3,297.1 439.4,300.0 439.5,301.3 439.6,296.8 439.7,299.6 439.8,297.5 439.9,301.2 440.0,301.6 440.1,299.9 440.2,299.2 440.3,296.6 440.4,303.6 440.5,302.0 440.6,300.5 440.7,302.0 440.8,299.3 440.9,297.0 441.0,301.1 441.1,297.2 441.2,297.9 441.3,300.0 441.4,295.6 441.5,298.6 441.6,297.8 441.7,296.1 441.8,296.0 441.9,297.9 442.0,297.9 442.1,298.7 442.2,295.2 442.3,298.2 442.4,295.6 442.5,296.4 442.6,299.5 442.7,296.2 442.8,296.2 442.9,295.6 443.0,297.1 443.1,298.8 443.2,296.4 443.3,298.5 443.4,294.6 443.5,297.9 443.6,296.6 443.7,296.8 443.8,295.0 443.9,295.5 444.0,297.2 444.1,294.3 444.2,298.1 444.3,295.8 444.4,297.5 444.5,294.5 444.6,293.5 444.7,297.6 444.8,297.7 444.9,296.5 445.0,297.7 445.1,296.5 445.2,297.7 445.3,296.9 445.4,294.6 445.5,298.5 445.6,294.6 445.7,300.7 445.8,296.3 445.9,294.7 446.0,295.8 446.1,296.2 446.2,296.5 446.3,297.0 446.4,294.6 446.5,291.7 446.6,294.2 446.7,296.7 446.8,298.1 446.9,292.1 447.0,296.0 447.1,298.0 447.2,293.0 447.3,298.5 447.4,294.0 447.5,295.0 447.6,294.2 447.7,298.7 447.8,296.9 447.9,295.2 448.0,294.1 448.1,291.6 448.2,294.2 448.3,293.5 448.4,294.3 448.5,290.7 448.6,296.7 448.7,296.0 448.8,297.3 448.9,292.8 449.0,293.8 449.1,291.4 449.2,295.5 449.3,293.3 449.4,296.8 449.5,294.9 449.6,294.8 449.7,294.3 449.8,290.3 449.9,294.6 450.0,290.2 450.1,293.7 450.2,294.3 450.3,291.0 450.4,292.1 450.5,292.9 450.6,293.6 450.7,293.5 450.8,293.1 450.9,291.5 451.0,293.7 451.1,297.7 451.2,292.1 451.3,296.3 451.4,290.7 451.5,291.9 451.6,295.6 451.7,294.9 451.8,296.2 451.9,294.2 452.0,292.0 452.1,293.1 452.2,292.1 452.3,294.8 452.4,294.0 452.5,295.3 452.6,291.4 452.7,292.2 452.8,291.9 452.9,291.9 453.0,292.4 453.1,295.1 453.2,292.8 453.3,294.9 453.4,292.8 453.5,288.9 453.6,290.0 453.7,292.3 453.8,294.8 453.9,292.3 454.0,289.5 454.1,292.5 454.2,291.8 454.3,293.3 454.4,293.6 454.5,292.6 454.6,290.7 454.7,289.8 454.8,291.0 454.9,291.3 455.0,292.0 455.1,290.5 455.2,290.0 455.3,292.1 455.4,292.5 455.5,291.2 455.6,288.8 455.7,290.0 455.8,294.8 455.9,288.6 456.0,290.0 456.1,292.2 456.2,288.3 456.3,289.8 456.4,292.7 456.5,292.1 456.6,286.8 456.7,291.5 456.8,289.5 456.9,287.5 457.0,292.2 457.1,289.1 457.2,289.7 457.3,288.0 457.4,291.0 457.5,291.2 457.6,290.7 457.7,293.8 457.8,290.3 457.9,288.6 458.0,290.1 458.1,289.6 458.2,290.2 458.3,284.3 458.4,290.4 458.5,292.6 458.6,290.4 458.7,287.4 458.8,292.5 458.9,289.8 459.0,292.3 459.1,290.2 459.2,287.2 459.3,284.5 459.4,287.6 459.5,288.4 459.6,286.2 459.7,284.2 459.8,288.0 459.9,284.8 460.0,288.6 460.1,284.7 460.2,286.4 460.3,284.7 460.4,285.9 460.5,285.8 460.6,280.6 460.7,282.9 460.8,283.0 460.9,282.6 461.0,283.3 461.1,285.4 461.2,281.4 461.3,284.0 461.4,282.1 461.5,281.1 461.6,279.3 461.7,280.2 461.8,279.3 461.9,281.9 462.0,283.7 462.1,281.7 462.2,281.6 462.3,278.2 462.4,280.7 462.5,277.4 462.6,277.0 462.7,279.1 462.8,277.2 462.9,279.4 463.0,277.8 463.1,276.5 463.2,275.7 463.3,276.7 463.4,276.7 463.5,276.0 463.6,278.1 463.7,274.6 463.8,272.7 463.9,272.6 464.0,273.1 464.1,273.1 464.2,274.3 464.3,277.3 464.4,272.1 464.5,272.5 464.6,272.8 464.7,272.0 464.8,272.0 464.9,274.4 465.0,275.4 465.1,271.6 465.2,272.6 465.3,274.3 465.4,273.3 465.5,272.5 465.6,273.6 465.7,272.8 465.8,271.6 465.9,273.7 466.0,271.4 466.1,271.9 466.2,273.6 466.3,271.1 466.4,274.9 466.5,272.2 466.6,271.8 466.7,274.5 466.8,274.9 466.9,275.6 467.0,276.6 467.1,272.5 467.2,274.3 467.3,273.3 467.4,274.2 467.5,277.5 467.6,276.6 467.7,277.0 467.8,277.5 467.9,276.1 468.0,279.4 468.1,275.4 468.2,278.9 468.3,276.8 468.4,276.4 468.5,282.0 468.6,277.7 468.7,280.0 468.8,277.5 468.9,277.9 469.0,281.7 469.1,280.6 469.2,280.4 469.3,281.7 469.4,282.0 469.5,282.8 469.6,282.2 469.7,282.9 469.8,282.5 469.9,282.5 470.0,284.8 470.1,278.8 470.2,284.4 470.3,283.3 470.4,283.9 470.5,283.4 470.6,282.7 470.7,285.6 470.8,282.4 470.9,283.0 471.0,283.2 471.1,288.6 471.2,285.8 471.3,285.9 471.4,283.6 471.5,286.6 471.6,288.2 471.7,284.5 471.8,286.9 471.9,287.3 472.0,288.2 472.1,289.0 472.2,291.0 472.3,287.5 472.4,287.7 472.5,286.6 472.6,289.7 472.7,287.9 472.8,288.9 472.9,289.5 473.0,288.2 473.1,288.2 473.2,288.7 473.3,288.7 473.4,288.8 473.5,288.4 473.6,289.0 473.7,291.4 473.8,288.1 473.9,289.6 474.0,289.4 474.1,291.3 474.2,288.7 474.3,289.0 474.4,288.6 474.5,290.9 474.6,290.9 474.7,290.7 474.8,290.4 474.9,294.4 475.0,291.0 475.1,286.9 475.2,288.0 475.3,288.2 475.4,290.1 475.5,288.3 475.6,291.2 475.7,288.7 475.8,291.3 475.9,290.5 476.0,292.5 476.1,292.0 476.2,290.0 476.3,295.4 476.4,290.0 476.5,291.2 476.6,289.7 476.7,294.1 476.8,294.2 476.9,292.4 477.0,288.0 477.1,294.1 477.2,295.9 477.3,291.0 477.4,293.5 477.5,294.3 477.6,292.7 477.7,290.6 477.8,292.3 477.9,291.5 478.0,294.0 478.1,289.9 478.2,294.4 478.3,293.4 478.4,290.4 478.5,291.7 478.6,294.6 478.7,295.9 478.8,294.9 478.9,298.7 479.0,293.8 479.1,291.2 479.2,293.3 479.3,291.7 479.4,288.6 479.5,295.0 479.6,291.2 479.7,291.2 479.8,296.3 479.9,291.7 480.0,291.4 480.1,294.6 480.2,296.4 480.3,289.2 480.4,290.8 480.5,291.9 480.6,294.7 480.7,293.8 480.8,295.5 480.9,290.7 481.0,293.3 481.1,296.1 481.2,290.1 481.3,295.6 481.4,292.1 481.5,294.2 481.6,291.9 481.7,295.1 481.8,295.5 481.9,293.5 482.0,296.8 482.1,291.8 482.2,295.4 482.3,291.8 482.4,295.6 482.5,295.4 482.6,292.7 482.7,297.0 482.8,294.2 482.9,291.7 483.0,293.6 483.1,296.0 483.2,294.4 483.3,296.3 483.4,297.2 483.5,296.2 483.6,295.8 483.7,295.4 483.8,296.4 483.9,298.3 484.0,294.6 484.1,295.3 484.2,297.6 484.3,294.6 484.4,298.3 484.5,296.6 484.6,297.4 484.7,295.5 484.8,296.3 484.9,299.0 485.0,294.8 485.1,299.0 485.2,299.2 485.3,297.4 485.4,293.7 485.5,295.2 485.6,298.0 485.7,299.3 485.8,294.7 485.9,298.4 486.0,298.2 486.1,295.0 486.2,298.1 486.3,296.3 486.4,295.1 486.5,301.3 486.6,296.4 486.7,295.3 486.8,295.4 486.9,301.7 487.0,300.0 487.1,299.2 487.2,296.6 487.3,299.0 487.4,298.3 487.5,299.5 487.6,295.3 487.7,299.4 487.8,299.7 487.9,296.1 488.0,296.1 488.1,297.8 488.2,295.2 488.3,297.1 488.4,297.0 488.5,300.1 488.6,295.9 488.7,296.9 488.8,300.0 488.9,294.4 489.0,299.6 489.1,296.7 489.2,298.8 489.3,297.8 489.4,299.1 489.5,291.6 489.6,296.6 489.7,293.9 489.8,297.3 489.9,296.6 490.0,298.0 490.1,301.2 490.2,299.1 490.3,298.9 490.4,299.0 490.5,297.5 490.6,300.9 490.7,299.2 490.8,298.1 490.9,300.3 491.0,297.3 491.1,297.0 491.2,296.3 491.3,295.1 491.4,295.7 491.5,300.4 491.6,297.3 491.7,298.0 491.8,299.2 491.9,297.5 492.0,295.7 492.1,295.8 492.2,296.8 492.3,299.8 492.4,297.2 492.5,296.9 492.6,298.8 492.7,298.0 492.8,298.3 492.9,298.6 493.0,301.4 493.1,297.6 493.2,297.2 493.3,301.5 493.4,296.2 493.5,294.7 493.6,299.5 493.7,296.9 493.8,297.9 493.9,297.9 494.0,295.8 494.1,299.0 494.2,295.8 494.3,299.7 494.4,300.5 494.5,296.9 494.6,300.1 494.7,298.4 494.8,301.6 494.9,298.2 495.0,294.7 495.1,294.7 495.2,299.8 495.3,297.5 495.4,299.2 495.5,296.2 495.6,297.4 495.7,294.2 495.8,299.3 495.9,300.2 496.0,297.3 496.1,299.8 496.2,297.3 496.3,299.0 496.4,297.2 496.5,296.5 496.6,299.0 496.7,294.7 496.8,301.9 496.9,295.4 497.0,294.7 497.1,298.8 497.2,296.3 497.3,299.4 497.4,295.4 497.5,300.6 497.6,300.5 497.7,296.0 497.8,302.1 497.9,297.7 498.0,298.4 498.1,296.8 498.2,298.5 498.3,298.7 498.4,297.7 498.5,298.8 498.6,298.4 498.7,299.0 498.8,295.5 498.9,297.3 499.0,296.0 499.1,298.1 499.2,298.4 499.3,297.9 499.4,296.5 499.5,301.5 499.6,295.9 499.7,299.0 499.8,297.1 499.9,300.7 500.0,300.4 500.1,299.0 500.2,299.4 500.3,296.5 500.4,296.4 500.5,299.7 500.6,298.4 500.7,295.2 500.8,297.5 500.9,295.3 501.0,295.1 501.1,298.0 501.2,298.3 501.3,297.6 501.4,297.4 501.5,296.5 501.6,297.9 501.7,298.3 501.8,297.3 501.9,302.5 502.0,297.4 502.1,298.3 502.2,296.7 502.3,297.9 502.4,298.3 502.5,299.1 502.6,292.4 502.7,300.2 502.8,299.3 502.9,299.0 503.0,296.5 503.1,294.8 503.2,295.8 503.3,299.2 503.4,299.5 503.5,298.1 503.6,299.6 503.7,296.4 503.8,296.2 503.9,300.8 504.0,300.5 504.1,299.7 504.2,300.3 504.3,298.4 504.4,293.9 504.5,297.7 504.6,300.4 504.7,297.9 504.8,299.6 504.9,299.6 505.0,296.8 505.1,299.4 505.2,298.3 505.3,295.4 505.4,300.3 505.5,296.6 505.6,299.8 505.7,299.9 505.8,297.5 505.9,297.3 506.0,300.0 506.1,299.6 506.2,301.5 506.3,299.6 506.4,300.3 506.5,299.6 506.6,301.1 506.7,297.4 506.8,295.6 506.9,299.8 507.0,298.5 507.1,297.6 507.2,302.3 507.3,296.6 507.4,298.8 507.5,301.0 507.6,299.0 507.7,298.4 507.8,299.6 507.9,298.3 508.0,295.6 508.1,296.4 508.2,300.1 508.3,300.0 508.4,296.6 508.5,299.5 508.6,300.0 508.7,300.1 508.8,301.6 508.9,300.8 509.0,298.7 509.1,298.4 509.2,300.5 509.3,297.1 509.4,296.1 509.5,300.6 509.6,301.0 509.7,300.0 509.8,299.7 509.9,296.1 510.0,296.5 510.1,297.9 510.2,302.2 510.3,298.5 510.4,299.5 510.5,297.8 510.6,301.8 510.7,295.7 510.8,302.4 510.9,299.5 511.0,294.5 511.1,299.9 511.2,300.8 511.3,300.8 511.4,300.4 511.5,299.0 511.6,299.0 511.7,299.8 511.8,298.4 511.9,302.8 512.0,297.2 512.1,299.9 512.2,299.2 512.3,296.9 512.4,302.3 512.5,300.2 512.6,298.5 512.7,298.2 512.8,299.4 512.9,302.6 513.0,300.1 513.1,297.9 513.2,299.8 513.3,298.1 513.4,300.3 513.5,300.2 513.6,300.6 513.7,299.9 513.8,299.3 513.9,296.8 514.0,299.6 514.1,301.6 514.2,296.8 514.3,300.9 514.4,297.8 514.5,297.9 514.6,297.9 514.7,300.3 514.8,298.8 514.9,299.0 515.0,297.0 515.1,301.6 515.2,296.8 515.3,301.0 515.4,300.9 515.5,299.9 515.6,296.2 515.7,298.8 515.8,297.3 515.9,301.6 516.0,299.1 516.1,299.3 516.2,298.7 516.3,299.0 516.4,300.5 516.5,302.6 516.6,300.0 516.7,300.8 516.8,300.0 516.9,299.4 517.0,296.2 517.1,297.6 517.2,297.2 517.3,299.8 517.4,293.1 517.5,294.5 517.6,297.7 517.7,299.3 517.8,297.9 517.9,298.4 518.0,299.9 518.1,301.1 518.2,301.6 518.3,299.8 518.4,300.9 518.5,298.1 518.6,297.3 518.7,300.1 518.8,302.2 518.9,300.2 519.0,295.4 519.1,301.0 519.2,302.8 519.3,300.6 519.4,298.8 519.5,297.7 519.6,297.4 519.7,302.2 519.8,298.8 519.9,299.1 520.0,299.4 520.1,299.6 520.2,300.7 520.3,299.3 520.4,300.8 520.5,299.3 520.6,299.1 520.7,297.3 520.8,300.7 520.9,303.1 521.0,302.0 521.1,302.9 521.2,300.2 521.3,299.2 521.4,299.2 521.5,298.9 521.6,302.6 521.7,303.3 521.8,299.8 521.9,301.9 522.0,298.6 522.1,301.7 522.2,302.6 522.3,299.7 522.4,303.5 522.5,300.4 522.6,301.6 522.7,304.1 522.8,298.0 522.9,301.9 523.0,300.5 523.1,303.7 523.2,300.8 523.3,300.2 523.4,301.5 523.5,303.9 523.6,299.5 523.7,298.9 523.8,299.2 523.9,302.4 524.0,297.2 524.1,298.3 524.2,299.2 524.3,298.6 524.4,299.8 524.5,298.6 524.6,295.7 524.7,303.6 524.8,301.3 524.9,298.9 525.0,298.3 525.1,298.2 525.2,296.0 525.3,297.4 525.4,299.8 525.5,299.6 525.6,301.4 525.7,298.6 525.8,297.4 525.9,300.2 526.0,299.6 526.1,296.1 526.2,297.1 526.3,299.9 526.4,296.8 526.5,298.5 526.6,296.5 526.7,300.5 526.8,302.6 526.9,294.6 527.0,296.6 527.1,300.1 527.2,299.3 527.3,298.9 527.4,296.6 527.5,295.7 527.6,298.3 527.7,300.8 527.8,300.9 527.9,303.6 528.0,295.8 528.1,299.5 528.2,299.7 528.3,302.7 528.4,297.9 528.5,301.7 528.6,296.4 528.7,301.5 528.8,297.8 528.9,297.5 529.0,300.1 529.1,298.6 529.2,300.0 529.3,299.2 529.4,297.9 529.5,301.1 529.6,299.2 529.7,298.5 529.8,298.3 529.9,296.0 530.0,297.0 530.1,300.2 530.2,300.0 530.3,299.4 530.4,302.2 530.5,299.6 530.6,299.6 530.7,300.5 530.8,300.0 530.9,301.7 531.0,298.3 531.1,299.5 531.2,299.2 531.3,298.5 531.4,299.1 531.5,300.9 531.6,301.9 531.7,299.1 531.8,299.0 531.9,299.5 532.0,301.0 532.1,300.1 532.2,302.0 532.3,302.6 532.4,301.2 532.5,298.1 532.6,298.3 532.7,298.4 532.8,298.3 532.9,301.4 533.0,298.5 533.1,300.5 533.2,298.8 533.3,297.9 533.4,301.7 533.5,296.6 533.6,302.0 533.7,296.6 533.8,300.3 533.9,299.9 534.0,299.8 534.1,299.2 534.2,297.8 534.3,298.5 534.4,301.7 534.5,301.0 534.6,303.4 534.7,301.4 534.8,300.5 534.9,299.8 535.0,299.1 535.1,302.0 535.2,298.9 535.3,299.0 535.4,298.2 535.5,300.5 535.6,305.7 535.7,299.0 535.8,296.4 535.9,298.3 536.0,301.3 536.1,298.9 536.2,298.9 536.3,301.0 536.4,299.5 536.5,297.8 536.6,300.4 536.7,297.7 536.8,299.2 536.9,302.7 537.0,294.7"/><polyline fill="none" stroke="#ff0000" stroke-width="1.25" stroke-linejoin="round" points="48.0,223.2 48.1,224.2 48.2,223.6 48.3,220.4 48.4,224.5 48.5,223.8 48.6,222.0 48.7,224.3 48.8,223.9 48.9,223.8 49.0,223.4 49.1,224.3 49.2,221.8 49.3,222.9 49.4,222.3 49.5,224.1 49.6,222.9 49.7,222.2 49.8,221.3 49.9,222.5 50.0,222.9 50.1,222.4 50.2,225.0 50.3,224.8 50.4,217.3 50.5,219.0 50.6,222.4 50.7,221.7 50.8,222.9 50.9,223.0 51.0,226.7 51.1,220.5 51.2,222.1 51.3,226.7 51.4,224.2 51.5,224.3 51.6,222.1 51.7,219.7 51.8,223.3 51.9,223.3 52.0,220.9 52.1,221.8 52.2,222.6 52.3,221.0 52.4,222.7 52.5,223.0 52.6,222.8 52.7,221.5 52.8,223.6 52.9,224.1 53.0,223.0 53.1,220.9 53.2,223.9 53.3,221.6 53.4,224.1 53.5,220.5 53.6,224.6 53.7,222.8 53.8,220.4 53.9,221.8 54.0,222.5 54.1,223.0 54.2,220.9 54.3,220.3 54.4,223.1 54.5,221.7 54.6,223.0 54.7,224.1 54.8,219.7 54.9,223.3 55.0,225.0 55.1,222.1 55.2,221.3 55.3,224.2 55.4,223.2 55.5,224.3 55.6,222.1 55.7,220.1 55.8,222.8 55.9,222.1 56.0,224.4 56.1,223.3 56.2,219.7 56.3,220.5 56.4,224.4 56.5,223.9 56.6,221.5 56.7,222.8 56.8,223.5 56.9,223.8 57.0,224.7 57.1,223.6 57.2,222.9 57.3,222.7 57.4,225.2 57.5,219.0 57.6,222.8 57.7,223.2 57.8,220.5 57.9,224.2 58.0,222.4 58.1,225.3 58.2,223.2 58.3,224.8 58.4,226.1 58.5,224.4 58.6,222.1 58.7,220.8 58.8,227.2 58.9,223.7 59.0,222.7 59.1,224.3 59.2,223.3 59.3,225.4 59.4,223.9 59.5,223.8 59.6,222.5 59.7,224.7 59.8,221.9 59.9,225.2 60.0,226.9 60.1,221.4 60.2,219.8 60.3,225.8 60.4,229.5 60.5,222.8 60.6,222.3 60.7,225.9 60.8,223.2 60.9,223.8 61.0,223.8 61.1,225.3 61.2,223.5 61.3,224.9 61.4,224.0 61.5,222.8 61.6,223.9 61.7,222.9 61.8,224.8 61.9,222.6 62.0,222.7 62.1,227.4 62.2,224.7 62.3,224.7 62.4,225.6 62.5,223.8 62.6,224.4 62.7,225.7 62.8,225.1 62.9,222.2 63.0,226.0 63.1,223.4 63.2,222.9 63.3,223.3 63.4,224.1 63.5,228.0 63.6,222.6 63.7,225.3 63.8,220.9 63.9,224.9 64.0,226.5 64.1,224.3 64.2,223.5 64.3,225.1 64.4,226.1 64.5,226.0 64.6,228.5 64.7,225.2 64.8,223.8 64.9,224.7 65.0,225.0 65.1,225.6 65.2,225.4 65.3,225.6 65.4,222.1 65.5,227.0 65.6,224.2 65.7,223.2 65.8,226.4 65.9,227.7 66.0,226.2 66.1,225.9 66.2,223.8 66.3,230.8 66.4,227.0 66.5,223.1 66.6,223.7 66.7,225.5 66.8,222.6 66.9,225.9 67.0,224.9 67.1,228.1 67.2,227.5 67.3,220.4 67.4,225.8 67.5,222.8 67.6,228.2 67.7,226.3 67.8,227.0 67.9,224.1 68.0,229.8 68.1,230.3 68.2,224.5 68.3,227.2 68.4,225.2 68.5,226.4 68.6,224.2 68.7,230.0 68.8,224.5 68.9,225.9 69.0,227.6 69.1,225.2 69.2,226.1 69.3,225.6 69.4,226.4 69.5,224.3 69.6,225.9 69.7,226.3 69.8,226.3 69.9,227.2 70.0,226.4 70.1,228.4 70.2,226.5 70.3,227.0 70.4,226.0 70.5,226.5 70.6,225.0 70.7,228.4 70.8,225.0 70.9,225.8 71.0,228.0 71.1,228.1 71.2,226.6 71.3,223.6 71.4,228.1 71.5,227.7 71.6,224.4 71.7,228.5 71.8,225.6 71.9,224.7 72.0,227.0 72.1,226.2 72.2,226.9 72.3,223.5 72.4,229.9 72.5,225.3 72.6,223.5 72.7,227.7 72.8,226.0 72.9,227.4 73.0,225.9 73.1,226.8 73.2,227.3 73.3,225.4 73.4,228.0 73.5,225.9 73.6,225.2 73.7,226.7 73.8,227.3 73.9,225.7 74.0,224.6 74.1,227.4 74.2,222.9 74.3,224.4 74.4,226.6 74.5,223.8 74.6,226.5 74.7,226.5 74.8,228.4 74.9,225.1 75.0,225.5 75.1,227.2 75.2,221.8 75.3,232.2 75.4,225.0 75.5,225.2 75.6,228.3 75.7,226.6 75.8,223.5 75.9,228.1 76.0,228.6 76.1,226.2 76.2,226.6 76.3,228.2 76.4,225.9 76.5,228.7 76.6,228.2 76.7,226.6 76.8,225.5 76.9,227.5 77.0,226.4 77.1,229.8 77.2,228.2 77.3,229.4 77.4,228.4 77.5,228.6 77.6,226.6 77.7,229.5 77.8,231.7 77.9,228.0 78.0,227.4 78.1,228.3 78.2,227.5 78.3,227.3 78.4,228.9 78.5,228.3 78.6,231.7 78.7,228.7 78.8,229.1 78.9,230.4 79.0,228.1 79.1,231.4 79.2,227.5 79.3,227.2 79.4,228.1 79.5,228.6 79.6,226.1 79.7,228.5 79.8,225.3 79.9,231.2 80.0,228.3 80.1,227.2 80.2,226.5 80.3,227.5 80.4,227.6 80.5,225.9 80.6,226.3 80.7,227.7 80.8,226.8 80.9,229.4 81.0,229.8 81.1,227.6 81.2,228.2 81.3,224.9 81.4,228.8 81.5,227.6 81.6,228.4 81.7,230.4 81.8,223.1 81.9,227.8 82.0,225.5 82.1,228.8 82.2,225.2 82.3,226.8 82.4,228.0 82.5,228.6 82.6,227.7 82.7,226.1 82.8,226.7 82.9,229.5 83.0,227.8 83.1,224.8 83.2,229.8 83.3,229.0 83.4,229.9 83.5,227.6 83.6,229.9 83.7,226.5 83.8,229.6 83.9,227.4 84.0,229.6 84.1,230.4 84.2,227.3 84.3,228.6 84.4,228.7 84.5,230.7 84.6,229.8 84.7,226.1 84.8,229.4 84.9,230.1 85.0,232.8 85.1,225.7 85.2,228.4 85.3,231.8 85.4,226.5 85.5,227.0 85.6,230.5 85.7,231.7 85.8,228.6 85.9,230.9 86.0,229.9 86.1,232.5 86.2,229.8 86.3,231.4 86.4,227.9 86.5,229.4 86.6,229.5 86.7,231.9 86.8,231.0 86.9,228.3 87.0,231.1 87.1,231.2 87.2,229.7 87.3,229.4 87.4,229.5 87.5,226.5 87.6,230.0 87.7,230.3 87.8,228.0 87.9,231.4 88.0,227.4 88.1,228.8 88.2,229.0 88.3,233.8 88.4,227.2 88.5,231.2 88.6,232.0 88.7,231.0 88.8,232.5 88.9,228.3 89.0,225.9 89.1,231.8 89.2,227.7 89.3,229.7 89.4,228.1 89.5,232.0 89.6,231.5 89.7,228.5 89.8,231.4 89.9,230.0 90.0,229.4 90.1,229.8 90.2,229.2 90.3,230.8 90.4,230.4 90.5,229.1 90.6,231.6 90.7,228.7 90.8,230.4 90.9,230.7 91.0,232.8 91.1,228.9 91.2,233.1 91.3,230.1 91.4,229.4 91.5,228.4 91.6,230.8 91.7,229.7 91.8,227.5 91.9,227.5 92.0,228.8 92.1,228.7 92.2,232.1 92.3,232.5 92.4,231.4 92.5,230.4 92.6,228.9 92.7,229.8 92.8,231.4 92.9,233.7 93.0,231.4 93.1,228.9 93.2,229.7 93.3,228.6 93.4,228.1 93.5,229.6 93.6,230.4 93.7,233.6 93.8,230.5 93.9,233.1 94.0,234.1 94.1,230.9 94.2,233.6 94.3,231.9 94.4,229.7 94.5,231.0 94.6,230.6 94.7,230.2 94.8,230.3 94.9,231.0 95.0,231.6 95.1,229.1 95.2,231.0 95.3,228.1 95.4,231.5 95.5,232.4 95.6,231.8 95.7,232.0 95.8,232.7 95.9,230.2 96.0,231.1 96.1,232.4 96.2,233.3 96.3,232.0 96.4,236.4 96.5,231.4 96.6,233.4 96.7,234.1 96.8,231.5 96.9,230.1 97.0,229.3 97.1,231.9 97.2,233.8 97.3,232.0 97.4,232.0 97.5,230.9 97.6,232.8 97.7,227.6 97.8,232.0 97.9,231.6 98.0,228.8 98.1,235.3 98.2,228.8 98.3,229.4 98.4,229.2 98.5,233.6 98.6,229.9 98.7,232.8 98.8,232.5 98.9,231.8 99.0,228.8 99.1,230.1 99.2,234.4 99.3,228.8 99.4,229.8 99.5,230.8 99.6,232.6 99.7,231.6 99.8,232.5 99.9,229.0 100.0,232.6 100.1,231.7 100.2,227.5 100.3,233.7 100.4,235.1 100.5,229.4 100.6,231.0 100.7,233.6 100.8,228.2 100.9,227.3 101.0,228.7 101.1,230.2 101.2,230.2 101.3,232.3 101.4,231.6 101.5,228.7 101.6,232.2 101.7,234.7 101.8,233.4 101.9,232.9 102.0,231.1 102.1,233.1 102.2,229.3 102.3,232.6 102.4,230.9 102.5,233.3 102.6,232.1 102.7,229.2 102.8,231.8 102.9,233.9 103.0,229.6 103.1,230.7 103.2,230.3 103.3,229.0 103.4,233.6 103.5,234.5 103.6,233.5 103.7,232.3 103.8,231.8 103.9,232.4 104.0,230.7 104.1,234.2 104.2,234.4 104.3,234.2 104.4,231.5 104.5,232.7 104.6,232.1 104.7,235.8 104.8,232.7 104.9,228.9 105.0,233.3 105.1,236.0 105.2,233.7 105.3,234.2 105.4,232.6 105.5,228.7 105.6,228.8 105.7,229.8 105.8,231.9 105.9,232.7 106.0,233.5 106.1,231.5 106.2,233.9 106.3,231.7 106.4,230.8 106.5,233.8 106.6,230.5 106.7,226.8 106.8,229.8 106.9,232.1 107.0,226.1 107.1,231.3 107.2,231.3 107.3,229.2 107.4,229.1 107.5,230.9 107.6,230.7 107.7,234.2 107.8,232.6 107.9,228.9 108.0,230.2 108.1,233.2 108.2,235.6 108.3,232.6 108.4,232.4 108.5,235.2 108.6,231.8 108.7,231.1 108.8,229.1 108.9,230.8 109.0,236.1 109.1,229.3 109.2,232.1 109.3,229.5 109.4,232.5 109.5,233.9 109.6,232.0 109.7,233.8 109.8,233.7 109.9,233.5 110.0,236.0 110.1,234.2 110.2,232.4 110.3,231.7 110.4,231.6 110.5,234.1 110.6,232.6 110.7,238.6 110.8,236.8 110.9,232.6 111.0,232.3 111.1,236.0 111.2,229.3 111.3,231.9 111.4,234.9 111.5,231.6 111.6,232.3 111.7,232.4 111.8,234.1 111.9,233.2 112.0,234.0 112.1,234.2 112.2,233.2 112.3,235.2 112.4,231.5 112.5,230.2 112.6,229.6 112.7,229.9 112.8,231.9 112.9,234.9 113.0,233.4 113.1,231.7 113.2,230.7 113.3,231.7 113.4,231.8 113.5,231.7 113.6,230.0 113.7,231.9 113.8,234.8 113.9,228.4 114.0,232.0 114.1,228.6 114.2,232.9 114.3,230.8 114.4,228.4 114.5,232.4 114.6,235.7 114.7,232.3 114.8,234.5 114.9,232.3 115.0,228.4 115.1,233.7 115.2,231.8 115.3,229.6 115.4,233.7 115.5,232.6 115.6,231.2 115.7,234.1 115.8,230.9 115.9,233.6 116.0,230.4 116.1,233.3 116.2,230.2 116.3,235.1 116.4,233.0 116.5,235.3 116.6,231.0 116.7,231.6 116.8,234.2 116.9,227.3 117.0,230.1 117.1,234.3 117.2,233.2 117.3,234.1 117.4,231.7 117.5,233.2 117.6,230.7 117.7,229.4 117.8,229.0 117.9,231.2 118.0,231.2 118.1,230.9 118.2,225.4 118.3,228.6 118.4,231.2 118.5,233.0 118.6,231.3 118.7,230.8 118.8,227.8 118.9,235.9 119.0,229.8 119.1,234.9 119.2,234.6 119.3,232.4 119.4,230.8 119.5,232.2 119.6,229.6 119.7,232.2 119.8,231.6 119.9,232.8 120.0,233.7 120.1,235.2 120.2,231.2 120.3,233.7 120.4,230.3 120.5,230.0 120.6,230.6 120.7,230.0 120.8,233.7 120.9,233.8 121.0,234.5 121.1,232.1 121.2,232.7 121.3,231.2 121.4,230.1 121.5,233.1 121.6,232.7 121.7,230.2 121.8,233.3 121.9,229.0 122.0,232.0 122.1,231.2 122.2,231.3 122.3,230.1 122.4,233.9 122.5,233.1 122.6,234.1 122.7,232.1 122.8,229.6 122.9,231.4 123.0,230.0 123.1,233.1 123.2,234.6 123.3,233.1 123.4,231.3 123.5,231.8 123.6,232.9 123.7,229.8 123.8,233.0 123.9,233.0 124.0,231.5 124.1,231.6 124.2,232.7 124.3,231.0 124.4,230.9 124.5,234.1 124.6,232.9 124.7,235.6 124.8,230.4 124.9,228.8 125.0,234.0 125.1,233.8 125.2,230.5 125.3,229.0 125.4,231.7 125.5,228.6 125.6,231.3 125.7,227.6 125.8,231.1 125.9,227.5 126.0,230.8 126.1,234.1 126.2,230.8 126.3,232.8 126.4,230.1 126.5,229.5 126.6,228.5 126.7,233.3 126.8,231.1 126.9,234.4 127.0,228.9 127.1,230.4 127.2,230.9 127.3,233.3 127.4,233.9 127.5,229.3 127.6,228.2 127.7,227.1 127.8,232.9 127.9,230.2 128.0,229.0 128.1,230.0 128.2,224.9 128.3,226.4 128.4,231.5 128.5,230.4 128.6,229.8 128.7,227.9 128.8,231.0 128.9,233.1 129.0,227.2 129.1,229.8 129.2,228.9 129.3,230.6 129.4,229.8 129.5,229.3 129.6,227.9 129.7,229.5 129.8,228.3 129.9,228.9 130.0,229.2 130.1,230.5 130.2,228.2 130.3,228.7 130.4,231.2 130.5,228.6 130.6,228.4 130.7,230.6 130.8,229.4 130.9,228.9 131.0,228.9 131.1,226.1 131.2,229.5 131.3,231.2 131.4,229.6 131.5,225.3 131.6,229.1 131.7,226.5 131.8,227.8 131.9,228.5 132.0,226.1 132.1,231.0 132.2,228.5 132.3,230.2 132.4,230.0 132.5,231.2 132.6,230.6 132.7,225.2 132.8,228.0 132.9,224.0 133.0,227.1 133.1,229.2 133.2,229.7 133.3,230.3 133.4,227.2 133.5,228.6 133.6,228.1 133.7,230.2 133.8,230.9 133.9,227.4 134.0,235.3 134.1,228.0 134.2,227.3 134.3,229.0 134.4,229.4 134.5,228.9 134.6,226.7 134.7,230.5 134.8,227.9 134.9,230.8 135.0,230.6 135.1,225.9 135.2,226.5 135.3,226.6 135.4,229.2 135.5,228.8 135.6,229.2 135.7,227.1 135.8,229.3 135.9,231.0 136.0,225.5 136.1,227.7 136.2,228.5 136.3,227.6 136.4,227.1 136.5,230.8 136.6,230.1 136.7,229.5 136.8,226.2 136.9,231.6 137.0,228.1 137.1,226.1 137.2,226.4 137.3,226.1 137.4,231.0 137.5,227.3 137.6,227.0 137.7,222.9 137.8,228.4 137.9,224.9 138.0,224.6 138.1,227.9 138.2,225.0 138.3,228.2 138.4,228.6 138.5,223.3 138.6,226.3 138.7,223.7 138.8,226.5 138.9,228.3 139.0,224.0 139.1,229.8 139.2,225.7 139.3,223.9 139.4,225.7 139.5,227.4 139.6,223.1 139.7,225.7 139.8,223.1 139.9,227.8 140.0,225.9 140.1,224.6 140.2,227.3 140.3,222.8 140.4,224.5 140.5,228.8 140.6,224.7 140.7,227.7 140.8,225.3 140.9,223.6 141.0,224.5 141.1,225.0 141.2,224.0 141.3,222.9 141.4,222.9 141.5,221.3 141.6,224.3 141.7,224.7 141.8,225.1 141.9,220.2 142.0,225.0 142.1,223.3 142.2,220.2 142.3,222.8 142.4,224.1 142.5,223.0 142.6,223.0 142.7,223.1 142.8,222.6 142.9,220.4 143.0,216.2 143.1,218.7 143.2,220.6 143.3,218.8 143.4,220.8 143.5,220.6 143.6,218.9 143.7,222.1 143.8,216.4 143.9,219.9 144.0,216.9 144.1,216.0 144.2,218.2 144.3,215.5 144.4,218.0 144.5,213.8 144.6,216.1 144.7,213.9 144.8,214.8 144.9,214.2 145.0,212.4 145.1,215.5 145.2,211.6 145.3,212.0 145.4,215.1 145.5,215.2 145.6,214.2 145.7,213.2 145.8,216.7 145.9,209.6 146.0,210.1 146.1,209.4 146.2,212.9 146.3,211.6 146.4,212.8 146.5,212.4 146.6,210.1 146.7,209.1 146.8,208.7 146.9,214.6 147.0,212.1 147.1,211.0 147.2,209.1 147.3,209.1 147.4,208.6 147.5,208.7 147.6,204.8 147.7,209.2 147.8,208.6 147.9,209.9 148.0,209.8 148.1,211.0 148.2,209.5 148.3,211.3 148.4,205.2 148.5,208.3 148.6,213.6 148.7,208.1 148.8,210.2 148.9,212.3 149.0,209.5 149.1,212.8 149.2,208.9 149.3,208.2 149.4,209.5 149.5,209.1 149.6,212.5 149.7,212.3 149.8,213.8 149.9,211.5 150.0,218.5 150.1,213.7 150.2,214.0 150.3,215.3 150.4,214.2 150.5,213.8 150.6,215.4 150.7,217.1 150.8,216.8 150.9,217.8 151.0,215.3 151.1,215.2 151.2,221.0 151.3,216.9 151.4,218.7 151.5,219.5 151.6,221.2 151.7,216.5 151.8,218.4 151.9,218.7 152.0,219.4 152.1,215.7 152.2,220.4 152.3,215.3 152.4,221.6 152.5,222.1 152.6,222.4 152.7,219.3 152.8,223.5 152.9,220.3 153.0,219.7 153.1,220.4 153.2,221.0 153.3,223.1 153.4,224.5 153.5,219.1 153.6,222.1 153.7,225.1 153.8,223.8 153.9,224.6 154.0,221.1 154.1,225.9 154.2,221.2 154.3,224.8 154.4,227.3 154.5,228.6 154.6,226.2 154.7,227.0 154.8,224.3 154.9,224.7 155.0,227.7 155.1,225.5 155.2,225.3 155.3,223.2 155.4,226.3 155.5,227.5 155.6,224.9 155.7,225.2 155.8,229.2 155.9,226.6 156.0,225.4 156.1,223.9 156.2,225.0 156.3,225.7 156.4,228.9 156.5,225.3 156.6,230.0 156.7,225.0 156.8,226.2 156.9,228.5 157.0,226.6 157.1,225.6 157.2,227.0 157.3,228.0 157.4,224.1 157.5,226.8 157.6,227.4 157.7,227.0 157.8,229.4 157.9,227.0 158.0,227.4 158.1,228.4 158.2,229.8 158.3,228.0 158.4,231.4 158.5,226.7 158.6,230.9 158.7,226.9 158.8,228.3 158.9,229.2 159.0,232.6 159.1,230.6 159.2,228.1 159.3,231.3 159.4,228.4 159.5,227.2 159.6,229.4 159.7,229.0 159.8,230.5 159.9,227.6 160.0,229.6 160.1,230.1 160.2,229.3 160.3,228.7 160.4,227.4 160.5,230.4 160.6,228.9 160.7,229.5 160.8,227.9 160.9,228.5 161.0,226.6 161.1,228.6 161.2,230.0 161.3,228.8 161.4,230.3 161.5,229.4 161.6,231.4 161.7,228.1 161.8,225.3 161.9,229.4 162.0,228.2 162.1,226.7 162.2,229.9 162.3,229.2 162.4,229.6 162.5,228.2 162.6,229.2 162.7,229.4 162.8,232.5 162.9,228.1 163.0,229.3 163.1,229.9 163.2,225.9 163.3,226.1 163.4,233.1 163.5,225.7 163.6,230.1 163.7,227.4 163.8,227.7 163.9,225.6 164.0,227.7 164.1,230.9 164.2,226.9 164.3,230.6 164.4,230.0 164.5,233.3 164.6,228.6 164.7,231.8 164.8,230.9 164.9,228.6 165.0,225.8 165.1,232.1 165.2,226.5 165.3,228.3 165.4,230.8 165.5,231.4 165.6,227.5 165.7,229.1 165.8,228.6 165.9,231.2 166.0,233.6 166.1,225.3 166.2,230.4 166.3,223.1 166.4,228.5 166.5,226.2 166.6,232.1 166.7,228.6 166.8,227.0 166.9,227.3 167.0,227.2 167.1,228.6 167.2,227.9 167.3,229.4 167.4,231.3 167.5,229.8 167.6,226.1 167.7,225.3 167.8,227.1 167.9,230.4 168.0,227.8 168.1,227.2 168.2,228.8 168.3,226.1 168.4,226.7 168.5,229.8 168.6,228.4 168.7,228.1 168.8,229.9 168.9,228.5 169.0,228.6 169.1,228.9 169.2,230.8 169.3,229.7 169.4,227.3 169.5,228.8 169.6,230.7 169.7,233.2 169.8,227.3 169.9,230.1 170.0,229.0 170.1,231.1 170.2,230.5 170.3,232.6 170.4,230.9 170.5,228.9 170.6,229.0 170.7,230.7 170.8,230.7 170.9,234.1 171.0,232.8 171.1,227.3 171.2,230.1 171.3,226.9 171.4,226.2 171.5,230.6 171.6,230.2 171.7,226.9 171.8,231.8 171.9,226.7 172.0,226.3 172.1,229.7 172.2,228.7 172.3,227.7 172.4,227.8 172.5,228.3 172.6,227.4 172.7,227.4 172.8,223.9 172.9,224.7 173.0,228.0 173.1,225.5 173.2,227.9 173.3,229.3 173.4,226.3 173.5,227.5 173.6,230.9 173.7,228.2 173.8,230.4 173.9,229.7 174.0,228.3 174.1,226.5 174.2,225.1 174.3,224.4 174.4,227.3 174.5,227.2 174.6,225.8 174.7,227.6 174.8,224.8 174.9,228.2 175.0,226.1 175.1,226.0 175.2,226.1 175.3,226.0 175.4,230.7 175.5,223.0 175.6,226.4 175.7,228.5 175.8,227.5 175.9,225.5 176.0,229.2 176.1,224.0 176.2,223.7 176.3,227.3 176.4,223.5 176.5,221.8 176.6,227.9 176.7,227.5 176.8,227.5 176.9,225.1 177.0,226.4 177.1,224.2 177.2,229.2 177.3,227.4 177.4,227.0 177.5,221.8 177.6,226.6 177.7,227.6 177.8,227.1 177.9,226.3 178.0,224.8 178.1,224.1 178.2,225.8 178.3,225.3 178.4,224.9 178.5,223.9 178.6,227.7 178.7,222.3 178.8,224.4 178.9,223.3 179.0,226.2 179.1,227.1 179.2,226.3 179.3,225.1 179.4,221.1 179.5,227.7 179.6,224.6 179.7,223.4 179.8,223.5 179.9,222.8 180.0,224.3 180.1,223.8 180.2,222.3 180.3,218.3 180.4,222.8 180.5,223.5 180.6,223.5 180.7,222.0 180.8,223.1 180.9,224.1 181.0,221.3 181.1,224.8 181.2,218.1 181.3,219.3 181.4,219.9 181.5,216.8 181.6,219.7 181.7,223.9 181.8,223.9 181.9,221.6 182.0,224.6 182.1,221.7 182.2,220.0 182.3,221.2 182.4,220.8 182.5,222.3 182.6,217.9 182.7,222.5 182.8,219.6 182.9,222.1 183.0,217.4 183.1,219.2 183.2,220.3 183.3,221.9 183.4,217.6 183.5,222.9 183.6,220.6 183.7,218.8 183.8,222.1 183.9,219.8 184.0,221.6 184.1,223.7 184.2,220.6 184.3,217.7 184.4,217.9 184.5,219.8 184.6,219.0 184.7,216.9 184.8,217.1 184.9,219.4 185.0,222.5 185.1,213.1 185.2,219.6 185.3,217.8 185.4,219.8 185.5,220.1 185.6,218.6 185.7,216.5 185.8,215.8 185.9,215.0 186.0,220.8 186.1,217.9 186.2,217.3 186.3,218.0 186.4,215.7 186.5,218.8 186.6,220.4 186.7,220.2 186.8,215.1 186.9,220.4 187.0,216.5 187.1,214.2 187.2,215.4 187.3,216.0 187.4,217.7 187.5,215.5 187.6,214.5 187.7,216.5 187.8,220.9 187.9,215.6 188.0,217.7 188.1,216.9 188.2,221.8 188.3,213.3 188.4,218.7 188.5,214.4 188.6,215.7 188.7,216.4 188.8,222.4 188.9,214.8 189.0,212.5 189.1,218.3 189.2,213.9 189.3,215.0 189.4,215.4 189.5,215.3 189.6,214.5 189.7,215.3 189.8,215.2 189.9,215.6 190.0,212.8 190.1,212.0 190.2,211.0 190.3,213.9 190.4,212.3 190.5,213.2 190.6,213.1 190.7,214.8 190.8,211.5 190.9,212.2 191.0,208.2 191.1,208.1 191.2,209.2 191.3,207.1 191.4,210.4 191.5,206.3 191.6,208.7 191.7,203.6 191.8,205.5 191.9,206.6 192.0,206.6 192.1,203.4 192.2,206.5 192.3,207.6 192.4,206.8 192.5,203.7 192.6,203.5 192.7,202.0 192.8,205.1 192.9,206.2 193.0,201.9 193.1,199.2 193.2,202.4 193.3,202.7 193.4,195.7 193.5,200.7 193.6,204.1 193.7,200.9 193.8,199.9 193.9,199.3 194.0,200.2 194.1,196.0 194.2,195.7 194.3,197.4 194.4,194.8 194.5,196.1 194.6,191.3 194.7,195.8 194.8,195.4 194.9,193.2 195.0,192.6 195.1,194.6 195.2,189.0 195.3,188.4 195.4,187.2 195.5,187.8 195.6,185.9 195.7,187.0 195.8,184.8 195.9,182.4 196.0,181.2 196.1,185.7 196.2,182.4 196.3,181.1 196.4,180.4 196.5,179.2 196.6,179.5 196.7,177.8 196.8,174.6 196.9,172.8 197.0,171.3 197.1,169.8 197.2,173.4 197.3,167.7 197.4,164.0 197.5,164.9 197.6,163.6 197.7,164.4 197.8,160.8 197.9,162.0 198.0,160.2 198.1,160.5 198.2,160.9 198.3,160.7 198.4,156.4 198.5,150.0 198.6,150.0 198.7,149.6 198.8,151.8 198.9,147.8 199.0,147.4 199.1,143.6 199.2,143.6 199.3,142.7 199.4,139.4 199.5,140.5 199.6,139.8 199.7,136.5 199.8,137.7 199.9,138.0 200.0,134.1 200.1,132.8 200.2,131.5 200.3,130.4 200.4,131.1 200.5,129.6 200.6,129.5 200.7,128.5 200.8,126.6 200.9,127.8 201.0,130.2 201.1,127.4 201.2,128.6 201.3,133.3 201.4,132.8 201.5,129.8 201.6,132.6 201.7,130.8 201.8,135.6 201.9,132.3 202.0,134.5 202.1,138.0 202.2,134.7 202.3,139.8 202.4,137.0 202.5,140.4 202.6,140.6 202.7,142.5 202.8,144.1 202.9,145.0 203.0,144.8 203.1,149.8 203.2,151.1 203.3,153.5 203.4,155.1 203.5,151.3 203.6,157.7 203.7,159.1 203.8,157.2 203.9,161.6 204.0,164.0 204.1,161.6 204.2,161.3 204.3,164.6 204.4,172.1 204.5,168.5 204.6,167.0 204.7,170.0 204.8,170.1 204.9,172.4 205.0,174.6 205.1,170.8 205.2,177.6 205.3,180.9 205.4,179.1 205.5,179.8 205.6,183.8 205.7,180.6 205.8,181.7 205.9,182.6 206.0,185.7 206.1,187.6 206.2,187.7 206.3,190.1 206.4,191.4 206.5,191.7 206.6,189.9 206.7,191.8 206.8,195.6 206.9,192.0 207.0,194.2 207.1,194.6 207.2,195.7 207.3,194.9 207.4,195.1 207.5,203.2 207.6,200.8 207.7,198.3 207.8,200.2 207.9,202.1 208.0,200.6 208.1,203.1 208.2,201.4 208.3,202.4 208.4,203.6 208.5,203.8 208.6,200.4 208.7,205.6 208.8,206.7 208.9,207.5 209.0,205.2 209.1,208.1 209.2,208.3 209.3,204.7 209.4,204.4 209.5,210.1 209.6,207.9 209.7,212.0 209.8,214.7 209.9,209.9 210.0,210.2 210.1,212.0 210.2,213.7 210.3,210.6 210.4,215.7 210.5,215.6 210.6,215.4 210.7,213.4 210.8,216.6 210.9,216.7 211.0,212.9 211.1,219.4 211.2,215.3 211.3,216.7 211.4,215.3 211.5,217.5 211.6,219.5 211.7,216.2 211.8,215.0 211.9,217.6 212.0,216.4 212.1,217.6 212.2,219.2 212.3,219.4 212.4,222.3 212.5,218.0 212.6,220.9 212.7,219.6 212.8,223.4 212.9,225.9 213.0,221.9 213.1,224.9 213.2,220.8 213.3,219.2 213.4,219.8 213.5,219.3 213.6,220.6 213.7,222.2 213.8,224.9 213.9,224.2 214.0,223.9 214.1,222.2 214.2,221.8 214.3,223.3 214.4,223.5 214.5,224.1 214.6,224.1 214.7,223.4 214.8,220.2 214.9,221.8 215.0,222.7 215.1,227.8 215.2,223.8 215.3,226.1 215.4,227.7 215.5,225.5 215.6,224.0 215.7,224.1 215.8,222.8 215.9,225.3 216.0,227.0 216.1,226.3 216.2,226.9 216.3,226.9 216.4,229.4 216.5,224.4 216.6,226.0 216.7,227.3 216.8,228.5 216.9,221.5 217.0,225.2 217.1,226.0 217.2,224.7 217.3,228.5 217.4,227.6 217.5,226.6 217.6,224.5 217.7,225.0 217.8,225.9 217.9,228.8 218.0,225.8 218.1,224.4 218.2,225.7 218.3,227.4 218.4,231.8 218.5,233.3 218.6,227.9 218.7,230.7 218.8,231.5 218.9,231.4 219.0,228.8 219.1,226.6 219.2,228.3 219.3,225.8 219.4,230.0 219.5,231.2 219.6,226.2 219.7,229.8 219.8,230.5 219.9,232.5 220.0,232.8 220.1,231.8 220.2,228.9 220.3,229.7 220.4,232.7 220.5,229.3 220.6,230.6 220.7,233.6 220.8,230.8 220.9,228.3 221.0,230.5 221.1,232.1 221.2,230.5 221.3,233.1 221.4,233.3 221.5,229.7 221.6,229.8 221.7,230.6 221.8,228.6 221.9,231.6 222.0,230.6 222.1,232.6 222.2,230.0 222.3,229.6 222.4,234.9 222.5,230.0 222.6,230.7 222.7,230.7 222.8,231.7 222.9,230.7 223.0,232.7 223.1,231.3 223.2,231.9 223.3,233.5 223.4,234.2 223.5,233.8 223.6,231.6 223.7,233.9 223.8,232.9 223.9,232.8 224.0,229.6 224.1,234.1 224.2,232.7 224.3,236.1 224.4,234.3 224.5,231.1 224.6,230.6 224.7,235.7 224.8,232.0 224.9,234.7 225.0,233.0 225.1,237.7 225.2,234.0 225.3,236.7 225.4,236.6 225.5,233.3 225.6,233.8 225.7,237.5 225.8,234.8 225.9,233.3 226.0,237.1 226.1,239.5 226.2,234.9 226.3,237.6 226.4,234.4 226.5,237.4 226.6,234.4 226.7,237.4 226.8,236.0 226.9,234.6 227.0,235.2 227.1,233.8 227.2,232.9 227.3,233.0 227.4,235.0 227.5,233.0 227.6,236.0 227.7,235.9 227.8,236.0 227.9,234.4 228.0,235.7 228.1,235.8 228.2,238.5 228.3,234.3 228.4,235.1 228.5,235.4 228.6,235.7 228.7,234.4 228.8,234.7 228.9,238.1 229.0,234.9 229.1,237.9 229.2,240.0 229.3,238.5 229.4,232.5 229.5,237.4 229.6,236.7 229.7,236.8 229.8,232.5 229.9,236.9 230.0,233.5 230.1,238.2 230.2,237.5 230.3,240.5 230.4,235.0 230.5,232.9 230.6,237.7 230.7,237.5 230.8,235.1 230.9,238.4 231.0,237.1 231.1,233.5 231.2,235.0 231.3,234.9 231.4,235.5 231.5,236.1 231.6,234.4 231.7,235.5 231.8,237.0 231.9,235.7 232.0,235.2 232.1,234.8 232.2,235.3 232.3,232.0 232.4,235.7 232.5,233.4 232.6,235.6 232.7,232.5 232.8,236.8 232.9,235.5 233.0,232.4 233.1,235.4 233.2,233.5 233.3,238.4 233.4,236.1 233.5,233.4 233.6,235.3 233.7,234.9 233.8,237.4 233.9,236.0 234.0,236.3 234.1,233.4 234.2,237.2 234.3,239.5 234.4,236.6 234.5,235.1 234.6,235.6 234.7,233.4 234.8,235.4 234.9,233.2 235.0,235.4 235.1,234.4 235.2,233.6 235.3,236.2 235.4,232.2 235.5,234.9 235.6,232.5 235.7,238.7 235.8,238.8 235.9,236.4 236.0,238.4 236.1,236.0 236.2,235.9 236.3,233.9 236.4,233.3 236.5,235.3 236.6,234.0 236.7,234.2 236.8,236.4 236.9,234.7 237.0,232.0 237.1,234.5 237.2,233.4 237.3,234.4 237.4,232.7 237.5,237.3 237.6,238.9 237.7,233.0 237.8,236.4 237.9,235.9 238.0,232.7 238.1,234.8 238.2,237.2 238.3,236.1 238.4,237.7 238.5,232.5 238.6,233.2 238.7,235.1 238.8,235.3 238.9,234.5 239.0,233.7 239.1,233.8 239.2,233.3 239.3,235.3 239.4,229.3 239.5,237.6 239.6,233.6 239.7,231.8 239.8,235.7 239.9,232.2 240.0,235.5 240.1,234.1 240.2,235.9 240.3,236.5 240.4,237.5 240.5,234.0 240.6,234.4 240.7,235.0 240.8,232.3 240.9,236.3 241.0,235.5 241.1,232.7 241.2,237.6 241.3,237.8 241.4,232.6 241.5,236.2 241.6,237.4 241.7,236.5 241.8,233.0 241.9,232.3 242.0,234.7 242.1,234.1 242.2,235.1 242.3,234.9 242.4,236.3 242.5,234.0 242.6,234.8 242.7,240.8 242.8,234.9 242.9,236.7 243.0,235.7 243.1,235.7 243.2,233.7 243.3,236.6 243.4,235.3 243.5,237.0 243.6,239.4 243.7,235.9 243.8,237.0 243.9,233.5 244.0,235.7 244.1,238.4 244.2,235.2 244.3,233.9 244.4,235.3 244.5,234.7 244.6,234.3 244.7,233.8 244.8,238.5 244.9,232.9 245.0,233.7 245.1,233.3 245.2,236.8 245.3,234.0 245.4,237.2 245.5,235.1 245.6,234.7 245.7,232.2 245.8,237.2 245.9,236.1 246.0,235.8 246.1,234.7 246.2,234.1 246.3,232.3 246.4,236.3 246.5,235.1 246.6,233.7 246.7,233.1 246.8,234.9 246.9,234.5 247.0,237.9 247.1,236.0 247.2,233.1 247.3,232.0 247.4,233.8 247.5,232.5 247.6,234.4 247.7,235.0 247.8,235.5 247.9,235.1 248.0,233.9 248.1,235.5 248.2,232.7 248.3,234.3 248.4,236.1 248.5,235.0 248.6,232.2 248.7,232.6 248.8,231.6 248.9,238.1 249.0,231.8 249.1,234.7 249.2,238.3 249.3,236.7 249.4,237.0 249.5,233.6 249.6,235.8 249.7,240.2 249.8,234.3 249.9,235.1 250.0,233.5 250.1,234.1 250.2,234.7 250.3,236.7 250.4,232.4 250.5,231.4 250.6,234.3 250.7,234.6 250.8,236.8 250.9,235.4 251.0,232.6 251.1,235.1 251.2,236.1 251.3,234.4 251.4,233.2 251.5,235.3 251.6,233.0 251.7,230.0 251.8,235.9 251.9,230.9 252.0,233.0 252.1,232.9 252.2,232.8 252.3,232.9 252.4,230.7 252.5,234.5 252.6,233.3 252.7,233.4 252.8,235.3 252.9,235.5 253.0,236.0 253.1,236.6 253.2,233.9 253.3,230.1 253.4,233.5 253.5,233.1 253.6,233.1 253.7,231.8 253.8,231.3 253.9,234.4 254.0,234.8 254.1,230.8 254.2,234.0 254.3,232.6 254.4,232.0 254.5,234.1 254.6,232.6 254.7,231.7 254.8,232.7 254.9,228.9 255.0,231.6 255.1,231.7 255.2,230.0 255.3,233.2 255.4,233.3 255.5,231.6 255.6,232.5 255.7,234.3 255.8,234.9 255.9,231.5 256.0,233.1 256.1,234.4 256.2,232.4 256.3,230.9 256.4,230.9 256.5,231.7 256.6,230.4 256.7,236.1 256.8,231.0 256.9,232.6 257.0,232.1 257.1,233.1 257.2,231.2 257.3,229.4 257.4,235.0 257.5,231.5 257.6,231.9 257.7,232.0 257.8,234.0 257.9,233.2 258.0,233.9 258.1,233.2 258.2,232.0 258.3,232.1 258.4,230.2 258.5,227.9 258.6,231.5 258.7,229.7 258.8,236.5 258.9,234.4 259.0,233.7 259.1,230.4 259.2,235.2 259.3,228.0 259.4,228.9 259.5,229.7 259.6,229.1 259.7,231.0 259.8,231.1 259.9,234.2 260.0,232.7 260.1,233.2 260.2,231.8 260.3,230.7 260.4,229.7 260.5,228.2 260.6,229.2 260.7,230.1 260.8,232.3 260.9,227.6 261.0,228.1 261.1,231.1 261.2,228.5 261.3,231.0 261.4,229.6 261.5,228.9 261.6,227.6 261.7,229.9 261.8,228.7 261.9,228.8 262.0,228.7 262.1,230.4 262.2,230.3 262.3,227.0 262.4,230.0 262.5,231.1 262.6,231.9 262.7,231.6 262.8,230.7 262.9,228.0 263.0,228.7 263.1,231.8 263.2,228.9 263.3,232.1 263.4,232.6 263.5,228.1 263.6,231.0 263.7,230.0 263.8,234.3 263.9,231.9 264.0,229.4 264.1,231.0 264.2,228.2 264.3,229.6 264.4,230.4 264.5,230.4 264.6,230.7 264.7,228.5 264.8,226.7 264.9,229.4 265.0,228.5 265.1,228.9 265.2,234.3 265.3,232.4 265.4,229.8 265.5,227.5 265.6,227.7 265.7,230.7 265.8,232.0 265.9,229.4 266.0,230.0 266.1,230.4 266.2,231.9 266.3,225.9 266.4,229.9 266.5,230.4 266.6,231.4 266.7,230.4 266.8,227.4 266.9,228.3 267.0,226.5 267.1,229.9 267.2,229.9 267.3,230.5 267.4,227.8 267.5,227.3 267.6,232.4 267.7,229.9 267.8,232.6 267.9,230.1 268.0,226.3 268.1,230.5 268.2,231.5 268.3,228.2 268.4,225.1 268.5,229.9 268.6,228.4 268.7,229.1 268.8,223.3 268.9,229.4 269.0,223.2 269.1,226.8 269.2,230.1 269.3,225.0 269.4,224.8 269.5,227.5 269.6,231.5 269.7,231.4 269.8,227.2 269.9,230.1 270.0,229.4 270.1,228.6 270.2,228.5 270.3,226.2 270.4,229.0 270.5,229.4 270.6,232.5 270.7,228.8 270.8,222.2 270.9,224.6 271.0,227.4 271.1,226.7 271.2,222.6 271.3,225.6 271.4,224.7 271.5,225.1 271.6,224.8 271.7,226.7 271.8,227.6 271.9,225.8 272.0,222.6 272.1,222.9 272.2,223.0 272.3,224.2 272.4,223.5 272.5,223.4 272.6,222.2 272.7,225.5 272.8,225.1 272.9,224.9 273.0,222.9 273.1,223.7 273.2,220.9 273.3,220.6 273.4,221.3 273.5,223.0 273.6,221.6 273.7,219.4 273.8,221.6 273.9,222.1 274.0,221.5 274.1,219.7 274.2,221.1 274.3,220.2 274.4,220.2 274.5,220.7 274.6,222.1 274.7,223.9 274.8,223.4 274.9,221.4 275.0,219.4 275.1,219.4 275.2,219.6 275.3,222.5 275.4,215.2 275.5,220.9 275.6,216.4 275.7,220.0 275.8,222.7 275.9,218.6 276.0,215.8 276.1,222.8 276.2,223.4 276.3,221.3 276.4,222.6 276.5,218.6 276.6,222.6 276.7,223.8 276.8,222.1 276.9,221.8 277.0,223.6 277.1,223.5 277.2,220.4 277.3,224.5 277.4,223.6 277.5,222.9 277.6,225.3 277.7,224.8 277.8,224.6 277.9,222.5 278.0,225.3 278.1,221.8 278.2,223.8 278.3,221.1 278.4,221.2 278.5,225.4 278.6,224.6 278.7,225.2 278.8,226.5 278.9,226.3 279.0,224.2 279.1,226.5 279.2,226.4 279.3,225.6 279.4,226.5 279.5,226.5 279.6,226.3 279.7,227.2 279.8,228.5 279.9,232.2 280.0,227.0 280.1,229.6 280.2,225.9 280.3,232.2 280.4,228.9 280.5,230.1 280.6,232.3 280.7,232.1 280.8,227.6 280.9,231.5 281.0,230.3 281.1,232.0 281.2,231.2 281.3,232.7 281.4,231.9 281.5,231.2 281.6,233.6 281.7,228.6 281.8,231.0 281.9,230.2 282.0,231.9 282.1,231.4 282.2,232.0 282.3,231.6 282.4,231.8 282.5,229.7 282.6,233.1 282.7,234.0 282.8,232.1 282.9,232.1 283.0,232.2 283.1,236.6 283.2,233.9 283.3,234.3 283.4,233.3 283.5,232.9 283.6,232.3 283.7,236.9 283.8,230.6 283.9,234.5 284.0,234.1 284.1,233.8 284.2,231.6 284.3,232.2 284.4,236.4 284.5,233.2 284.6,236.2 284.7,235.8 284.8,235.6 284.9,236.0 285.0,232.4 285.1,233.9 285.2,236.1 285.3,232.3 285.4,238.1 285.5,233.9 285.6,235.0 285.7,233.2 285.8,235.6 285.9,233.5 286.0,234.3 286.1,232.8 286.2,237.3 286.3,231.8 286.4,235.8 286.5,235.3 286.6,235.9 286.7,233.1 286.8,237.1 286.9,237.0 287.0,235.4 287.1,235.7 287.2,234.8 287.3,236.5 287.4,233.6 287.5,236.3 287.6,236.0 287.7,232.7 287.8,230.6 287.9,235.2 288.0,235.1 288.1,237.7 288.2,235.5 288.3,234.3 288.4,232.7 288.5,235.2 288.6,234.5 288.7,233.8 288.8,235.5 288.9,237.8 289.0,235.9 289.1,233.7 289.2,236.3 289.3,233.5 289.4,232.4 289.5,236.4 289.6,234.5 289.7,237.9 289.8,236.5 289.9,234.3 290.0,236.4 290.1,238.4 290.2,235.5 290.3,234.0 290.4,234.6 290.5,234.4 290.6,233.5 290.7,233.2 290.8,236.5 290.9,237.7 291.0,235.0 291.1,237.5 291.2,237.7 291.3,239.4 291.4,235.9 291.5,235.3 291.6,236.9 291.7,236.2 291.8,236.7 291.9,238.7 292.0,235.4 292.1,236.5 292.2,234.1 292.3,235.8 292.4,234.7 292.5,234.6 292.6,235.6 292.7,234.8 292.8,236.3 292.9,237.3 293.0,233.0 293.1,237.7 293.2,231.5 293.3,236.3 293.4,237.2 293.5,234.7 293.6,235.5 293.7,234.4 293.8,237.5 293.9,230.0 294.0,234.1 294.1,232.3 294.2,236.4 294.3,238.6 294.4,238.7 294.5,237.6 294.6,236.9 294.7,234.9 294.8,238.7 294.9,237.7 295.0,234.8 295.1,234.0 295.2,235.2 295.3,238.3 295.4,238.6 295.5,239.4 295.6,234.7 295.7,235.6 295.8,238.8 295.9,236.8 296.0,237.7 296.1,233.8 296.2,235.7 296.3,236.4 296.4,235.7 296.5,235.4 296.6,232.8 296.7,239.1 296.8,236.5 296.9,233.4 297.0,238.1 297.1,236.4 297.2,237.5 297.3,235.6 297.4,234.6 297.5,234.5 297.6,236.7 297.7,237.5 297.8,237.1 297.9,237.3 298.0,238.4 298.1,236.6 298.2,238.0 298.3,238.3 298.4,236.7 298.5,236.1 298.6,235.6 298.7,234.2 298.8,233.6 298.9,239.1 299.0,236.8 299.1,235.7 299.2,239.8 299.3,238.9 299.4,237.2 299.5,239.0 299.6,237.0 299.7,237.8 299.8,240.7 299.9,239.2 300.0,236.9 300.1,238.7 300.2,239.7 300.3,237.3 300.4,237.0 300.5,241.4 300.6,237.1 300.7,235.3 300.8,238.0 300.9,242.1 301.0,239.0 301.1,239.5 301.2,233.7 301.3,236.8 301.4,240.1 301.5,237.2 301.6,240.4 301.7,238.6 301.8,238.4 301.9,240.7 302.0,236.7 302.1,236.7 302.2,237.9 302.3,238.1 302.4,234.5 302.5,240.0 302.6,237.9 302.7,237.3 302.8,238.8 302.9,236.7 303.0,239.8 303.1,237.8 303.2,238.9 303.3,235.8 303.4,237.0 303.5,238.3 303.6,235.8 303.7,236.5 303.8,237.5 303.9,239.8 304.0,238.9 304.1,239.4 304.2,238.1 304.3,239.3 304.4,240.5 304.5,238.1 304.6,239.1 304.7,239.4 304.8,234.5 304.9,238.0 305.0,239.0 305.1,239.7 305.2,237.7 305.3,240.4 305.4,237.4 305.5,238.3 305.6,241.7 305.7,236.0 305.8,238.5 305.9,238.3 306.0,238.4 306.1,237.5 306.2,239.6 306.3,236.2 306.4,235.5 306.5,238.9 306.6,235.5 306.7,238.4 306.8,237.8 306.9,236.5 307.0,237.1 307.1,237.6 307.2,238.8 307.3,236.6 307.4,237.4 307.5,235.2 307.6,237.4 307.7,234.5 307.8,238.2 307.9,237.2 308.0,242.0 308.1,240.4 308.2,237.7 308.3,239.6 308.4,238.2 308.5,235.5 308.6,232.8 308.7,239.5 308.8,238.0 308.9,233.5 309.0,238.6 309.1,239.1 309.2,235.9 309.3,238.4 309.4,233.7 309.5,236.4 309.6,236.9 309.7,238.2 309.8,237.5 309.9,237.5 310.0,237.9 310.1,235.9 310.2,239.9 310.3,236.3 310.4,238.7 310.5,237.2 310.6,237.0 310.7,238.7 310.8,238.5 310.9,240.3 311.0,239.6 311.1,236.2 311.2,238.2 311.3,237.5 311.4,235.8 311.5,235.2 311.6,237.8 311.7,236.0 311.8,234.4 311.9,237.0 312.0,237.6 312.1,237.4 312.2,235.0 312.3,236.2 312.4,239.7 312.5,235.7 312.6,236.5 312.7,241.4 312.8,237.6 312.9,236.1 313.0,233.3 313.1,237.6 313.2,234.5 313.3,237.2 313.4,235.6 313.5,234.1 313.6,240.5 313.7,237.4 313.8,239.3 313.9,238.9 314.0,236.4 314.1,237.9 314.2,237.2 314.3,239.8 314.4,238.7 314.5,237.3 314.6,241.2 314.7,238.8 314.8,238.5 314.9,236.0 315.0,238.4 315.1,235.1 315.2,238.8 315.3,236.0 315.4,238.1 315.5,237.3 315.6,238.2 315.7,238.7 315.8,237.8 315.9,237.9 316.0,235.0 316.1,234.3 316.2,240.2 316.3,239.1 316.4,235.3 316.5,241.5 316.6,236.7 316.7,238.9 316.8,238.7 316.9,238.1 317.0,239.1 317.1,235.6 317.2,238.2 317.3,237.7 317.4,238.4 317.5,237.6 317.6,236.9 317.7,236.5 317.8,239.6 317.9,236.3 318.0,238.5 318.1,238.6 318.2,237.6 318.3,238.4 318.4,238.8 318.5,236.6 318.6,238.2 318.7,241.4 318.8,235.6 318.9,237.2 319.0,236.1 319.1,241.3 319.2,234.8 319.3,237.6 319.4,239.3 319.5,235.8 319.6,237.1 319.7,235.9 319.8,234.7 319.9,237.0 320.0,238.2 320.1,236.4 320.2,237.6 320.3,238.4 320.4,239.4 320.5,235.0 320.6,238.6 320.7,236.4 320.8,234.2 320.9,236.4 321.0,239.0 321.1,238.1 321.2,235.4 321.3,240.7 321.4,238.5 321.5,237.6 321.6,236.8 321.7,238.8 321.8,237.2 321.9,240.0 322.0,238.4 322.1,238.9 322.2,237.1 322.3,235.0 322.4,238.8 322.5,236.1 322.6,237.9 322.7,237.8 322.8,236.4 322.9,239.6 323.0,235.3 323.1,240.7 323.2,236.8 323.3,239.7 323.4,240.2 323.5,236.0 323.6,236.4 323.7,239.4 323.8,238.2 323.9,238.2 324.0,234.5 324.1,234.9 324.2,239.1 324.3,240.8 324.4,236.7 324.5,236.5 324.6,238.2 324.7,238.5 324.8,238.9 324.9,237.0 325.0,234.1 325.1,240.6 325.2,236.8 325.3,239.9 325.4,233.7 325.5,238.3 325.6,236.4 325.7,235.2 325.8,239.0 325.9,239.6 326.0,235.9 326.1,238.3 326.2,235.2 326.3,236.1 326.4,236.7 326.5,236.5 326.6,238.2 326.7,235.0 326.8,239.1 326.9,238.9 327.0,236.7 327.1,234.9 327.2,232.4 327.3,236.9 327.4,235.7 327.5,237.4 327.6,235.1 327.7,237.3 327.8,237.1 327.9,237.0 328.0,237.5 328.1,237.6 328.2,238.7 328.3,235.5 328.4,238.6 328.5,237.4 328.6,236.3 328.7,235.2 328.8,239.9 328.9,237.5 329.0,235.9 329.1,237.0 329.2,237.1 329.3,236.4 329.4,234.7 329.5,237.6 329.6,237.0 329.7,236.6 329.8,239.1 329.9,234.9 330.0,235.6 330.1,237.4 330.2,238.8 330.3,238.2 330.4,238.5 330.5,232.7 330.6,237.6 330.7,237.4 330.8,238.0 330.9,235.4 331.0,237.8 331.1,238.8 331.2,240.2 331.3,237.6 331.4,234.5 331.5,237.1 331.6,238.1 331.7,237.8 331.8,240.3 331.9,236.5 332.0,235.0 332.1,235.6 332.2,238.1 332.3,235.6 332.4,235.0 332.5,235.3 332.6,239.2 332.7,237.7 332.8,236.2 332.9,238.2 333.0,237.9 333.1,234.6 333.2,237.8 333.3,236.5 333.4,232.1 333.5,233.8 333.6,236.8 333.7,237.4 333.8,235.8 333.9,234.3 334.0,236.5 334.1,232.7 334.2,237.0 334.3,235.9 334.4,235.8 334.5,234.7 334.6,237.7 334.7,231.8 334.8,234.5 334.9,237.2 335.0,234.4 335.1,238.6 335.2,236.5 335.3,234.3 335.4,238.0 335.5,235.6 335.6,237.0 335.7,234.7 335.8,234.7 335.9,237.0 336.0,236.1 336.1,234.4 336.2,234.1 336.3,236.6 336.4,238.7 336.5,233.7 336.6,236.6 336.7,229.7 336.8,232.8 336.9,236.7 337.0,238.6 337.1,235.9 337.2,236.8 337.3,236.2 337.4,237.7 337.5,233.8 337.6,237.1 337.7,235.1 337.8,235.3 337.9,236.0 338.0,235.7 338.1,234.8 338.2,235.7 338.3,234.3 338.4,239.1 338.5,237.8 338.6,235.7 338.7,239.4 338.8,238.7 338.9,237.3 339.0,235.5 339.1,236.8 339.2,237.3 339.3,238.8 339.4,235.7 339.5,234.9 339.6,240.3 339.7,238.6 339.8,236.7 339.9,234.5 340.0,237.1 340.1,238.4 340.2,237.6 340.3,238.1 340.4,236.7 340.5,238.7 340.6,235.3 340.7,235.7 340.8,235.6 340.9,235.3 341.0,240.1 341.1,233.2 341.2,237.1 341.3,235.0 341.4,234.6 341.5,236.8 341.6,233.5 341.7,236.3 341.8,241.0 341.9,236.5 342.0,237.6 342.1,235.1 342.2,237.6 342.3,233.9 342.4,237.2 342.5,236.5 342.6,240.8 342.7,236.7 342.8,236.2 342.9,235.8 343.0,234.5 343.1,238.4 343.2,239.9 343.3,236.4 343.4,238.5 343.5,236.7 343.6,238.3 343.7,238.3 343.8,234.5 343.9,235.6 344.0,238.8 344.1,233.1 344.2,237.0 344.3,236.2 344.4,235.2 344.5,237.1 344.6,237.7 344.7,237.9 344.8,231.7 344.9,240.1 345.0,236.1 345.1,238.9 345.2,236.4 345.3,235.3 345.4,236.2 345.5,242.4 345.6,239.4 345.7,235.7 345.8,236.5 345.9,238.2 346.0,237.2 346.1,236.1 346.2,235.5 346.3,233.8 346.4,237.0 346.5,237.7 346.6,239.9 346.7,234.5 346.8,236.8 346.9,235.6 347.0,237.9 347.1,235.3 347.2,234.3 347.3,232.3 347.4,236.9 347.5,235.6 347.6,237.3 347.7,234.1 347.8,240.2 347.9,233.9 348.0,236.2 348.1,236.2 348.2,237.5 348.3,235.0 348.4,233.5 348.5,233.2 348.6,236.7 348.7,235.5 348.8,236.1 348.9,233.7 349.0,235.7 349.1,235.7 349.2,236.6 349.3,232.5 349.4,233.9 349.5,238.6 349.6,234.5 349.7,235.2 349.8,234.6 349.9,232.5 350.0,233.2 350.1,235.9 350.2,233.9 350.3,239.1 350.4,232.4 350.5,231.3 350.6,234.1 350.7,232.7 350.8,237.8 350.9,234.2 351.0,236.1 351.1,232.3 351.2,235.9 351.3,235.8 351.4,236.9 351.5,234.9 351.6,235.5 351.7,234.8 351.8,236.2 351.9,233.9 352.0,235.7 352.1,233.7 352.2,236.2 352.3,234.2 352.4,233.4 352.5,233.2 352.6,237.0 352.7,231.4 352.8,231.4 352.9,235.3 353.0,232.2 353.1,233.2 353.2,233.2 353.3,238.7 353.4,232.8 353.5,232.8 353.6,233.5 353.7,234.8 353.8,235.2 353.9,231.4 354.0,235.1 354.1,238.1 354.2,231.1 354.3,235.4 354.4,235.8 354.5,234.8 354.6,234.0 354.7,229.8 354.8,236.5 354.9,233.6 355.0,233.8 355.1,236.4 355.2,229.8 355.3,234.2 355.4,235.4 355.5,235.9 355.6,235.5 355.7,238.4 355.8,235.0 355.9,236.2 356.0,235.6 356.1,231.3 356.2,232.5 356.3,237.8 356.4,233.5 356.5,233.9 356.6,231.7 356.7,233.3 356.8,231.7 356.9,233.1 357.0,235.3 357.1,232.6 357.2,233.1 357.3,236.5 357.4,234.7 357.5,234.7 357.6,235.4 357.7,232.5 357.8,232.7 357.9,229.7 358.0,234.8 358.1,233.1 358.2,233.4 358.3,231.4 358.4,234.7 358.5,234.7 358.6,233.9 358.7,230.6 358.8,231.8 358.9,233.4 359.0,231.8 359.1,234.3 359.2,235.5 359.3,231.9 359.4,232.8 359.5,231.8 359.6,235.0 359.7,234.7 359.8,238.0 359.9,232.9 360.0,231.2 360.1,233.6 360.2,232.5 360.3,233.5 360.4,235.6 360.5,232.5 360.6,234.3 360.7,229.0 360.8,235.1 360.9,233.2 361.0,232.1 361.1,231.6 361.2,235.2 361.3,231.7 361.4,235.3 361.5,231.9 361.6,233.2 361.7,233.6 361.8,236.8 361.9,233.5 362.0,233.4 362.1,233.1 362.2,232.8 362.3,232.1 362.4,236.7 362.5,236.0 362.6,231.8 362.7,233.5 362.8,231.0 362.9,235.2 363.0,234.8 363.1,233.7 363.2,232.0 363.3,235.3 363.4,235.2 363.5,233.6 363.6,235.5 363.7,231.4 363.8,232.9 363.9,232.2 364.0,234.1 364.1,237.2 364.2,234.1 364.3,236.0 364.4,233.8 364.5,233.4 364.6,236.2 364.7,235.2 364.8,236.8 364.9,235.9 365.0,232.8 365.1,229.6 365.2,234.5 365.3,231.8 365.4,231.2 365.5,231.1 365.6,232.5 365.7,233.4 365.8,233.7 365.9,237.6 366.0,231.5 366.1,233.4 366.2,231.0 366.3,231.4 366.4,233.5 366.5,234.1 366.6,230.9 366.7,235.4 366.8,231.4 366.9,234.8 367.0,232.9 367.1,234.7 367.2,233.9 367.3,232.1 367.4,233.7 367.5,230.2 367.6,230.1 367.7,232.0 367.8,235.1 367.9,231.2 368.0,231.6 368.1,235.9 368.2,232.6 368.3,232.5 368.4,230.6 368.5,232.6 368.6,233.6 368.7,232.4 368.8,234.0 368.9,233.3 369.0,234.6 369.1,234.1 369.2,232.4 369.3,234.5 369.4,236.4 369.5,233.5 369.6,230.7 369.7,233.6 369.8,232.8 369.9,238.1 370.0,234.4 370.1,231.1 370.2,232.7 370.3,235.9 370.4,230.8 370.5,232.2 370.6,233.1 370.7,232.8 370.8,232.1 370.9,233.5 371.0,230.5 371.1,232.1 371.2,232.0 371.3,232.7 371.4,232.6 371.5,233.2 371.6,232.7 371.7,232.6 371.8,234.1 371.9,235.1 372.0,235.1 372.1,231.0 372.2,233.8 372.3,234.9 372.4,232.8 372.5,234.1 372.6,232.7 372.7,233.9 372.8,230.3 372.9,234.1 373.0,232.3 373.1,231.7 373.2,232.5 373.3,235.0 373.4,234.8 373.5,233.6 373.6,234.6 373.7,232.0 373.8,230.3 373.9,229.0 374.0,232.7 374.1,232.3 374.2,232.8 374.3,233.0 374.4,235.2 374.5,231.1 374.6,231.4 374.7,236.5 374.8,234.2 374.9,232.3 375.0,229.1 375.1,231.4 375.2,232.4 375.3,232.9 375.4,233.5 375.5,232.6 375.6,235.1 375.7,230.7 375.8,232.2 375.9,231.3 376.0,234.0 376.1,232.9 376.2,234.0 376.3,232.5 376.4,239.3 376.5,233.6 376.6,231.0 376.7,232.2 376.8,231.5 376.9,233.5 377.0,233.9 377.1,232.9 377.2,231.6 377.3,230.5 377.4,234.9 377.5,233.9 377.6,226.0 377.7,231.7 377.8,230.2 377.9,231.1 378.0,234.9 378.1,229.4 378.2,229.4 378.3,235.6 378.4,230.0 378.5,230.2 378.6,232.6 378.7,229.3 378.8,230.0 378.9,230.1 379.0,232.0 379.1,225.9 379.2,227.3 379.3,228.3 379.4,229.9 379.5,226.6 379.6,228.3 379.7,226.1 379.8,226.0 379.9,228.9 380.0,225.6 380.1,231.2 380.2,225.8 380.3,226.9 380.4,225.9 380.5,221.3 380.6,220.7 380.7,224.2 380.8,220.7 380.9,221.5 381.0,221.6 381.1,220.3 381.2,224.3 381.3,223.7 381.4,222.5 381.5,223.2 381.6,220.7 381.7,224.0 381.8,220.8 381.9,225.8 382.0,221.7 382.1,222.1 382.2,225.7 382.3,225.4 382.4,222.6 382.5,226.0 382.6,225.4 382.7,225.7 382.8,227.3 382.9,227.7 383.0,229.0 383.1,228.3 383.2,228.3 383.3,227.7 383.4,231.1 383.5,227.1 383.6,232.6 383.7,233.4 383.8,233.7 383.9,229.6 384.0,234.1 384.1,232.5 384.2,232.6 384.3,237.2 384.4,231.6 384.5,232.2 384.6,228.8 384.7,227.0 384.8,232.0 384.9,232.3 385.0,233.0 385.1,232.4 385.2,228.0 385.3,232.4 385.4,233.9 385.5,234.9 385.6,230.1 385.7,230.3 385.8,230.7 385.9,230.7 386.0,229.0 386.1,230.9 386.2,235.4 386.3,230.2 386.4,228.8 386.5,231.9 386.6,231.5 386.7,233.9 386.8,231.4 386.9,232.3 387.0,231.0 387.1,231.0 387.2,233.6 387.3,233.1 387.4,232.8 387.5,233.9 387.6,231.5 387.7,233.0 387.8,233.4 387.9,235.3 388.0,229.4 388.1,232.3 388.2,233.8 388.3,231.4 388.4,232.5 388.5,233.7 388.6,233.4 388.7,229.2 388.8,230.0 388.9,227.0 389.0,233.4 389.1,232.6 389.2,234.6 389.3,232.1 389.4,229.6 389.5,233.7 389.6,229.2 389.7,231.7 389.8,231.2 389.9,233.2 390.0,233.4 390.1,230.8 390.2,230.2 390.3,231.4 390.4,230.4 390.5,233.3 390.6,232.2 390.7,234.0 390.8,236.1 390.9,229.3 391.0,229.8 391.1,231.5 391.2,231.4 391.3,229.8 391.4,227.1 391.5,235.4 391.6,230.6 391.7,228.2 391.8,225.9 391.9,233.2 392.0,231.2 392.1,230.5 392.2,228.7 392.3,230.6 392.4,230.0 392.5,225.7 392.6,235.5 392.7,231.3 392.8,229.8 392.9,228.4 393.0,229.1 393.1,234.8 393.2,231.0 393.3,227.6 393.4,232.0 393.5,231.1 393.6,231.1 393.7,230.0 393.8,229.8 393.9,230.3 394.0,229.4 394.1,227.2 394.2,227.9 394.3,229.8 394.4,226.6 394.5,229.4 394.6,228.9 394.7,231.0 394.8,229.9 394.9,229.0 395.0,229.0 395.1,230.4 395.2,231.3 395.3,227.4 395.4,226.3 395.5,227.8 395.6,224.7 395.7,227.4 395.8,230.3 395.9,230.6 396.0,231.4 396.1,228.5 396.2,228.5 396.3,227.0 396.4,227.1 396.5,228.6 396.6,229.7 396.7,228.5 396.8,223.7 396.9,228.6 397.0,227.5 397.1,226.5 397.2,227.8 397.3,229.4 397.4,227.8 397.5,226.1 397.6,233.8 397.7,226.0 397.8,228.0 397.9,229.7 398.0,225.5 398.1,228.0 398.2,225.0 398.3,226.0 398.4,225.0 398.5,229.6 398.6,223.8 398.7,227.2 398.8,226.1 398.9,222.2 399.0,229.4 399.1,224.9 399.2,225.4 399.3,226.2 399.4,224.2 399.5,224.3 399.6,225.7 399.7,224.1 399.8,226.2 399.9,228.4 400.0,224.2 400.1,223.0 400.2,225.6 400.3,226.5 400.4,226.7 400.5,223.3 400.6,221.0 400.7,227.3 400.8,226.8 400.9,228.2 401.0,223.5 401.1,226.0 401.2,226.7 401.3,221.0 401.4,226.3 401.5,226.9 401.6,225.1 401.7,224.9 401.8,225.1 401.9,223.0 402.0,220.6 402.1,221.6 402.2,223.3 402.3,222.0 402.4,225.7 402.5,222.8 402.6,223.1 402.7,220.0 402.8,224.3 402.9,222.0 403.0,226.0 403.1,219.8 403.2,223.7 403.3,222.2 403.4,222.1 403.5,225.9 403.6,224.4 403.7,220.7 403.8,224.6 403.9,220.4 404.0,222.9 404.1,217.8 404.2,220.5 404.3,220.4 404.4,220.5 404.5,217.9 404.6,217.2 404.7,220.5 404.8,221.6 404.9,220.3 405.0,219.5 405.1,217.3 405.2,219.7 405.3,219.1 405.4,218.8 405.5,220.4 405.6,220.3 405.7,220.6 405.8,219.3 405.9,217.6 406.0,218.8 406.1,218.5 406.2,215.4 406.3,217.7 406.4,214.9 406.5,214.0 406.6,216.0 406.7,215.8 406.8,218.2 406.9,216.0 407.0,217.3 407.1,218.6 407.2,215.9 407.3,216.2 407.4,213.9 407.5,216.6 407.6,214.6 407.7,214.3 407.8,211.9 407.9,212.1 408.0,212.3 408.1,213.6 408.2,215.3 408.3,210.1 408.4,211.8 408.5,211.8 408.6,216.3 408.7,211.4 408.8,210.7 408.9,212.8 409.0,209.0 409.1,212.0 409.2,207.4 409.3,214.3 409.4,210.0 409.5,209.2 409.6,207.2 409.7,209.2 409.8,209.2 409.9,207.8 410.0,211.3 410.1,208.2 410.2,209.1 410.3,209.2 410.4,211.1 410.5,207.9 410.6,208.7 410.7,209.1 410.8,209.6 410.9,205.1 411.0,210.8 411.1,208.4 411.2,207.3 411.3,208.6 411.4,205.1 411.5,207.3 411.6,209.4 411.7,211.6 411.8,208.7 411.9,209.7 412.0,208.9 412.1,211.2 412.2,209.1 412.3,211.0 412.4,209.7 412.5,208.6 412.6,208.7 412.7,209.5 412.8,213.1 412.9,217.0 413.0,210.9 413.1,210.0 413.2,212.6 413.3,212.7 413.4,210.9 413.5,215.5 413.6,214.0 413.7,214.4 413.8,213.1 413.9,213.7 414.0,215.6 414.1,211.5 414.2,212.8 414.3,214.8 414.4,212.1 414.5,218.2 414.6,214.2 414.7,214.9 414.8,216.6 414.9,219.2 415.0,216.5 415.1,215.3 415.2,215.2 415.3,217.7 415.4,216.4 415.5,222.3 415.6,220.6 415.7,212.7 415.8,217.2 415.9,219.8 416.0,223.6 416.1,215.7 416.2,218.7 416.3,221.9 416.4,218.5 416.5,220.3 416.6,219.4 416.7,221.9 416.8,218.6 416.9,221.1 417.0,218.5 417.1,223.3 417.2,222.7 417.3,221.6 417.4,222.1 417.5,222.4 417.6,221.6 417.7,222.7 417.8,223.2 417.9,222.2 418.0,221.2 418.1,221.8 418.2,221.9 418.3,223.8 418.4,223.3 418.5,226.8 418.6,222.7 418.7,223.2 418.8,221.9 418.9,223.4 419.0,222.6 419.1,221.8 419.2,223.8 419.3,226.5 419.4,221.9 419.5,222.3 419.6,223.4 419.7,223.8 419.8,226.0 419.9,222.4 420.0,223.3 420.1,222.1 420.2,222.0 420.3,223.1 420.4,222.0 420.5,225.1 420.6,226.1 420.7,223.5 420.8,223.4 420.9,227.3 421.0,224.2 421.1,227.8 421.2,219.7 421.3,224.9 421.4,223.2 421.5,224.3 421.6,227.0 421.7,227.7 421.8,225.5 421.9,228.0 422.0,224.2 422.1,226.8 422.2,226.1 422.3,223.3 422.4,228.5 422.5,225.7 422.6,228.0 422.7,225.8 422.8,227.5 422.9,228.3 423.0,227.1 423.1,226.5 423.2,228.5 423.3,228.2 423.4,227.1 423.5,228.1 423.6,227.9 423.7,227.6 423.8,230.2 423.9,231.9 424.0,227.6 424.1,228.5 424.2,227.3 424.3,226.5 424.4,231.1 424.5,228.0 424.6,229.9 424.7,226.7 424.8,227.9 424.9,230.1 425.0,230.5 425.1,229.9 425.2,230.2 425.3,230.0 425.4,231.6 425.5,232.8 425.6,230.6 425.7,229.3 425.8,227.5 425.9,228.3 426.0,228.5 426.1,231.8 426.2,225.9 426.3,227.2 426.4,226.5 426.5,230.0 426.6,226.9 426.7,224.5 426.8,224.1 426.9,228.8 427.0,225.2 427.1,230.2 427.2,230.0 427.3,225.6 427.4,227.2 427.5,227.8 427.6,225.1 427.7,225.6 427.8,226.6 427.9,227.6 428.0,228.3 428.1,224.1 428.2,227.8 428.3,227.2 428.4,226.9 428.5,226.4 428.6,229.3 428.7,230.2 428.8,226.5 428.9,226.9 429.0,224.1 429.1,226.3 429.2,228.5 429.3,226.6 429.4,227.6 429.5,226.5 429.6,227.0 429.7,228.0 429.8,228.4 429.9,223.3 430.0,226.6 430.1,221.5 430.2,227.2 430.3,226.4 430.4,226.3 430.5,230.5 430.6,228.1 430.7,229.8 430.8,228.9 430.9,230.7 431.0,227.1 431.1,227.2 431.2,227.8 431.3,232.9 431.4,227.3 431.5,228.2 431.6,230.6 431.7,229.9 431.8,227.2 431.9,231.5 432.0,229.2 432.1,231.0 432.2,229.5 432.3,229.8 432.4,226.9 432.5,230.9 432.6,226.9 432.7,228.3 432.8,230.1 432.9,227.4 433.0,228.3 433.1,228.0 433.2,228.3 433.3,229.4 433.4,225.4 433.5,227.3 433.6,232.3 433.7,224.9 433.8,227.3 433.9,229.9 434.0,225.0 434.1,227.1 434.2,227.1 434.3,231.5 434.4,227.1 434.5,229.9 434.6,228.0 434.7,229.1 434.8,227.0 434.9,226.5 435.0,228.4 435.1,226.7 435.2,228.9 435.3,229.4 435.4,229.6 435.5,231.9 435.6,231.8 435.7,226.9 435.8,227.7 435.9,232.2 436.0,229.0 436.1,228.4 436.2,231.2 436.3,227.9 436.4,230.8 436.5,228.6 436.6,231.8 436.7,229.0 436.8,231.1 436.9,231.7 437.0,232.9 437.1,228.4 437.2,229.0 437.3,227.0 437.4,226.2 437.5,228.6 437.6,229.7 437.7,231.5 437.8,228.5 437.9,233.0 438.0,229.8 438.1,230.9 438.2,228.8 438.3,227.0 438.4,232.3 438.5,229.0 438.6,231.7 438.7,229.1 438.8,230.7 438.9,229.3 439.0,228.8 439.1,229.4 439.2,230.9 439.3,227.3 439.4,228.1 439.5,231.8 439.6,228.6 439.7,230.5 439.8,227.6 439.9,230.0 440.0,232.5 440.1,230.5 440.2,230.7 440.3,229.6 440.4,230.2 440.5,226.8 440.6,226.9 440.7,230.7 440.8,226.4 440.9,232.5 441.0,231.4 441.1,227.4 441.2,225.6 441.3,225.0 441.4,230.5 441.5,229.6 441.6,232.5 441.7,230.9 441.8,232.8 441.9,231.6 442.0,227.9 442.1,229.1 442.2,227.9 442.3,228.8 442.4,228.4 442.5,228.7 442.6,231.7 442.7,228.0 442.8,227.1 442.9,228.3 443.0,228.8 443.1,228.4 443.2,229.1 443.3,228.5 443.4,231.3 443.5,230.9 443.6,227.9 443.7,231.0 443.8,231.7 443.9,229.0 444.0,227.3 444.1,229.5 444.2,228.9 444.3,229.7 444.4,227.2 444.5,233.1 444.6,228.6 444.7,230.2 444.8,228.1 444.9,229.3 445.0,224.9 445.1,226.8 445.2,224.4 445.3,231.1 445.4,226.2 445.5,226.1 445.6,231.0 445.7,227.9 445.8,228.4 445.9,230.7 446.0,229.7 446.1,229.4 446.2,230.0 446.3,225.2 446.4,231.4 446.5,231.5 446.6,232.5 446.7,224.8 446.8,226.9 446.9,227.1 447.0,231.2 447.1,229.0 447.2,231.3 447.3,228.9 447.4,227.0 447.5,225.7 447.6,226.8 447.7,230.6 447.8,226.2 447.9,224.5 448.0,228.3 448.1,230.5 448.2,232.1 448.3,229.7 448.4,229.3 448.5,223.7 448.6,226.5 448.7,226.3 448.8,227.1 448.9,225.0 449.0,228.0 449.1,228.6 449.2,226.3 449.3,225.5 449.4,226.6 449.5,226.7 449.6,227.7 449.7,224.4 449.8,228.7 449.9,225.8 450.0,225.4 450.1,227.1 450.2,224.4 450.3,227.4 450.4,229.7 450.5,226.2 450.6,225.7 450.7,224.5 450.8,228.1 450.9,227.5 451.0,222.5 451.1,227.2 451.2,223.9 451.3,223.0 451.4,224.9 451.5,223.5 451.6,226.9 451.7,222.3 451.8,222.2 451.9,222.9 452.0,224.3 452.1,225.8 452.2,222.6 452.3,223.2 452.4,221.3 452.5,224.2 452.6,222.5 452.7,228.7 452.8,228.3 452.9,222.4 453.0,224.5 453.1,225.3 453.2,223.3 453.3,223.3 453.4,225.2 453.5,223.4 453.6,223.4 453.7,223.6 453.8,225.9 453.9,223.1 454.0,224.3 454.1,223.8 454.2,224.6 454.3,222.6 454.4,222.1 454.5,221.8 454.6,223.3 454.7,223.3 454.8,222.8 454.9,223.6 455.0,227.6 455.1,224.5 455.2,219.4 455.3,225.3 455.4,223.0 455.5,220.8 455.6,225.0 455.7,222.2 455.8,224.3 455.9,220.9 456.0,224.1 456.1,221.4 456.2,223.7 456.3,223.5 456.4,219.6 456.5,222.1 456.6,222.3 456.7,221.1 456.8,217.3 456.9,221.3 457.0,219.9 457.1,222.5 457.2,218.3 457.3,222.2 457.4,220.5 457.5,224.8 457.6,217.8 457.7,221.4 457.8,218.5 457.9,217.7 458.0,221.2 458.1,220.0 458.2,220.6 458.3,215.6 458.4,216.0 458.5,219.1 458.6,216.1 458.7,219.7 458.8,220.2 458.9,216.5 459.0,216.5 459.1,216.2 459.2,215.7 459.3,215.7 459.4,215.3 459.5,216.3 459.6,214.8 459.7,214.0 459.8,214.1 459.9,213.3 460.0,214.0 460.1,214.7 460.2,217.2 460.3,209.6 460.4,210.0 460.5,212.3 460.6,212.1 460.7,211.5 460.8,215.0 460.9,207.6 461.0,210.3 461.1,207.7 461.2,209.1 461.3,210.3 461.4,206.0 461.5,210.2 461.6,206.2 461.7,205.4 461.8,204.0 461.9,205.4 462.0,204.8 462.1,207.4 462.2,202.5 462.3,205.4 462.4,206.2 462.5,203.7 462.6,205.1 462.7,201.9 462.8,203.3 462.9,201.5 463.0,205.9 463.1,201.0 463.2,200.3 463.3,201.1 463.4,198.7 463.5,198.9 463.6,199.6 463.7,200.1 463.8,196.9 463.9,197.5 464.0,196.7 464.1,197.9 464.2,197.8 464.3,196.8 464.4,196.0 464.5,198.5 464.6,193.1 464.7,197.8 464.8,195.5 464.9,191.4 465.0,194.3 465.1,191.0 465.2,193.1 465.3,189.2 465.4,194.3 465.5,191.3 465.6,195.7 465.7,191.3 465.8,192.5 465.9,189.8 466.0,192.2 466.1,192.5 466.2,193.2 466.3,196.8 466.4,195.4 466.5,193.9 466.6,192.2 466.7,192.4 466.8,192.8 466.9,191.7 467.0,194.8 467.1,193.6 467.2,194.9 467.3,194.0 467.4,195.7 467.5,198.6 467.6,196.1 467.7,197.4 467.8,194.3 467.9,196.2 468.0,196.1 468.1,198.2 468.2,198.2 468.3,196.9 468.4,199.4 468.5,199.6 468.6,196.7 468.7,199.9 468.8,202.6 468.9,199.2 469.0,203.5 469.1,203.4 469.2,203.0 469.3,204.2 469.4,202.2 469.5,205.7 469.6,202.2 469.7,203.1 469.8,206.7 469.9,203.9 470.0,210.3 470.1,207.8 470.2,209.5 470.3,209.9 470.4,207.7 470.5,208.8 470.6,209.7 470.7,209.2 470.8,212.5 470.9,212.0 471.0,211.0 471.1,213.2 471.2,211.2 471.3,212.7 471.4,211.6 471.5,211.0 471.6,210.1 471.7,211.1 471.8,212.8 471.9,213.9 472.0,209.2 472.1,212.7 472.2,214.8 472.3,213.5 472.4,211.9 472.5,212.2 472.6,217.7 472.7,211.7 472.8,214.2 472.9,216.5 473.0,211.4 473.1,216.8 473.2,212.9 473.3,218.1 473.4,221.6 473.5,214.2 473.6,216.7 473.7,217.7 473.8,216.0 473.9,218.4 474.0,216.3 474.1,216.8 474.2,216.5 474.3,218.3 474.4,219.3 474.5,220.6 474.6,218.6 474.7,216.9 474.8,218.0 474.9,217.9 475.0,218.3 475.1,220.3 475.2,219.3 475.3,219.9 475.4,220.2 475.5,220.0 475.6,219.5 475.7,221.8 475.8,220.4 475.9,220.4 476.0,218.8 476.1,219.7 476.2,220.0 476.3,222.3 476.4,217.9 476.5,222.6 476.6,221.5 476.7,220.1 476.8,220.1 476.9,222.7 477.0,222.2 477.1,217.7 477.2,220.0 477.3,219.4 477.4,221.0 477.5,220.0 477.6,222.0 477.7,220.2 477.8,221.0 477.9,223.8 478.0,220.9 478.1,220.4 478.2,221.4 478.3,218.9 478.4,218.5 478.5,221.4 478.6,221.0 478.7,219.4 478.8,224.0 478.9,223.8 479.0,223.1 479.1,221.9 479.2,222.6 479.3,221.9 479.4,224.4 479.5,220.2 479.6,223.4 479.7,223.1 479.8,221.2 479.9,224.5 480.0,222.5 480.1,226.7 480.2,225.4 480.3,223.2 480.4,222.9 480.5,222.4 480.6,222.5 480.7,224.5 480.8,221.2 480.9,225.7 481.0,225.2 481.1,223.8 481.2,225.7 481.3,228.8 481.4,225.0 481.5,227.7 481.6,224.1 481.7,223.5 481.8,226.5 481.9,221.1 482.0,226.6 482.1,224.8 482.2,224.0 482.3,225.3 482.4,225.4 482.5,227.5 482.6,226.6 482.7,225.6 482.8,224.9 482.9,223.4 483.0,225.5 483.1,220.3 483.2,226.7 483.3,225.0 483.4,222.1 483.5,226.5 483.6,223.9 483.7,224.5 483.8,222.1 483.9,224.1 484.0,226.0 484.1,225.6 484.2,226.6 484.3,224.5 484.4,227.1 484.5,223.2 484.6,224.9 484.7,221.0 484.8,225.6 484.9,225.3 485.0,226.1 485.1,227.6 485.2,229.0 485.3,224.3 485.4,226.1 485.5,222.8 485.6,229.9 485.7,229.0 485.8,227.2 485.9,228.7 486.0,228.2 486.1,225.6 486.2,228.3 486.3,229.2 486.4,228.7 486.5,227.0 486.6,226.5 486.7,231.6 486.8,227.6 486.9,228.3 487.0,224.6 487.1,228.2 487.2,227.9 487.3,226.0 487.4,230.1 487.5,227.6 487.6,228.7 487.7,228.4 487.8,226.0 487.9,228.1 488.0,230.1 488.1,225.6 488.2,225.8 488.3,226.2 488.4,229.5 488.5,227.4 488.6,228.8 488.7,230.5 488.8,226.2 488.9,231.4 489.0,228.6 489.1,228.4 489.2,231.5 489.3,229.5 489.4,226.3 489.5,228.9 489.6,227.6 489.7,229.7 489.8,228.5 489.9,228.9 490.0,231.4 490.1,226.3 490.2,230.0 490.3,229.1 490.4,230.1 490.5,225.4 490.6,228.0 490.7,229.1 490.8,233.0 490.9,227.2 491.0,227.4 491.1,229.3 491.2,230.2 491.3,228.4 491.4,229.6 491.5,226.4 491.6,232.7 491.7,228.9 491.8,229.9 491.9,234.7 492.0,228.7 492.1,227.5 492.2,227.9 492.3,232.9 492.4,229.2 492.5,227.8 492.6,229.3 492.7,229.4 492.8,231.3 492.9,230.6 493.0,230.0 493.1,230.1 493.2,227.7 493.3,226.6 493.4,229.4 493.5,229.6 493.6,229.0 493.7,229.0 493.8,229.6 493.9,226.3 494.0,227.8 494.1,226.8 494.2,224.8 494.3,229.4 494.4,227.8 494.5,228.7 494.6,229.4 494.7,226.5 494.8,231.1 494.9,229.0 495.0,230.3 495.1,231.9 495.2,227.6 495.3,227.2 495.4,228.8 495.5,230.7 495.6,231.0 495.7,225.1 495.8,231.5 495.9,228.0 496.0,229.8 496.1,226.2 496.2,227.0 496.3,229.5 496.4,225.5 496.5,230.7 496.6,228.4 496.7,229.7 496.8,229.4 496.9,228.2 497.0,231.9 497.1,233.8 497.2,230.7 497.3,226.4 497.4,230.2 497.5,229.6 497.6,231.8 497.7,230.4 497.8,234.2 497.9,231.5 498.0,231.2 498.1,229.3 498.2,228.3 498.3,229.8 498.4,230.6 498.5,231.0 498.6,230.5 498.7,229.6 498.8,230.2 498.9,229.2 499.0,228.5 499.1,228.7 499.2,231.4 499.3,232.0 499.4,230.2 499.5,230.5 499.6,231.8 499.7,230.5 499.8,237.0 499.9,231.2 500.0,230.1 500.1,227.7 500.2,231.5 500.3,233.1 500.4,231.2 500.5,233.6 500.6,229.7 500.7,230.8 500.8,230.7 500.9,229.7 501.0,228.2 501.1,229.3 501.2,227.5 501.3,232.6 501.4,230.7 501.5,230.7 501.6,230.0 501.7,232.9 501.8,229.7 501.9,234.4 502.0,233.4 502.1,230.1 502.2,231.1 502.3,232.6 502.4,233.7 502.5,229.8 502.6,230.2 502.7,236.2 502.8,233.1 502.9,233.1 503.0,234.6 503.1,231.6 503.2,229.9 503.3,227.2 503.4,232.2 503.5,228.3 503.6,231.6 503.7,226.7 503.8,229.4 503.9,230.3 504.0,227.8 504.1,229.1 504.2,228.7 504.3,230.5 504.4,227.8 504.5,229.6 504.6,233.0 504.7,233.0 504.8,233.8 504.9,231.0 505.0,229.4 505.1,230.9 505.2,231.5 505.3,230.7 505.4,233.1 505.5,229.1 505.6,229.8 505.7,227.4 505.8,229.4 505.9,232.6 506.0,230.2 506.1,231.6 506.2,230.8 506.3,232.0 506.4,228.7 506.5,231.2 506.6,231.5 506.7,232.1 506.8,232.6 506.9,229.3 507.0,227.9 507.1,229.5 507.2,233.3 507.3,229.1 507.4,228.3 507.5,228.5 507.6,228.7 507.7,232.3 507.8,229.4 507.9,229.8 508.0,233.2 508.1,232.9 508.2,232.8 508.3,229.6 508.4,227.9 508.5,231.9 508.6,234.5 508.7,230.7 508.8,230.6 508.9,224.9 509.0,234.6 509.1,230.7 509.2,227.9 509.3,231.1 509.4,230.1 509.5,232.4 509.6,235.5 509.7,229.8 509.8,231.8 509.9,230.8 510.0,230.4 510.1,232.6 510.2,234.8 510.3,232.6 510.4,231.0 510.5,232.8 510.6,232.3 510.7,233.5 510.8,231.0 510.9,232.2 511.0,235.1 511.1,231.8 511.2,233.4 511.3,231.6 511.4,232.0 511.5,230.4 511.6,237.2 511.7,234.3 511.8,234.3 511.9,234.2 512.0,230.2 512.1,230.5 512.2,231.5 512.3,228.6 512.4,230.3 512.5,233.6 512.6,227.8 512.7,230.3 512.8,231.9 512.9,231.8 513.0,231.8 513.1,230.6 513.2,233.9 513.3,227.8 513.4,233.0 513.5,229.2 513.6,230.6 513.7,231.7 513.8,234.8 513.9,230.0 514.0,228.9 514.1,233.4 514.2,231.3 514.3,231.6 514.4,232.6 514.5,233.8 514.6,232.4 514.7,228.0 514.8,231.5 514.9,231.8 515.0,229.6 515.1,229.9 515.2,233.1 515.3,232.2 515.4,229.9 515.5,232.5 515.6,231.3 515.7,228.5 515.8,230.5 515.9,228.6 516.0,229.4 516.1,231.7 516.2,228.8 516.3,228.8 516.4,231.6 516.5,228.9 516.6,230.2 516.7,230.1 516.8,230.3 516.9,231.4 517.0,229.9 517.1,229.2 517.2,229.9 517.3,232.8 517.4,232.4 517.5,230.5 517.6,233.0 517.7,232.1 517.8,228.7 517.9,233.6 518.0,236.4 518.1,231.7 518.2,227.9 518.3,233.4 518.4,231.6 518.5,230.1 518.6,226.2 518.7,229.9 518.8,229.6 518.9,229.7 519.0,229.5 519.1,232.0 519.2,229.5 519.3,231.4 519.4,226.8 519.5,228.6 519.6,230.7 519.7,229.1 519.8,230.7 519.9,230.4 520.0,230.7 520.1,229.8 520.2,231.6 520.3,227.8 520.4,229.7 520.5,233.4 520.6,229.6 520.7,233.5 520.8,231.0 520.9,230.0 521.0,230.6 521.1,233.4 521.2,229.7 521.3,228.3 521.4,231.2 521.5,232.0 521.6,232.3 521.7,227.6 521.8,231.1 521.9,230.5 522.0,229.8 522.1,229.4 522.2,231.2 522.3,230.5 522.4,230.6 522.5,234.6 522.6,231.0 522.7,228.7 522.8,229.2 522.9,229.5 523.0,227.7 523.1,232.9 523.2,234.5 523.3,229.6 523.4,232.5 523.5,229.4 523.6,229.4 523.7,227.4 523.8,230.6 523.9,233.1 524.0,233.2 524.1,231.8 524.2,230.2 524.3,233.0 524.4,234.0 524.5,229.2 524.6,231.2 524.7,230.8 524.8,229.9 524.9,228.9 525.0,229.5 525.1,231.4 525.2,231.5 525.3,231.4 525.4,233.7 525.5,229.7 525.6,228.4 525.7,228.6 525.8,231.7 525.9,229.7 526.0,227.5 526.1,232.6 526.2,233.6 526.3,231.2 526.4,232.2 526.5,228.1 526.6,228.0 526.7,231.0 526.8,231.0 526.9,230.4 527.0,230.2 527.1,229.5 527.2,233.4 527.3,229.0 527.4,230.5 527.5,232.8 527.6,229.1 527.7,231.4 527.8,230.9 527.9,232.1 528.0,226.4 528.1,230.7 528.2,229.9 528.3,233.5 528.4,231.4 528.5,230.5 528.6,233.4 528.7,232.6 528.8,233.2 528.9,233.4 529.0,232.8 529.1,230.4 529.2,232.1 529.3,232.2 529.4,232.2 529.5,232.3 529.6,231.9 529.7,231.0 529.8,231.7 529.9,229.8 530.0,230.1 530.1,232.8 530.2,230.7 530.3,231.5 530.4,230.2 530.5,228.2 530.6,230.4 530.7,234.1 530.8,231.0 530.9,229.7 531.0,232.6 531.1,230.3 531.2,230.1 531.3,228.5 531.4,228.1 531.5,232.0 531.6,231.5 531.7,231.4 531.8,232.9 531.9,230.7 532.0,231.6 532.1,229.7 532.2,229.7 532.3,229.5 532.4,232.9 532.5,232.3 532.6,228.9 532.7,230.3 532.8,231.0 532.9,229.3 533.0,232.1 533.1,229.4 533.2,230.1 533.3,230.0 533.4,227.1 533.5,227.2 533.6,229.1 533.7,233.0 533.8,231.9 533.9,231.8 534.0,229.8 534.1,230.3 534.2,231.3 534.3,231.8 534.4,228.4 534.5,230.1 534.6,230.2 534.7,234.2 534.8,230.7 534.9,230.1 535.0,233.2 535.1,231.0 535.2,233.6 535.3,229.8 535.4,235.2 535.5,231.6 535.6,231.9 535.7,231.0 535.8,231.3 535.9,231.4 536.0,230.8 536.1,233.8 536.2,227.2 536.3,229.4 536.4,231.0 536.5,231.4 536.6,234.6 536.7,232.8 536.8,232.0 536.9,230.4 537.0,235.6"/></g>
<g><rect x="48.0" y="10.0" width="489.0" height="394.6" fill="none" stroke="#000" stroke-width="1.7"/><line x1="40.00" y1="10.00" x2="48.0" y2="10.00" stroke="#000" stroke-width="1.7"/><line x1="44.20" y1="40.35" x2="48.0" y2="40.35" stroke="#000" stroke-width="1.7"/><line x1="40.00" y1="70.71" x2="48.0" y2="70.71" stroke="#000" stroke-width="1.7"/><line x1="44.20" y1="101.06" x2="48.0" y2="101.06" stroke="#000" stroke-width="1.7"/><line x1="40.00" y1="131.42" x2="48.0" y2="131.42" stroke="#000" stroke-width="1.7"/><line x1="44.20" y1="161.77" x2="48.0" y2="161.77" stroke="#000" stroke-width="1.7"/><line x1="40.00" y1="192.12" x2="48.0" y2="192.12" stroke="#000" stroke-width="1.7"/><line x1="44.20" y1="222.48" x2="48.0" y2="222.48" stroke="#000" stroke-width="1.7"/><line x1="40.00" y1="252.83" x2="48.0" y2="252.83" stroke="#000" stroke-width="1.7"/><line x1="44.20" y1="283.18" x2="48.0" y2="283.18" stroke="#000" stroke-width="1.7"/><line x1="40.00" y1="313.54" x2="48.0" y2="313.54" stroke="#000" stroke-width="1.7"/><line x1="44.20" y1="343.89" x2="48.0" y2="343.89" stroke="#000" stroke-width="1.7"/><line x1="40.00" y1="374.25" x2="48.0" y2="374.25" stroke="#000" stroke-width="1.7"/><line x1="44.20" y1="404.60" x2="48.0" y2="404.60" stroke="#000" stroke-width="1.7"/><line x1="48.00" y1="404.6" x2="48.00" y2="412.60" stroke="#000" stroke-width="1.7"/><line x1="96.90" y1="404.6" x2="96.90" y2="409.40" stroke="#000" stroke-width="1.7"/><line x1="145.80" y1="404.6" x2="145.80" y2="412.60" stroke="#000" stroke-width="1.7"/><line x1="194.70" y1="404.6" x2="194.70" y2="409.40" stroke="#000" stroke-width="1.7"/><line x1="243.60" y1="404.6" x2="243.60" y2="412.60" stroke="#000" stroke-width="1.7"/><line x1="292.50" y1="404.6" x2="292.50" y2="409.40" stroke="#000" stroke-width="1.7"/><line x1="341.40" y1="404.6" x2="341.40" y2="412.60" stroke="#000" stroke-width="1.7"/><line x1="390.30" y1="404.6" x2="390.30" y2="409.40" stroke="#000" stroke-width="1.7"/><line x1="439.20" y1="404.6" x2="439.20" y2="412.60" stroke="#000" stroke-width="1.7"/><line x1="488.10" y1="404.6" x2="488.10" y2="409.40" stroke="#000" stroke-width="1.7"/><line x1="537.00" y1="404.6" x2="537.00" y2="412.60" stroke="#000" stroke-width="1.7"/></g>
<g font-family="'Liberation Sans', Arial, sans-serif" fill="#000" stroke="#000" stroke-width="0.25"><text x="48.00" y="429" text-anchor="middle" font-size="14.7">20</text><text x="145.80" y="429" text-anchor="middle" font-size="14.7">30</text><text x="243.60" y="429" text-anchor="middle" font-size="14.7">40</text><text x="341.40" y="429" text-anchor="middle" font-size="14.7">50</text><text x="439.20" y="429" text-anchor="middle" font-size="14.7">60</text><text x="537.00" y="429" text-anchor="middle" font-size="14.7">70</text>
<text transform="translate(147.6,178.9) rotate(-90)" text-anchor="middle" font-size="15.5" dy="4.6">(220)</text><text transform="translate(201.5,100.3) rotate(-90)" text-anchor="middle" font-size="15.5" dy="4.6">(311)</text><text transform="translate(275.7,191.5) rotate(-90)" text-anchor="middle" font-size="15.5" dy="4.6">(400)</text><text transform="translate(380.4,193.5) rotate(-90)" text-anchor="middle" font-size="15.5" dy="4.6">(422)</text><text transform="translate(411.4,176.8) rotate(-90)" text-anchor="middle" font-size="15.5" dy="4.6">(511)</text><text transform="translate(466.5,163.1) rotate(-90)" text-anchor="middle" font-size="15.5" dy="4.6">(440)</text>
<text x="243.4" y="459.9" font-size="18.5" textLength="98.5" lengthAdjust="spacingAndGlyphs">2<tspan font-size="15">θ</tspan> (degree)</text>
<text transform="translate(22.5,280.3) rotate(-90)" font-size="18.7" textLength="121.5" lengthAdjust="spacingAndGlyphs">Intensity (a.u.)</text>
</g>
<g font-family="'Liberation Sans', Arial, sans-serif"><text x="397.0" y="35.5" textLength="114.2" lengthAdjust="spacingAndGlyphs" fill="#ff0000" stroke="#ff0000" stroke-width="0.3" font-weight="bold" font-size="15">Fe<tspan font-size="10.5" dy="0.8">3</tspan><tspan dy="-0.8">O</tspan><tspan font-size="10.5" dy="0.8">4</tspan><tspan dy="-0.8">-L-Cys-Dox</tspan></text><text x="427.6" y="67.8" textLength="82.2" lengthAdjust="spacingAndGlyphs" fill="#0070c0" stroke="#0070c0" stroke-width="0.3" font-weight="bold" font-size="15">Fe<tspan font-size="10.5" dy="0.8">3</tspan><tspan dy="-0.8">O</tspan><tspan font-size="10.5" dy="0.8">4</tspan><tspan dy="-0.8">-L-Cys</tspan></text><text x="471.9" y="100.6" textLength="38.1" lengthAdjust="spacingAndGlyphs" fill="#000000" stroke="#000000" stroke-width="0.3" font-weight="bold" font-size="15">Fe<tspan font-size="10.5" dy="0.8">3</tspan><tspan dy="-0.8">O</tspan><tspan font-size="10.5" dy="0.8">4</tspan></text></g>
</svg>
</body></html>
